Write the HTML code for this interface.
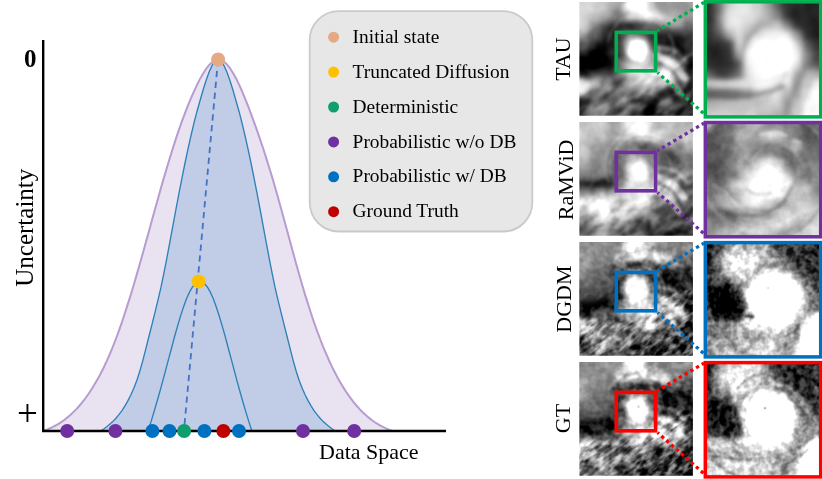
<!DOCTYPE html>
<html><head><meta charset="utf-8"><title>Figure</title>
<style>
html,body{margin:0;padding:0;background:#fff;}
svg{display:block;font-family:"Liberation Serif",serif;}
</style></head><body>
<svg width="822" height="479" viewBox="0 0 822 479">
<rect width="822" height="479" fill="#fff"/>
<defs>
<clipPath id="cpsTAU"><rect x="579.4" y="2.1" width="113.5" height="113.6"/></clipPath>
<filter id="blsTAU" x="-10%" y="-10%" width="120%" height="120%" color-interpolation-filters="sRGB"><feGaussianBlur stdDeviation="3.20"/></filter>
<filter id="sbsTAU" x="-10%" y="-10%" width="120%" height="120%" color-interpolation-filters="sRGB"><feGaussianBlur stdDeviation="3.00"/></filter>
<filter id="fbsTAU" x="-10%" y="-10%" width="120%" height="120%" color-interpolation-filters="sRGB"><feGaussianBlur stdDeviation="1.80"/></filter>
<filter id="sksTAU" x="0" y="0" width="100%" height="100%" color-interpolation-filters="sRGB"><feTurbulence type="fractalNoise" baseFrequency="0.045 0.11" numOctaves="3" seed="31"/><feColorMatrix type="matrix" values="1 0 0 0 0  1 0 0 0 0  1 0 0 0 0  1 0 0 0 0"/><feComponentTransfer><feFuncR type="discrete" tableValues="0 1"/><feFuncG type="discrete" tableValues="0 1"/><feFuncB type="discrete" tableValues="0 1"/><feFuncA type="table" tableValues="1 1 1 0.85 0.45 0 0.45 0.85 1 1 1"/></feComponentTransfer><feGaussianBlur stdDeviation="1.3"/></filter>
<filter id="mbsTAU" x="-20%" y="-20%" width="140%" height="140%"><feGaussianBlur stdDeviation="3.0"/></filter>
<mask id="mksTAU" maskUnits="userSpaceOnUse" x="579.4" y="2.1" width="113.5" height="113.6"><g filter="url(#mbsTAU)"><g transform="translate(579.40,2.10) scale(0.2370)"><path d="M-30.0,330.0 C0.0,329.2 96.7,328.3 150.0,325.0 C203.3,321.7 259.2,325.8 290.0,310.0 C320.8,294.2 300.0,245.8 335.0,230.0 C370.0,214.2 472.5,170.0 500.0,215.0 C527.5,260.0 588.3,452.5 500.0,500.0 C411.7,547.5 58.3,528.3 -30.0,500.0 C-118.3,471.7 -30.0,358.3 -30.0,330.0 Z" fill="#ffffff" opacity="1"/></g></g></mask>
<filter id="txsTAU" x="0" y="0" width="100%" height="100%" color-interpolation-filters="sRGB"><feTurbulence type="fractalNoise" baseFrequency="0.07" numOctaves="2" seed="3" result="n"/><feColorMatrix in="n" type="matrix" values="2.5 0 0 0 -0.75  2.5 0 0 0 -0.75  2.5 0 0 0 -0.75  0 0 0 0 1" result="g"/><feComposite in="SourceGraphic" in2="g" operator="arithmetic" k1="0" k2="1" k3="0.08" k4="-0.04" result="m"/><feComponentTransfer in="m"><feFuncR type="linear" slope="1.5" intercept="-0.25"/><feFuncG type="linear" slope="1.5" intercept="-0.25"/><feFuncB type="linear" slope="1.5" intercept="-0.25"/></feComponentTransfer></filter>
<filter id="pbsTAU" x="-10%" y="-10%" width="120%" height="120%" color-interpolation-filters="sRGB"><feGaussianBlur stdDeviation="2.50"/></filter>
<clipPath id="cplTAU"><rect x="704.0" y="1.0" width="117.0" height="116.6"/></clipPath>
<filter id="bllTAU" x="-10%" y="-10%" width="120%" height="120%" color-interpolation-filters="sRGB"><feGaussianBlur stdDeviation="3.00"/></filter>
<filter id="sblTAU" x="-10%" y="-10%" width="120%" height="120%" color-interpolation-filters="sRGB"><feGaussianBlur stdDeviation="5.50"/></filter>
<filter id="fblTAU" x="-10%" y="-10%" width="120%" height="120%" color-interpolation-filters="sRGB"><feGaussianBlur stdDeviation="2.20"/></filter>
<filter id="txlTAU" x="0" y="0" width="100%" height="100%" color-interpolation-filters="sRGB"><feTurbulence type="fractalNoise" baseFrequency="0.05" numOctaves="2" seed="7" result="n"/><feColorMatrix in="n" type="matrix" values="2.5 0 0 0 -0.75  2.5 0 0 0 -0.75  2.5 0 0 0 -0.75  0 0 0 0 1" result="g"/><feComposite in="SourceGraphic" in2="g" operator="arithmetic" k1="0" k2="1" k3="0.04" k4="-0.02" result="m"/><feComponentTransfer in="m"><feFuncR type="linear" slope="1.5" intercept="-0.25"/><feFuncG type="linear" slope="1.5" intercept="-0.25"/><feFuncB type="linear" slope="1.5" intercept="-0.25"/></feComponentTransfer></filter>
<clipPath id="cpsRaMViD"><rect x="579.4" y="122.1" width="113.5" height="113.6"/></clipPath>
<filter id="blsRaMViD" x="-10%" y="-10%" width="120%" height="120%" color-interpolation-filters="sRGB"><feGaussianBlur stdDeviation="3.20"/></filter>
<filter id="sbsRaMViD" x="-10%" y="-10%" width="120%" height="120%" color-interpolation-filters="sRGB"><feGaussianBlur stdDeviation="3.00"/></filter>
<filter id="fbsRaMViD" x="-10%" y="-10%" width="120%" height="120%" color-interpolation-filters="sRGB"><feGaussianBlur stdDeviation="1.20"/></filter>
<filter id="sksRaMViD" x="0" y="0" width="100%" height="100%" color-interpolation-filters="sRGB"><feTurbulence type="fractalNoise" baseFrequency="0.055 0.14" numOctaves="3" seed="32"/><feColorMatrix type="matrix" values="1 0 0 0 0  1 0 0 0 0  1 0 0 0 0  1 0 0 0 0"/><feComponentTransfer><feFuncR type="discrete" tableValues="0 1"/><feFuncG type="discrete" tableValues="0 1"/><feFuncB type="discrete" tableValues="0 1"/><feFuncA type="table" tableValues="1 1 1 0.85 0.45 0 0.45 0.85 1 1 1"/></feComponentTransfer><feGaussianBlur stdDeviation="0.8"/></filter>
<filter id="mbsRaMViD" x="-20%" y="-20%" width="140%" height="140%"><feGaussianBlur stdDeviation="3.0"/></filter>
<mask id="mksRaMViD" maskUnits="userSpaceOnUse" x="579.4" y="122.1" width="113.5" height="113.6"><g filter="url(#mbsRaMViD)"><g transform="translate(579.40,122.10) scale(0.2370)"><path d="M-30.0,330.0 C0.0,329.2 96.7,328.3 150.0,325.0 C203.3,321.7 259.2,325.8 290.0,310.0 C320.8,294.2 300.0,245.8 335.0,230.0 C370.0,214.2 472.5,170.0 500.0,215.0 C527.5,260.0 588.3,452.5 500.0,500.0 C411.7,547.5 58.3,528.3 -30.0,500.0 C-118.3,471.7 -30.0,358.3 -30.0,330.0 Z" fill="#ffffff" opacity="1"/></g></g></mask>
<filter id="txsRaMViD" x="0" y="0" width="100%" height="100%" color-interpolation-filters="sRGB"><feTurbulence type="fractalNoise" baseFrequency="0.10" numOctaves="2" seed="4" result="n"/><feColorMatrix in="n" type="matrix" values="2.5 0 0 0 -0.75  2.5 0 0 0 -0.75  2.5 0 0 0 -0.75  0 0 0 0 1" result="g"/><feComposite in="SourceGraphic" in2="g" operator="arithmetic" k1="0" k2="1" k3="0.09" k4="-0.045" result="m"/><feComponentTransfer in="m"><feFuncR type="linear" slope="1.4" intercept="-0.2"/><feFuncG type="linear" slope="1.4" intercept="-0.2"/><feFuncB type="linear" slope="1.4" intercept="-0.2"/></feComponentTransfer></filter>
<filter id="pbsRaMViD" x="-10%" y="-10%" width="120%" height="120%" color-interpolation-filters="sRGB"><feGaussianBlur stdDeviation="2.50"/></filter>
<clipPath id="cplRaMViD"><rect x="704.0" y="121.8" width="117.0" height="115.8"/></clipPath>
<filter id="bllRaMViD" x="-10%" y="-10%" width="120%" height="120%" color-interpolation-filters="sRGB"><feGaussianBlur stdDeviation="3.00"/></filter>
<filter id="sblRaMViD" x="-10%" y="-10%" width="120%" height="120%" color-interpolation-filters="sRGB"><feGaussianBlur stdDeviation="4.00"/></filter>
<filter id="fblRaMViD" x="-10%" y="-10%" width="120%" height="120%" color-interpolation-filters="sRGB"><feGaussianBlur stdDeviation="1.60"/></filter>
<filter id="txlRaMViD" x="0" y="0" width="100%" height="100%" color-interpolation-filters="sRGB"><feTurbulence type="fractalNoise" baseFrequency="0.08" numOctaves="3" seed="8" result="n"/><feColorMatrix in="n" type="matrix" values="2.5 0 0 0 -0.75  2.5 0 0 0 -0.75  2.5 0 0 0 -0.75  0 0 0 0 1" result="g"/><feComposite in="SourceGraphic" in2="g" operator="arithmetic" k1="0" k2="1" k3="0.07" k4="-0.035" result="m"/><feComponentTransfer in="m"><feFuncR type="linear" slope="1.4" intercept="-0.2"/><feFuncG type="linear" slope="1.4" intercept="-0.2"/><feFuncB type="linear" slope="1.4" intercept="-0.2"/></feComponentTransfer></filter>
<clipPath id="cpsDGDM"><rect x="579.4" y="242.1" width="113.5" height="113.6"/></clipPath>
<filter id="blsDGDM" x="-10%" y="-10%" width="120%" height="120%" color-interpolation-filters="sRGB"><feGaussianBlur stdDeviation="3.20"/></filter>
<filter id="sbsDGDM" x="-10%" y="-10%" width="120%" height="120%" color-interpolation-filters="sRGB"><feGaussianBlur stdDeviation="2.50"/></filter>
<filter id="fbsDGDM" x="-10%" y="-10%" width="120%" height="120%" color-interpolation-filters="sRGB"><feGaussianBlur stdDeviation="0.90"/></filter>
<filter id="sksDGDM" x="0" y="0" width="100%" height="100%" color-interpolation-filters="sRGB"><feTurbulence type="fractalNoise" baseFrequency="0.075 0.19" numOctaves="3" seed="33"/><feColorMatrix type="matrix" values="1 0 0 0 0  1 0 0 0 0  1 0 0 0 0  1 0 0 0 0"/><feComponentTransfer><feFuncR type="discrete" tableValues="0 1"/><feFuncG type="discrete" tableValues="0 1"/><feFuncB type="discrete" tableValues="0 1"/><feFuncA type="table" tableValues="1 1 1 0.85 0.45 0 0.45 0.85 1 1 1"/></feComponentTransfer><feGaussianBlur stdDeviation="0.45"/></filter>
<filter id="mbsDGDM" x="-20%" y="-20%" width="140%" height="140%"><feGaussianBlur stdDeviation="3.0"/></filter>
<mask id="mksDGDM" maskUnits="userSpaceOnUse" x="579.4" y="242.1" width="113.5" height="113.6"><g filter="url(#mbsDGDM)"><g transform="translate(579.40,242.10) scale(0.2370)"><path d="M-30.0,330.0 C0.0,329.2 96.7,328.3 150.0,325.0 C203.3,321.7 259.2,325.8 290.0,310.0 C320.8,294.2 300.0,245.8 335.0,230.0 C370.0,214.2 472.5,170.0 500.0,215.0 C527.5,260.0 588.3,452.5 500.0,500.0 C411.7,547.5 58.3,528.3 -30.0,500.0 C-118.3,471.7 -30.0,358.3 -30.0,330.0 Z" fill="#ffffff" opacity="1"/></g></g></mask>
<filter id="txsDGDM" x="0" y="0" width="100%" height="100%" color-interpolation-filters="sRGB"><feTurbulence type="fractalNoise" baseFrequency="0.13" numOctaves="2" seed="5" result="n"/><feColorMatrix in="n" type="matrix" values="2.5 0 0 0 -0.75  2.5 0 0 0 -0.75  2.5 0 0 0 -0.75  0 0 0 0 1" result="g"/><feComposite in="SourceGraphic" in2="g" operator="arithmetic" k1="0" k2="1" k3="0.15" k4="-0.075" result="m"/><feComponentTransfer in="m"><feFuncR type="linear" slope="1.9" intercept="-0.45"/><feFuncG type="linear" slope="1.9" intercept="-0.45"/><feFuncB type="linear" slope="1.9" intercept="-0.45"/></feComponentTransfer></filter>
<filter id="pbsDGDM" x="-10%" y="-10%" width="120%" height="120%" color-interpolation-filters="sRGB"><feGaussianBlur stdDeviation="2.50"/></filter>
<clipPath id="cplDGDM"><rect x="704.0" y="241.8" width="117.0" height="115.8"/></clipPath>
<filter id="bllDGDM" x="-10%" y="-10%" width="120%" height="120%" color-interpolation-filters="sRGB"><feGaussianBlur stdDeviation="3.00"/></filter>
<filter id="sblDGDM" x="-10%" y="-10%" width="120%" height="120%" color-interpolation-filters="sRGB"><feGaussianBlur stdDeviation="3.00"/></filter>
<filter id="fblDGDM" x="-10%" y="-10%" width="120%" height="120%" color-interpolation-filters="sRGB"><feGaussianBlur stdDeviation="0.90"/></filter>
<filter id="txlDGDM" x="0" y="0" width="100%" height="100%" color-interpolation-filters="sRGB"><feTurbulence type="fractalNoise" baseFrequency="0.16" numOctaves="2" seed="9" result="n"/><feColorMatrix in="n" type="matrix" values="2.5 0 0 0 -0.75  2.5 0 0 0 -0.75  2.5 0 0 0 -0.75  0 0 0 0 1" result="g"/><feComposite in="SourceGraphic" in2="g" operator="arithmetic" k1="0" k2="1" k3="0.16" k4="-0.08" result="m"/><feComponentTransfer in="m"><feFuncR type="linear" slope="1.9" intercept="-0.45"/><feFuncG type="linear" slope="1.9" intercept="-0.45"/><feFuncB type="linear" slope="1.9" intercept="-0.45"/></feComponentTransfer></filter>
<clipPath id="cpsGT"><rect x="579.4" y="362.1" width="113.5" height="113.6"/></clipPath>
<filter id="blsGT" x="-10%" y="-10%" width="120%" height="120%" color-interpolation-filters="sRGB"><feGaussianBlur stdDeviation="3.20"/></filter>
<filter id="sbsGT" x="-10%" y="-10%" width="120%" height="120%" color-interpolation-filters="sRGB"><feGaussianBlur stdDeviation="2.50"/></filter>
<filter id="fbsGT" x="-10%" y="-10%" width="120%" height="120%" color-interpolation-filters="sRGB"><feGaussianBlur stdDeviation="0.90"/></filter>
<filter id="sksGT" x="0" y="0" width="100%" height="100%" color-interpolation-filters="sRGB"><feTurbulence type="fractalNoise" baseFrequency="0.075 0.19" numOctaves="3" seed="34"/><feColorMatrix type="matrix" values="1 0 0 0 0  1 0 0 0 0  1 0 0 0 0  1 0 0 0 0"/><feComponentTransfer><feFuncR type="discrete" tableValues="0 1"/><feFuncG type="discrete" tableValues="0 1"/><feFuncB type="discrete" tableValues="0 1"/><feFuncA type="table" tableValues="1 1 1 0.85 0.45 0 0.45 0.85 1 1 1"/></feComponentTransfer><feGaussianBlur stdDeviation="0.45"/></filter>
<filter id="mbsGT" x="-20%" y="-20%" width="140%" height="140%"><feGaussianBlur stdDeviation="3.0"/></filter>
<mask id="mksGT" maskUnits="userSpaceOnUse" x="579.4" y="362.1" width="113.5" height="113.6"><g filter="url(#mbsGT)"><g transform="translate(579.40,362.10) scale(0.2370)"><path d="M-30.0,330.0 C0.0,329.2 96.7,328.3 150.0,325.0 C203.3,321.7 259.2,325.8 290.0,310.0 C320.8,294.2 300.0,245.8 335.0,230.0 C370.0,214.2 472.5,170.0 500.0,215.0 C527.5,260.0 588.3,452.5 500.0,500.0 C411.7,547.5 58.3,528.3 -30.0,500.0 C-118.3,471.7 -30.0,358.3 -30.0,330.0 Z" fill="#ffffff" opacity="1"/></g></g></mask>
<filter id="txsGT" x="0" y="0" width="100%" height="100%" color-interpolation-filters="sRGB"><feTurbulence type="fractalNoise" baseFrequency="0.13" numOctaves="2" seed="6" result="n"/><feColorMatrix in="n" type="matrix" values="2.5 0 0 0 -0.75  2.5 0 0 0 -0.75  2.5 0 0 0 -0.75  0 0 0 0 1" result="g"/><feComposite in="SourceGraphic" in2="g" operator="arithmetic" k1="0" k2="1" k3="0.15" k4="-0.075" result="m"/><feComponentTransfer in="m"><feFuncR type="linear" slope="1.9" intercept="-0.45"/><feFuncG type="linear" slope="1.9" intercept="-0.45"/><feFuncB type="linear" slope="1.9" intercept="-0.45"/></feComponentTransfer></filter>
<filter id="pbsGT" x="-10%" y="-10%" width="120%" height="120%" color-interpolation-filters="sRGB"><feGaussianBlur stdDeviation="2.50"/></filter>
<clipPath id="cplGT"><rect x="704.0" y="361.8" width="117.0" height="115.8"/></clipPath>
<filter id="bllGT" x="-10%" y="-10%" width="120%" height="120%" color-interpolation-filters="sRGB"><feGaussianBlur stdDeviation="3.00"/></filter>
<filter id="sblGT" x="-10%" y="-10%" width="120%" height="120%" color-interpolation-filters="sRGB"><feGaussianBlur stdDeviation="3.00"/></filter>
<filter id="fblGT" x="-10%" y="-10%" width="120%" height="120%" color-interpolation-filters="sRGB"><feGaussianBlur stdDeviation="0.90"/></filter>
<filter id="txlGT" x="0" y="0" width="100%" height="100%" color-interpolation-filters="sRGB"><feTurbulence type="fractalNoise" baseFrequency="0.16" numOctaves="2" seed="10" result="n"/><feColorMatrix in="n" type="matrix" values="2.5 0 0 0 -0.75  2.5 0 0 0 -0.75  2.5 0 0 0 -0.75  0 0 0 0 1" result="g"/><feComposite in="SourceGraphic" in2="g" operator="arithmetic" k1="0" k2="1" k3="0.16" k4="-0.08" result="m"/><feComponentTransfer in="m"><feFuncR type="linear" slope="1.9" intercept="-0.45"/><feFuncG type="linear" slope="1.9" intercept="-0.45"/><feFuncB type="linear" slope="1.9" intercept="-0.45"/></feComponentTransfer></filter>
</defs>
<g id="chart">
<path d="M43.5,431.0 L46.5,429.8 L49.5,428.5 L52.5,427.1 L55.5,425.5 L58.5,423.8 L61.6,421.8 L64.6,419.7 L67.6,417.3 L70.6,414.8 L73.6,411.9 L76.6,408.9 L79.6,405.5 L82.6,401.9 L85.6,398.0 L88.6,393.8 L91.6,389.2 L94.6,384.3 L97.7,379.1 L100.7,373.5 L103.7,367.5 L106.7,361.1 L109.7,354.3 L112.7,347.1 L115.7,339.5 L118.7,331.4 L121.7,322.8 L124.7,313.8 L127.7,304.4 L130.8,294.7 L133.8,284.7 L136.8,274.4 L139.8,263.9 L142.8,253.3 L145.8,242.5 L148.8,231.7 L151.8,220.8 L154.8,210.0 L157.8,199.2 L160.8,188.5 L163.8,178.1 L166.9,167.8 L169.9,157.8 L172.9,148.1 L175.9,138.8 L178.9,129.9 L181.9,121.4 L184.9,113.4 L187.9,105.7 L190.9,98.4 L193.9,91.6 L196.9,85.1 L199.9,79.1 L203.0,73.7 L206.0,69.0 L209.0,65.1 L212.0,62.2 L215.0,60.2 L218.0,59.5 L221.0,60.0 L224.0,61.7 L227.0,64.5 L230.0,68.3 L233.0,73.0 L236.1,78.4 L239.1,84.6 L242.1,91.3 L245.1,98.6 L248.1,106.2 L251.1,114.1 L254.1,122.3 L257.1,130.6 L260.1,139.3 L263.1,148.3 L266.1,157.6 L269.1,167.3 L272.2,177.3 L275.2,187.7 L278.2,198.3 L281.2,209.1 L284.2,220.1 L287.2,231.1 L290.2,242.1 L293.2,253.0 L296.2,263.9 L299.2,274.5 L302.2,285.0 L305.2,295.1 L308.3,304.8 L311.3,314.2 L314.3,323.1 L317.3,331.5 L320.3,339.5 L323.3,347.1 L326.3,354.2 L329.3,361.0 L332.3,367.4 L335.3,373.3 L338.3,378.9 L341.4,384.2 L344.4,389.1 L347.4,393.7 L350.4,397.9 L353.4,401.9 L356.4,405.5 L359.4,408.9 L362.4,412.0 L365.4,414.8 L368.4,417.4 L371.4,419.8 L374.4,422.0 L377.5,423.9 L380.5,425.7 L383.5,427.2 L386.5,428.6 L389.5,429.9 L392.5,431.0 Z" fill="#e9e3f1" stroke="#b79ccf" stroke-width="2"/>
<path d="M100.7,431.0 L103.7,429.0 L106.7,426.8 L109.7,424.3 L112.7,421.6 L115.7,418.5 L118.7,414.9 L121.8,410.8 L124.8,406.2 L127.8,400.9 L130.8,395.0 L133.8,388.2 L136.8,380.4 L139.8,371.3 L142.8,360.6 L145.8,348.9 L148.8,337.0 L151.8,325.1 L154.8,313.1 L157.8,300.8 L160.9,287.7 L163.9,273.2 L166.9,257.8 L169.9,241.8 L172.9,225.6 L175.9,209.5 L178.9,193.7 L181.9,178.4 L184.9,163.5 L187.9,149.4 L190.9,136.0 L193.9,123.4 L196.9,111.7 L200.0,100.7 L203.0,90.3 L206.0,80.7 L209.0,72.3 L212.0,65.6 L215.0,61.1 L218.0,59.5 L221.0,61.1 L224.0,65.6 L227.0,72.3 L230.0,80.7 L233.0,90.3 L236.0,100.7 L239.1,111.7 L242.1,123.4 L245.1,136.0 L248.1,149.4 L251.1,163.5 L254.1,178.4 L257.1,193.7 L260.1,209.5 L263.1,225.6 L266.1,241.8 L269.1,257.8 L272.1,273.2 L275.1,287.7 L278.2,300.8 L281.2,313.1 L284.2,325.1 L287.2,337.0 L290.2,348.9 L293.2,360.6 L296.2,371.3 L299.2,380.4 L302.2,388.2 L305.2,395.0 L308.2,400.9 L311.2,406.2 L314.2,410.8 L317.3,414.9 L320.3,418.5 L323.3,421.6 L326.3,424.3 L329.3,426.8 L332.3,429.0 L335.3,431.0 Z" fill="#c1cde6" stroke="#2f80b9" stroke-width="1.35"/>
<path d="M147.9,431.0 L150.9,422.1 L153.8,412.5 L156.8,402.3 L159.8,391.8 L162.8,380.9 L165.7,369.8 L168.7,358.6 L171.7,347.5 L174.6,336.5 L177.6,325.9 L180.6,315.9 L183.6,306.8 L186.5,298.8 L189.5,292.1 L192.5,287.0 L195.4,283.5 L198.4,281.7 L201.4,281.7 L204.4,283.5 L207.3,287.0 L210.3,292.1 L213.3,298.8 L216.2,306.8 L219.2,316.0 L222.2,325.9 L225.2,336.5 L228.1,347.5 L231.1,358.6 L234.1,369.8 L237.0,380.9 L240.0,391.8 L243.0,402.3 L246.0,412.4 L248.9,421.9 L251.9,431.0" fill="none" stroke="#2f80b9" stroke-width="1.35"/>
<line x1="218" y1="60" x2="184" y2="430" stroke="#4472c4" stroke-width="1.8" stroke-dasharray="6.3,4.6"/>
<path d="M43.2,40 V431.0 H446" fill="none" stroke="#000" stroke-width="2.4" stroke-linejoin="miter"/>
<circle cx="67.2" cy="431.0" r="7" fill="#7030a0"/>
<circle cx="115.4" cy="431.0" r="7" fill="#7030a0"/>
<circle cx="152.4" cy="431.0" r="7" fill="#0070c0"/>
<circle cx="169.5" cy="431.0" r="7" fill="#0070c0"/>
<circle cx="204.4" cy="431.0" r="7" fill="#0070c0"/>
<circle cx="239.0" cy="431.0" r="7" fill="#0070c0"/>
<circle cx="184.1" cy="431.0" r="7" fill="#0f9e6e"/>
<circle cx="223.4" cy="431.0" r="7" fill="#c00000"/>
<circle cx="303.0" cy="431.0" r="7" fill="#7030a0"/>
<circle cx="354.2" cy="431.0" r="7" fill="#7030a0"/>
<circle cx="218.1" cy="59.5" r="7" fill="#e5a984"/>
<circle cx="198.7" cy="281.5" r="7" fill="#ffc000"/>
<text x="24" y="67" font-size="25" font-weight="bold">0</text>
<text x="17.1" y="425.8" font-size="37">+</text>
<text transform="translate(33.3,286.7) rotate(-90)" font-size="25">Uncertainty</text>
<text x="319" y="459.3" font-size="22">Data Space</text>
</g>
<g id="legend">
<rect x="309.7" y="11.2" width="222.6" height="220.3" rx="29" ry="29" fill="#e7e7e7" stroke="#cbc9cb" stroke-width="1.8"/>
<circle cx="333.6" cy="37.2" r="5.5" fill="#e5a984"/>
<text x="352.6" y="42.8" font-size="19.4">Initial state</text>
<circle cx="333.6" cy="72.1" r="5.5" fill="#ffc000"/>
<text x="352.6" y="77.7" font-size="19.4">Truncated Diffusion</text>
<circle cx="333.6" cy="107.0" r="5.5" fill="#0f9e6e"/>
<text x="352.6" y="112.6" font-size="19.4">Deterministic</text>
<circle cx="333.6" cy="141.9" r="5.5" fill="#7030a0"/>
<text x="352.6" y="147.5" font-size="19.4">Probabilistic w/o DB</text>
<circle cx="333.6" cy="176.8" r="5.5" fill="#0070c0"/>
<text x="352.6" y="182.4" font-size="19.4">Probabilistic w/ DB</text>
<circle cx="333.6" cy="211.7" r="5.5" fill="#c00000"/>
<text x="352.6" y="217.3" font-size="19.4">Ground Truth</text>
</g>
<g id="panels">
<g clip-path="url(#cpsTAU)">
<g filter="url(#txsTAU)"><g filter="url(#blsTAU)"><g transform="translate(579.40,2.10) scale(9.4583,9.4667)">
<rect x="-3" y="-3" width="18" height="18" fill="#808080"/>
<path fill="#141414" d="M-2,6h1.04v1.04h-1.04zM-1,6h1.04v1.04h-1.04zM0,6h1.04v1.04h-1.04zM1,6h1.04v1.04h-1.04z"/>
<path fill="#1e1e1e" d="M2,6h1.04v1.04h-1.04z"/>
<path fill="#282828" d="M1,5h1.04v1.04h-1.04zM2,5h1.04v1.04h-1.04z"/>
<path fill="#323232" d="M2,4h1.04v1.04h-1.04zM9,4h1.04v1.04h-1.04zM3,6h1.04v1.04h-1.04zM6,10h1.04v1.04h-1.04zM11,10h1.04v1.04h-1.04zM12,10h1.04v1.04h-1.04zM13,10h1.04v1.04h-1.04zM-2,11h1.04v1.04h-1.04zM-1,11h1.04v1.04h-1.04zM0,11h1.04v1.04h-1.04zM7,11h1.04v1.04h-1.04zM8,11h1.04v1.04h-1.04zM-2,12h1.04v1.04h-1.04zM-1,12h1.04v1.04h-1.04zM0,12h1.04v1.04h-1.04zM7,12h1.04v1.04h-1.04zM8,12h1.04v1.04h-1.04zM-2,13h1.04v1.04h-1.04zM-1,13h1.04v1.04h-1.04zM0,13h1.04v1.04h-1.04zM7,13h1.04v1.04h-1.04zM8,13h1.04v1.04h-1.04z"/>
<path fill="#3c3c3c" d="M4,2h1.04v1.04h-1.04zM3,3h1.04v1.04h-1.04zM8,3h1.04v1.04h-1.04zM9,3h1.04v1.04h-1.04zM3,4h1.04v1.04h-1.04zM8,4h1.04v1.04h-1.04zM10,4h1.04v1.04h-1.04zM-2,5h1.04v1.04h-1.04zM-1,5h1.04v1.04h-1.04zM0,5h1.04v1.04h-1.04zM11,6h1.04v1.04h-1.04zM12,6h1.04v1.04h-1.04zM13,6h1.04v1.04h-1.04zM-2,7h1.04v1.04h-1.04zM-1,7h1.04v1.04h-1.04zM0,7h1.04v1.04h-1.04zM9,9h1.04v1.04h-1.04zM10,9h1.04v1.04h-1.04zM11,9h1.04v1.04h-1.04zM12,9h1.04v1.04h-1.04zM13,9h1.04v1.04h-1.04zM-2,10h1.04v1.04h-1.04zM-1,10h1.04v1.04h-1.04zM0,10h1.04v1.04h-1.04zM7,10h1.04v1.04h-1.04zM10,10h1.04v1.04h-1.04zM10,11h1.04v1.04h-1.04zM11,11h1.04v1.04h-1.04zM12,11h1.04v1.04h-1.04zM13,11h1.04v1.04h-1.04zM10,12h1.04v1.04h-1.04zM11,12h1.04v1.04h-1.04zM12,12h1.04v1.04h-1.04zM13,12h1.04v1.04h-1.04zM10,13h1.04v1.04h-1.04zM11,13h1.04v1.04h-1.04zM12,13h1.04v1.04h-1.04zM13,13h1.04v1.04h-1.04z"/>
<path fill="#464646" d="M3,2h1.04v1.04h-1.04zM2,3h1.04v1.04h-1.04zM10,3h1.04v1.04h-1.04zM1,4h1.04v1.04h-1.04zM11,4h1.04v1.04h-1.04zM12,4h1.04v1.04h-1.04zM13,4h1.04v1.04h-1.04zM3,5h1.04v1.04h-1.04zM10,5h1.04v1.04h-1.04zM11,5h1.04v1.04h-1.04zM12,5h1.04v1.04h-1.04zM13,5h1.04v1.04h-1.04zM11,8h1.04v1.04h-1.04zM12,8h1.04v1.04h-1.04zM13,8h1.04v1.04h-1.04zM8,9h1.04v1.04h-1.04zM5,10h1.04v1.04h-1.04zM9,11h1.04v1.04h-1.04zM9,12h1.04v1.04h-1.04zM9,13h1.04v1.04h-1.04z"/>
<path fill="#505050" d="M5,2h1.04v1.04h-1.04zM7,3h1.04v1.04h-1.04zM11,3h1.04v1.04h-1.04zM12,3h1.04v1.04h-1.04zM13,3h1.04v1.04h-1.04zM9,5h1.04v1.04h-1.04zM11,7h1.04v1.04h-1.04zM12,7h1.04v1.04h-1.04zM13,7h1.04v1.04h-1.04zM8,10h1.04v1.04h-1.04zM5,11h1.04v1.04h-1.04zM6,11h1.04v1.04h-1.04zM5,12h1.04v1.04h-1.04zM6,12h1.04v1.04h-1.04zM5,13h1.04v1.04h-1.04zM6,13h1.04v1.04h-1.04z"/>
<path fill="#5a5a5a" d="M4,1h1.04v1.04h-1.04zM4,5h1.04v1.04h-1.04zM9,10h1.04v1.04h-1.04zM1,11h1.04v1.04h-1.04zM4,11h1.04v1.04h-1.04zM1,12h1.04v1.04h-1.04zM4,12h1.04v1.04h-1.04zM1,13h1.04v1.04h-1.04zM4,13h1.04v1.04h-1.04z"/>
<path fill="#646464" d="M2,2h1.04v1.04h-1.04zM6,2h1.04v1.04h-1.04zM1,3h1.04v1.04h-1.04zM-2,4h1.04v1.04h-1.04zM-1,4h1.04v1.04h-1.04zM0,4h1.04v1.04h-1.04zM8,5h1.04v1.04h-1.04zM3,7h1.04v1.04h-1.04zM5,9h1.04v1.04h-1.04zM1,10h1.04v1.04h-1.04z"/>
<path fill="#6e6e6e" d="M3,1h1.04v1.04h-1.04zM11,2h1.04v1.04h-1.04zM12,2h1.04v1.04h-1.04zM13,2h1.04v1.04h-1.04zM4,3h1.04v1.04h-1.04zM7,4h1.04v1.04h-1.04zM1,7h1.04v1.04h-1.04zM2,7h1.04v1.04h-1.04zM2,8h1.04v1.04h-1.04zM4,8h1.04v1.04h-1.04zM10,8h1.04v1.04h-1.04zM2,9h1.04v1.04h-1.04zM3,11h1.04v1.04h-1.04zM3,12h1.04v1.04h-1.04zM3,13h1.04v1.04h-1.04z"/>
<path fill="#787878" d="M1,2h1.04v1.04h-1.04zM7,2h1.04v1.04h-1.04zM10,2h1.04v1.04h-1.04zM6,3h1.04v1.04h-1.04zM3,8h1.04v1.04h-1.04zM4,9h1.04v1.04h-1.04z"/>
<path fill="#828282" d="M5,3h1.04v1.04h-1.04zM4,4h1.04v1.04h-1.04zM5,8h1.04v1.04h-1.04zM3,9h1.04v1.04h-1.04zM7,9h1.04v1.04h-1.04zM2,10h1.04v1.04h-1.04zM4,10h1.04v1.04h-1.04zM2,11h1.04v1.04h-1.04zM2,12h1.04v1.04h-1.04zM2,13h1.04v1.04h-1.04z"/>
<path fill="#8c8c8c" d="M4,-2h1.04v1.04h-1.04zM4,-1h1.04v1.04h-1.04zM4,0h1.04v1.04h-1.04zM11,1h1.04v1.04h-1.04zM12,1h1.04v1.04h-1.04zM13,1h1.04v1.04h-1.04zM9,2h1.04v1.04h-1.04zM7,5h1.04v1.04h-1.04zM9,8h1.04v1.04h-1.04zM3,10h1.04v1.04h-1.04z"/>
<path fill="#969696" d="M8,-2h1.04v1.04h-1.04zM9,-2h1.04v1.04h-1.04zM10,-2h1.04v1.04h-1.04zM11,-2h1.04v1.04h-1.04zM12,-2h1.04v1.04h-1.04zM13,-2h1.04v1.04h-1.04zM8,-1h1.04v1.04h-1.04zM9,-1h1.04v1.04h-1.04zM10,-1h1.04v1.04h-1.04zM11,-1h1.04v1.04h-1.04zM12,-1h1.04v1.04h-1.04zM13,-1h1.04v1.04h-1.04zM8,0h1.04v1.04h-1.04zM9,0h1.04v1.04h-1.04zM10,0h1.04v1.04h-1.04zM11,0h1.04v1.04h-1.04zM12,0h1.04v1.04h-1.04zM13,0h1.04v1.04h-1.04zM2,1h1.04v1.04h-1.04zM10,1h1.04v1.04h-1.04zM8,2h1.04v1.04h-1.04zM-2,3h1.04v1.04h-1.04zM-1,3h1.04v1.04h-1.04zM0,3h1.04v1.04h-1.04zM10,6h1.04v1.04h-1.04zM4,7h1.04v1.04h-1.04zM10,7h1.04v1.04h-1.04zM1,9h1.04v1.04h-1.04zM6,9h1.04v1.04h-1.04z"/>
<path fill="#a0a0a0" d="M3,-2h1.04v1.04h-1.04zM3,-1h1.04v1.04h-1.04zM3,0h1.04v1.04h-1.04z"/>
<path fill="#aaaaaa" d="M7,-2h1.04v1.04h-1.04zM7,-1h1.04v1.04h-1.04zM7,0h1.04v1.04h-1.04zM5,1h1.04v1.04h-1.04zM9,1h1.04v1.04h-1.04zM4,6h1.04v1.04h-1.04zM7,6h1.04v1.04h-1.04zM1,8h1.04v1.04h-1.04zM6,8h1.04v1.04h-1.04zM8,8h1.04v1.04h-1.04z"/>
<path fill="#b4b4b4" d="M1,1h1.04v1.04h-1.04zM9,6h1.04v1.04h-1.04zM5,7h1.04v1.04h-1.04z"/>
<path fill="#bebebe" d="M-2,-2h1.04v1.04h-1.04zM-1,-2h1.04v1.04h-1.04zM0,-2h1.04v1.04h-1.04zM2,-2h1.04v1.04h-1.04zM-2,-1h1.04v1.04h-1.04zM-1,-1h1.04v1.04h-1.04zM0,-1h1.04v1.04h-1.04zM2,-1h1.04v1.04h-1.04zM-2,0h1.04v1.04h-1.04zM-1,0h1.04v1.04h-1.04zM0,0h1.04v1.04h-1.04zM2,0h1.04v1.04h-1.04zM8,1h1.04v1.04h-1.04zM-2,2h1.04v1.04h-1.04zM-1,2h1.04v1.04h-1.04zM0,2h1.04v1.04h-1.04zM8,6h1.04v1.04h-1.04zM6,7h1.04v1.04h-1.04zM8,7h1.04v1.04h-1.04zM-2,9h1.04v1.04h-1.04zM-1,9h1.04v1.04h-1.04zM0,9h1.04v1.04h-1.04z"/>
<path fill="#c8c8c8" d="M1,-2h1.04v1.04h-1.04zM1,-1h1.04v1.04h-1.04zM1,0h1.04v1.04h-1.04zM-2,1h1.04v1.04h-1.04zM-1,1h1.04v1.04h-1.04zM0,1h1.04v1.04h-1.04zM6,1h1.04v1.04h-1.04zM5,4h1.04v1.04h-1.04zM5,6h1.04v1.04h-1.04zM6,6h1.04v1.04h-1.04zM7,7h1.04v1.04h-1.04zM9,7h1.04v1.04h-1.04zM-2,8h1.04v1.04h-1.04zM-1,8h1.04v1.04h-1.04zM0,8h1.04v1.04h-1.04zM7,8h1.04v1.04h-1.04z"/>
<path fill="#d2d2d2" d="M7,1h1.04v1.04h-1.04z"/>
<path fill="#d7d7d7" d="M5,-2h1.04v1.04h-1.04zM5,-1h1.04v1.04h-1.04zM5,0h1.04v1.04h-1.04z"/>
<path fill="#dcdcdc" d="M6,4h1.04v1.04h-1.04zM5,5h1.04v1.04h-1.04z"/>
<path fill="#e1e1e1" d="M6,-2h1.04v1.04h-1.04zM6,-1h1.04v1.04h-1.04zM6,0h1.04v1.04h-1.04z"/>
<path fill="#f0f0f0" d="M6,5h1.04v1.04h-1.04z"/>
</g></g>
<g filter="url(#sbsTAU)"><g transform="translate(579.40,2.10) scale(0.2370)">
<path d="M0.0,238.0 C20.0,237.0 95.0,228.3 120.0,232.0 C145.0,235.7 146.7,248.7 150.0,260.0 C153.3,271.3 155.0,291.7 140.0,300.0 C125.0,308.3 83.3,309.2 60.0,310.0 C36.7,310.8 10.0,317.0 0.0,305.0 C-10.0,293.0 0.0,249.2 0.0,238.0 Z" fill="#282828" opacity="0.5"/>
<path d="M135.0,125.0 C145.8,120.8 174.2,105.0 200.0,100.0 C225.8,95.0 265.0,91.7 290.0,95.0 C315.0,98.3 328.3,108.3 350.0,120.0 C371.7,131.7 408.3,157.5 420.0,165.0" fill="none" stroke="#2d2d2d" stroke-width="24" stroke-linecap="round" opacity="0.45"/>
<path d="M150.0,72.0 C166.7,69.2 220.0,56.2 250.0,55.0 C280.0,53.8 301.7,58.3 330.0,65.0 C358.3,71.7 405.0,90.0 420.0,95.0" fill="none" stroke="#dcdcdc" stroke-width="22" stroke-linecap="round" opacity="0.45"/>
<ellipse cx="225" cy="18" rx="50" ry="26" fill="#f0f0f0" opacity="0.6" transform="rotate(0 225 18)"/>
<ellipse cx="248" cy="200" rx="42" ry="45" fill="#fcfcfc" opacity="0.7" transform="rotate(0 248 200)"/>
<path d="M178.0,135.0 C175.8,145.8 164.3,177.5 165.0,200.0 C165.7,222.5 179.2,258.3 182.0,270.0" fill="none" stroke="#282828" stroke-width="20" stroke-linecap="round" opacity="0.55"/>
</g></g>
<g filter="url(#fbsTAU)"><g transform="translate(579.40,2.10) scale(0.2370)">
<path d="M325.0,228.0 C335.8,232.5 370.0,239.7 390.0,255.0 C410.0,270.3 435.8,309.2 445.0,320.0" fill="none" stroke="#f0f0f0" stroke-width="27.828" stroke-linecap="round" opacity="0.42"/>
<path d="M300.0,290.0 C311.7,294.7 349.2,302.2 370.0,318.0 C390.8,333.8 415.8,373.8 425.0,385.0" fill="none" stroke="#f0f0f0" stroke-width="25.2982" stroke-linecap="round" opacity="0.38"/>
<path d="M335.0,190.0 C345.8,192.5 380.8,195.0 400.0,205.0 C419.2,215.0 441.7,242.5 450.0,250.0" fill="none" stroke="#ebebeb" stroke-width="20.2386" stroke-linecap="round" opacity="0.25"/>
<path d="M335.0,258.0 C344.5,263.7 375.8,276.3 392.0,292.0 C408.2,307.7 425.3,342.0 432.0,352.0" fill="none" stroke="#323232" stroke-width="15.1789" stroke-linecap="round" opacity="0.35"/>
<path d="M376.8,134.2 C379.2,138.8 387.3,151.9 391.1,161.5 C394.9,171.1 397.9,181.5 399.6,191.9 C401.3,202.3 402.0,213.4 401.5,224.2 C401.0,235.0 399.4,246.2 396.5,256.9 C393.6,267.6 389.5,278.3 384.4,288.4 C379.2,298.5 368.7,312.6 365.6,317.4" fill="none" stroke="#ebebeb" stroke-width="8.6" stroke-linecap="round" opacity="0.15"/>
<path d="M190.4,189.0 C190.4,186.8 190.0,180.2 190.6,175.8 C191.2,171.4 192.2,166.8 193.9,162.4 C195.6,158.0 199.4,151.5 200.5,149.3" fill="none" stroke="#ebebeb" stroke-width="6.2" stroke-linecap="round" opacity="0.16"/>
<path d="M301.4,208.4 C301.5,210.4 302.1,216.4 301.8,220.6 C301.5,224.8 300.7,229.1 299.4,233.3 C298.1,237.5 296.2,241.8 293.9,245.8 C291.5,249.8 288.6,253.7 285.3,257.3 C282.0,260.9 278.1,264.3 273.9,267.2 C269.7,270.1 262.2,273.4 259.9,274.7" fill="none" stroke="#ebebeb" stroke-width="8.1" stroke-linecap="round" opacity="0.19"/>
<path d="M215.7,239.5 C214.0,238.6 208.7,236.4 205.4,234.2 C202.1,232.0 198.9,229.3 196.0,226.2 C193.1,223.1 190.4,219.6 188.2,215.8 C186.0,212.0 184.0,207.7 182.6,203.2 C181.2,198.7 180.3,193.8 179.9,188.9 C179.5,184.0 180.2,176.2 180.3,173.7" fill="none" stroke="#323232" stroke-width="9" stroke-linecap="round" opacity="0.18"/>
<path d="M329.7,184.8 C330.5,187.7 333.7,196.2 334.7,202.2 C335.7,208.2 336.1,214.6 335.8,221.0 C335.5,227.4 334.5,234.0 332.8,240.4 C331.1,246.8 328.6,253.2 325.4,259.3 C322.2,265.4 318.3,271.4 313.7,276.8 C309.1,282.2 300.6,289.5 298.0,292.0" fill="none" stroke="#ebebeb" stroke-width="8.5" stroke-linecap="round" opacity="0.18"/>
<path d="M226.7,249.6 C224.7,249.2 218.7,248.4 214.8,247.1 C210.9,245.8 206.8,243.9 203.1,241.6 C199.3,239.3 195.6,236.4 192.3,233.2 C189.0,229.9 184.8,223.9 183.3,222.1" fill="none" stroke="#323232" stroke-width="8.6" stroke-linecap="round" opacity="0.16"/>
<path d="M207.9,150.0 C209.5,148.2 213.8,142.7 217.5,139.5 C221.2,136.3 225.4,133.4 229.9,131.0 C234.4,128.6 242.0,126.2 244.4,125.2" fill="none" stroke="#ebebeb" stroke-width="10" stroke-linecap="round" opacity="0.12"/>
<path d="M289.7,236.4 C288.6,238.2 286.0,243.8 283.4,247.2 C280.8,250.6 275.8,255.2 274.3,256.8" fill="none" stroke="#ebebeb" stroke-width="8.5" stroke-linecap="round" opacity="0.2"/>
<path d="M207.3,273.2 C204.5,272.0 195.8,269.0 190.5,265.9 C185.2,262.8 179.9,259.0 175.2,254.7 C170.5,250.4 164.4,242.4 162.2,239.9" fill="none" stroke="#ebebeb" stroke-width="9.8" stroke-linecap="round" opacity="0.17"/>
<path d="M245.0,256.2 C242.9,256.5 236.8,257.8 232.5,257.8 C228.2,257.9 223.6,257.4 219.2,256.5 C214.8,255.6 210.2,254.1 205.8,252.1 C201.5,250.1 197.1,247.5 193.1,244.4 C189.1,241.3 185.2,237.8 181.8,233.7 C178.4,229.6 174.3,222.4 172.8,220.1" fill="none" stroke="#323232" stroke-width="10.1" stroke-linecap="round" opacity="0.13"/>
<path d="M112.3,160.1 C113.7,155.3 116.7,140.5 120.4,131.1 C124.1,121.7 128.9,112.3 134.7,103.7 C140.5,95.1 147.3,86.8 155.0,79.4 C162.7,72.0 171.4,65.2 180.6,59.5 C189.8,53.8 205.4,47.4 210.4,45.0" fill="none" stroke="#323232" stroke-width="5.9" stroke-linecap="round" opacity="0.22"/>
<path d="M331.3,230.5 C330.4,233.6 328.6,243.0 326.2,249.1 C323.8,255.2 318.4,263.9 316.8,266.8" fill="none" stroke="#323232" stroke-width="9.2" stroke-linecap="round" opacity="0.22"/>
<path d="M297.0,63.9 C301.9,65.6 316.8,69.6 326.1,74.0 C335.5,78.4 344.7,84.0 353.1,90.4 C361.5,96.8 369.5,104.3 376.5,112.6 C383.5,120.8 389.9,130.1 395.2,139.9 C400.5,149.7 406.0,166.0 408.1,171.2" fill="none" stroke="#323232" stroke-width="9.6" stroke-linecap="round" opacity="0.14"/>
<path d="M331.5,186.4 C332.3,189.4 335.2,198.1 336.1,204.3 C337.0,210.5 337.2,217.0 336.7,223.4 C336.2,229.8 333.8,239.7 333.2,243.0" fill="none" stroke="#ebebeb" stroke-width="7.8" stroke-linecap="round" opacity="0.12"/>
<path d="M380.4,141.3 C382.5,146.0 389.9,159.6 393.2,169.4 C396.5,179.2 398.9,189.7 400.0,200.2 C401.1,210.7 400.1,227.2 400.1,232.6" fill="none" stroke="#ebebeb" stroke-width="8.2" stroke-linecap="round" opacity="0.12"/>
<path d="M122.5,164.7 C123.7,160.2 126.1,146.5 129.4,137.7 C132.7,128.9 137.0,120.2 142.2,112.1 C147.4,104.0 157.4,93.0 160.5,89.2" fill="none" stroke="#ebebeb" stroke-width="10.6" stroke-linecap="round" opacity="0.16"/>
</g></g>
<g mask="url(#mksTAU)" opacity="0.26"><g transform="rotate(-38 636.1 58.9)"><rect x="551.0" y="-26.3" width="170.2" height="170.4" filter="url(#sksTAU)"/></g></g></g>
<g filter="url(#pbsTAU)"><g transform="translate(579.40,2.10) scale(0.2370)">
<path d="M-20.0,-20.0 C12.5,-20.0 148.3,-31.7 175.0,-20.0 C201.7,-8.3 152.5,31.7 140.0,50.0 C127.5,68.3 116.7,78.3 100.0,90.0 C83.3,101.7 60.0,112.5 40.0,120.0 C20.0,127.5 -10.0,158.3 -20.0,135.0 C-30.0,111.7 -20.0,5.8 -20.0,-20.0 Z" fill="#b9b9b9" opacity="0.4"/>
<path d="M310.0,-20.0 C341.7,-20.0 468.3,-35.8 500.0,-20.0 C531.7,-4.2 513.3,61.3 500.0,75.0 C486.7,88.7 446.7,68.2 420.0,62.0 C393.3,55.8 358.3,51.7 340.0,38.0 C321.7,24.3 315.0,-10.3 310.0,-20.0 Z" fill="#969696" opacity="0.35"/>
</g></g>
</g>
<g clip-path="url(#cplTAU)">
<g filter="url(#txlTAU)"><g filter="url(#bllTAU)"><g transform="translate(704.00,1.00) scale(9.7500,9.7167)">
<rect x="-3" y="-3" width="18" height="18" fill="#808080"/>
<path fill="#3f3f3f" d="M1,5h1.04v1.04h-1.04z"/>
<path fill="#474747" d="M-2,-2h1.04v1.04h-1.04zM-1,-2h1.04v1.04h-1.04zM0,-2h1.04v1.04h-1.04zM-2,-1h1.04v1.04h-1.04zM-1,-1h1.04v1.04h-1.04zM0,-1h1.04v1.04h-1.04zM-2,0h1.04v1.04h-1.04zM-1,0h1.04v1.04h-1.04zM0,0h1.04v1.04h-1.04zM-2,1h1.04v1.04h-1.04zM-1,1h1.04v1.04h-1.04zM0,1h1.04v1.04h-1.04zM9,1h1.04v1.04h-1.04zM10,1h1.04v1.04h-1.04zM11,1h1.04v1.04h-1.04zM12,1h1.04v1.04h-1.04zM13,1h1.04v1.04h-1.04zM10,2h1.04v1.04h-1.04zM11,2h1.04v1.04h-1.04zM12,2h1.04v1.04h-1.04zM13,2h1.04v1.04h-1.04zM11,3h1.04v1.04h-1.04zM12,3h1.04v1.04h-1.04zM13,3h1.04v1.04h-1.04zM-2,4h1.04v1.04h-1.04zM-1,4h1.04v1.04h-1.04zM0,4h1.04v1.04h-1.04zM1,4h1.04v1.04h-1.04zM2,5h1.04v1.04h-1.04zM1,6h1.04v1.04h-1.04zM2,6h1.04v1.04h-1.04z"/>
<path fill="#4e4e4e" d="M8,-2h1.04v1.04h-1.04zM9,-2h1.04v1.04h-1.04zM10,-2h1.04v1.04h-1.04zM11,-2h1.04v1.04h-1.04zM12,-2h1.04v1.04h-1.04zM13,-2h1.04v1.04h-1.04zM8,-1h1.04v1.04h-1.04zM9,-1h1.04v1.04h-1.04zM10,-1h1.04v1.04h-1.04zM11,-1h1.04v1.04h-1.04zM12,-1h1.04v1.04h-1.04zM13,-1h1.04v1.04h-1.04zM8,0h1.04v1.04h-1.04zM9,0h1.04v1.04h-1.04zM10,0h1.04v1.04h-1.04zM11,0h1.04v1.04h-1.04zM12,0h1.04v1.04h-1.04zM13,0h1.04v1.04h-1.04zM-2,2h1.04v1.04h-1.04zM-1,2h1.04v1.04h-1.04zM0,2h1.04v1.04h-1.04zM9,2h1.04v1.04h-1.04zM10,3h1.04v1.04h-1.04zM11,4h1.04v1.04h-1.04zM12,4h1.04v1.04h-1.04zM13,4h1.04v1.04h-1.04zM-2,5h1.04v1.04h-1.04zM-1,5h1.04v1.04h-1.04zM0,5h1.04v1.04h-1.04z"/>
<path fill="#555555" d="M8,1h1.04v1.04h-1.04zM-2,3h1.04v1.04h-1.04zM-1,3h1.04v1.04h-1.04zM0,3h1.04v1.04h-1.04zM2,4h1.04v1.04h-1.04zM-2,6h1.04v1.04h-1.04zM-1,6h1.04v1.04h-1.04zM0,6h1.04v1.04h-1.04z"/>
<path fill="#5d5d5d" d="M11,5h1.04v1.04h-1.04zM12,5h1.04v1.04h-1.04zM13,5h1.04v1.04h-1.04zM2,7h1.04v1.04h-1.04z"/>
<path fill="#646464" d="M3,6h1.04v1.04h-1.04zM1,7h1.04v1.04h-1.04zM-2,9h1.04v1.04h-1.04zM-1,9h1.04v1.04h-1.04zM0,9h1.04v1.04h-1.04z"/>
<path fill="#6b6b6b" d="M7,-2h1.04v1.04h-1.04zM7,-1h1.04v1.04h-1.04zM7,0h1.04v1.04h-1.04zM10,4h1.04v1.04h-1.04zM11,6h1.04v1.04h-1.04zM12,6h1.04v1.04h-1.04zM13,6h1.04v1.04h-1.04zM1,9h1.04v1.04h-1.04z"/>
<path fill="#737373" d="M1,3h1.04v1.04h-1.04zM2,9h1.04v1.04h-1.04z"/>
<path fill="#7a7a7a" d="M1,-2h1.04v1.04h-1.04zM1,-1h1.04v1.04h-1.04zM1,0h1.04v1.04h-1.04zM8,2h1.04v1.04h-1.04zM-2,7h1.04v1.04h-1.04zM-1,7h1.04v1.04h-1.04zM0,7h1.04v1.04h-1.04zM3,9h1.04v1.04h-1.04z"/>
<path fill="#818181" d="M1,1h1.04v1.04h-1.04zM7,1h1.04v1.04h-1.04zM1,2h1.04v1.04h-1.04zM9,3h1.04v1.04h-1.04zM10,5h1.04v1.04h-1.04zM10,6h1.04v1.04h-1.04zM3,7h1.04v1.04h-1.04z"/>
<path fill="#898989" d="M5,2h1.04v1.04h-1.04zM4,9h1.04v1.04h-1.04z"/>
<path fill="#909090" d="M6,-2h1.04v1.04h-1.04zM6,-1h1.04v1.04h-1.04zM6,0h1.04v1.04h-1.04zM4,3h1.04v1.04h-1.04zM9,8h1.04v1.04h-1.04zM8,10h1.04v1.04h-1.04zM8,11h1.04v1.04h-1.04zM8,12h1.04v1.04h-1.04zM8,13h1.04v1.04h-1.04z"/>
<path fill="#979797" d="M9,7h1.04v1.04h-1.04zM9,9h1.04v1.04h-1.04zM-2,10h1.04v1.04h-1.04zM-1,10h1.04v1.04h-1.04zM0,10h1.04v1.04h-1.04z"/>
<path fill="#9f9f9f" d="M4,2h1.04v1.04h-1.04zM6,2h1.04v1.04h-1.04zM2,3h1.04v1.04h-1.04zM3,5h1.04v1.04h-1.04zM10,7h1.04v1.04h-1.04zM11,7h1.04v1.04h-1.04zM12,7h1.04v1.04h-1.04zM13,7h1.04v1.04h-1.04zM-2,8h1.04v1.04h-1.04zM-1,8h1.04v1.04h-1.04zM0,8h1.04v1.04h-1.04zM7,11h1.04v1.04h-1.04zM7,12h1.04v1.04h-1.04zM7,13h1.04v1.04h-1.04z"/>
<path fill="#a6a6a6" d="M6,1h1.04v1.04h-1.04zM5,3h1.04v1.04h-1.04zM8,9h1.04v1.04h-1.04zM1,10h1.04v1.04h-1.04zM5,10h1.04v1.04h-1.04zM9,10h1.04v1.04h-1.04z"/>
<path fill="#adadad" d="M5,1h1.04v1.04h-1.04zM7,2h1.04v1.04h-1.04zM4,4h1.04v1.04h-1.04zM1,8h1.04v1.04h-1.04zM10,8h1.04v1.04h-1.04zM2,10h1.04v1.04h-1.04zM3,10h1.04v1.04h-1.04zM4,10h1.04v1.04h-1.04zM-2,11h1.04v1.04h-1.04zM-1,11h1.04v1.04h-1.04zM0,11h1.04v1.04h-1.04zM5,11h1.04v1.04h-1.04zM6,11h1.04v1.04h-1.04zM-2,12h1.04v1.04h-1.04zM-1,12h1.04v1.04h-1.04zM0,12h1.04v1.04h-1.04zM5,12h1.04v1.04h-1.04zM6,12h1.04v1.04h-1.04zM-2,13h1.04v1.04h-1.04zM-1,13h1.04v1.04h-1.04zM0,13h1.04v1.04h-1.04zM5,13h1.04v1.04h-1.04zM6,13h1.04v1.04h-1.04z"/>
<path fill="#b5b5b5" d="M2,-2h1.04v1.04h-1.04zM5,-2h1.04v1.04h-1.04zM2,-1h1.04v1.04h-1.04zM5,-1h1.04v1.04h-1.04zM2,0h1.04v1.04h-1.04zM5,0h1.04v1.04h-1.04zM3,4h1.04v1.04h-1.04zM9,4h1.04v1.04h-1.04zM2,8h1.04v1.04h-1.04zM5,9h1.04v1.04h-1.04zM6,10h1.04v1.04h-1.04zM7,10h1.04v1.04h-1.04zM1,11h1.04v1.04h-1.04zM2,11h1.04v1.04h-1.04zM3,11h1.04v1.04h-1.04zM4,11h1.04v1.04h-1.04zM9,11h1.04v1.04h-1.04zM1,12h1.04v1.04h-1.04zM2,12h1.04v1.04h-1.04zM3,12h1.04v1.04h-1.04zM4,12h1.04v1.04h-1.04zM9,12h1.04v1.04h-1.04zM1,13h1.04v1.04h-1.04zM2,13h1.04v1.04h-1.04zM3,13h1.04v1.04h-1.04zM4,13h1.04v1.04h-1.04zM9,13h1.04v1.04h-1.04z"/>
<path fill="#b8b8b8" d="M2,2h1.04v1.04h-1.04z"/>
<path fill="#bcbcbc" d="M2,1h1.04v1.04h-1.04zM4,1h1.04v1.04h-1.04zM3,3h1.04v1.04h-1.04zM9,6h1.04v1.04h-1.04z"/>
<path fill="#c0c0c0" d="M3,-2h1.04v1.04h-1.04zM4,-2h1.04v1.04h-1.04zM3,-1h1.04v1.04h-1.04zM4,-1h1.04v1.04h-1.04zM3,0h1.04v1.04h-1.04zM4,0h1.04v1.04h-1.04zM3,2h1.04v1.04h-1.04zM3,8h1.04v1.04h-1.04zM7,8h1.04v1.04h-1.04zM6,9h1.04v1.04h-1.04z"/>
<path fill="#c3c3c3" d="M3,1h1.04v1.04h-1.04zM8,3h1.04v1.04h-1.04zM9,5h1.04v1.04h-1.04zM4,6h1.04v1.04h-1.04zM4,7h1.04v1.04h-1.04z"/>
<path fill="#c7c7c7" d="M7,9h1.04v1.04h-1.04zM10,9h1.04v1.04h-1.04z"/>
<path fill="#cbcbcb" d="M6,3h1.04v1.04h-1.04zM4,5h1.04v1.04h-1.04zM4,8h1.04v1.04h-1.04zM6,8h1.04v1.04h-1.04zM8,8h1.04v1.04h-1.04z"/>
<path fill="#cecece" d="M7,3h1.04v1.04h-1.04zM11,8h1.04v1.04h-1.04zM12,8h1.04v1.04h-1.04zM13,8h1.04v1.04h-1.04z"/>
<path fill="#d2d2d2" d="M5,4h1.04v1.04h-1.04zM5,8h1.04v1.04h-1.04zM10,10h1.04v1.04h-1.04zM10,11h1.04v1.04h-1.04zM10,12h1.04v1.04h-1.04zM10,13h1.04v1.04h-1.04z"/>
<path fill="#d6d6d6" d="M8,4h1.04v1.04h-1.04zM8,7h1.04v1.04h-1.04zM11,9h1.04v1.04h-1.04zM12,9h1.04v1.04h-1.04zM13,9h1.04v1.04h-1.04zM11,10h1.04v1.04h-1.04zM12,10h1.04v1.04h-1.04zM13,10h1.04v1.04h-1.04zM11,11h1.04v1.04h-1.04zM12,11h1.04v1.04h-1.04zM13,11h1.04v1.04h-1.04zM11,12h1.04v1.04h-1.04zM12,12h1.04v1.04h-1.04zM13,12h1.04v1.04h-1.04zM11,13h1.04v1.04h-1.04zM12,13h1.04v1.04h-1.04zM13,13h1.04v1.04h-1.04z"/>
<path fill="#d9d9d9" d="M6,4h1.04v1.04h-1.04zM7,4h1.04v1.04h-1.04zM5,5h1.04v1.04h-1.04zM6,5h1.04v1.04h-1.04zM7,5h1.04v1.04h-1.04zM8,5h1.04v1.04h-1.04zM5,6h1.04v1.04h-1.04zM6,6h1.04v1.04h-1.04zM7,6h1.04v1.04h-1.04zM8,6h1.04v1.04h-1.04zM5,7h1.04v1.04h-1.04zM6,7h1.04v1.04h-1.04zM7,7h1.04v1.04h-1.04z"/>
</g></g>
<g filter="url(#sblTAU)"><g transform="translate(703.00,0.00) scale(0.2505)">
<path d="M15.0,150.0 C25.8,147.5 64.2,131.7 80.0,135.0 C95.8,138.3 100.8,154.2 110.0,170.0 C119.2,185.8 128.3,208.3 135.0,230.0 C141.7,251.7 157.5,286.3 150.0,300.0 C142.5,313.7 112.5,312.0 90.0,312.0 C67.5,312.0 27.5,327.0 15.0,300.0 C2.5,273.0 15.0,175.0 15.0,150.0 Z" fill="#434343" opacity="0.45"/>
<path d="M300.0,10.0 C329.2,10.0 445.8,-38.3 475.0,10.0 C504.2,58.3 478.3,263.3 475.0,300.0 C471.7,336.7 462.5,255.0 455.0,230.0 C447.5,205.0 440.8,173.3 430.0,150.0 C419.2,126.7 405.0,105.8 390.0,90.0 C375.0,74.2 355.0,68.3 340.0,55.0 C325.0,41.7 306.7,17.5 300.0,10.0 Z" fill="#3f3f3f" opacity="0.6"/>
<path d="M10.0,10.0 C17.5,10.0 48.3,-8.3 55.0,10.0 C61.7,28.3 57.5,95.0 50.0,120.0 C42.5,145.0 16.7,178.3 10.0,160.0 C3.3,141.7 10.0,35.0 10.0,10.0 Z" fill="#474747" opacity="0.5"/>
<ellipse cx="150" cy="72" rx="80" ry="48" fill="#cecece" opacity="0.5" transform="rotate(0 150 72)"/>
<ellipse cx="205" cy="140" rx="50" ry="40" fill="#cecece" opacity="0.35" transform="rotate(0 205 140)"/>
<ellipse cx="278" cy="218" rx="112" ry="108" fill="#d9d9d9" opacity="0.5" transform="rotate(0 278 218)"/>
</g></g>
<g filter="url(#fblTAU)"><g transform="translate(703.00,0.00) scale(0.2505)">
<path d="M215.0,115.0 C207.5,123.3 180.0,145.8 170.0,165.0 C160.0,184.2 157.5,219.2 155.0,230.0" fill="none" stroke="#7a7a7a" stroke-width="12" stroke-linecap="round" opacity="0.5"/>
<path d="M330.0,110.0 C339.2,118.3 372.5,140.0 385.0,160.0 C397.5,180.0 403.3,206.7 405.0,230.0 C406.7,253.3 396.7,288.3 395.0,300.0" fill="none" stroke="#909090" stroke-width="7" stroke-linecap="round" opacity="0.45"/>
<path d="M15.0,330.0 C32.5,330.8 84.2,335.8 120.0,335.0 C155.8,334.2 195.0,331.7 230.0,325.0 C265.0,318.3 313.3,300.0 330.0,295.0" fill="none" stroke="#c0c0c0" stroke-width="20" stroke-linecap="round" opacity="0.5"/>
<path d="M15.0,380.0 C32.5,380.8 84.2,385.8 120.0,385.0 C155.8,384.2 196.7,381.7 230.0,375.0 C263.3,368.3 305.0,350.0 320.0,345.0" fill="none" stroke="#606060" stroke-width="15" stroke-linecap="round" opacity="0.55"/>
<path d="M250.0,400.0 C258.3,390.8 285.8,363.3 300.0,345.0 C314.2,326.7 329.2,299.2 335.0,290.0" fill="none" stroke="#898989" stroke-width="9" stroke-linecap="round" opacity="0.4"/>
<path d="M330.0,450.0 C335.8,435.0 351.7,390.0 365.0,360.0 C378.3,330.0 402.5,285.0 410.0,270.0" fill="none" stroke="#7a7a7a" stroke-width="14" stroke-linecap="round" opacity="0.45"/>
<path d="M380.0,460.0 C385.0,446.7 400.0,405.0 410.0,380.0 C420.0,355.0 435.0,321.7 440.0,310.0" fill="none" stroke="#979797" stroke-width="8" stroke-linecap="round" opacity="0.4"/>
</g></g></g>
</g>
<rect x="705.3" y="1.8" width="115.4" height="115.1" fill="none" stroke="#00b050" stroke-width="3.5"/>
<rect x="616.3" y="32.4" width="39.3" height="38.4" fill="none" stroke="#00b050" stroke-width="3.6"/>
<line x1="657.6" y1="30.6" x2="704" y2="2.4" stroke="#00b050" stroke-width="3.3" stroke-dasharray="3.3,3.3" stroke-dashoffset="1.5"/>
<line x1="657.6" y1="72.6" x2="704" y2="113.7" stroke="#00b050" stroke-width="3.3" stroke-dasharray="3.3,3.3" stroke-dashoffset="1.5"/>
<text transform="translate(570.4,59.1) rotate(-90)" text-anchor="middle" font-size="22">TAU</text>
<g clip-path="url(#cpsRaMViD)">
<g filter="url(#txsRaMViD)"><g filter="url(#blsRaMViD)"><g transform="translate(579.40,122.10) scale(9.4583,9.4667)">
<rect x="-3" y="-3" width="18" height="18" fill="#808080"/>
<path fill="#3c3c3c" d="M-2,6h1.04v1.04h-1.04zM-1,6h1.04v1.04h-1.04zM0,6h1.04v1.04h-1.04zM1,6h1.04v1.04h-1.04z"/>
<path fill="#464646" d="M2,6h1.04v1.04h-1.04zM3,6h1.04v1.04h-1.04zM7,10h1.04v1.04h-1.04zM10,10h1.04v1.04h-1.04zM7,11h1.04v1.04h-1.04zM8,11h1.04v1.04h-1.04zM9,11h1.04v1.04h-1.04zM10,11h1.04v1.04h-1.04zM11,11h1.04v1.04h-1.04zM12,11h1.04v1.04h-1.04zM13,11h1.04v1.04h-1.04zM7,12h1.04v1.04h-1.04zM8,12h1.04v1.04h-1.04zM9,12h1.04v1.04h-1.04zM10,12h1.04v1.04h-1.04zM11,12h1.04v1.04h-1.04zM12,12h1.04v1.04h-1.04zM13,12h1.04v1.04h-1.04zM7,13h1.04v1.04h-1.04zM8,13h1.04v1.04h-1.04zM9,13h1.04v1.04h-1.04zM10,13h1.04v1.04h-1.04zM11,13h1.04v1.04h-1.04zM12,13h1.04v1.04h-1.04zM13,13h1.04v1.04h-1.04z"/>
<path fill="#505050" d="M11,6h1.04v1.04h-1.04zM12,6h1.04v1.04h-1.04zM13,6h1.04v1.04h-1.04zM9,9h1.04v1.04h-1.04zM10,9h1.04v1.04h-1.04zM11,9h1.04v1.04h-1.04zM12,9h1.04v1.04h-1.04zM13,9h1.04v1.04h-1.04zM6,10h1.04v1.04h-1.04z"/>
<path fill="#5a5a5a" d="M8,9h1.04v1.04h-1.04zM11,10h1.04v1.04h-1.04zM12,10h1.04v1.04h-1.04zM13,10h1.04v1.04h-1.04zM-2,11h1.04v1.04h-1.04zM-1,11h1.04v1.04h-1.04zM0,11h1.04v1.04h-1.04zM-2,12h1.04v1.04h-1.04zM-1,12h1.04v1.04h-1.04zM0,12h1.04v1.04h-1.04zM-2,13h1.04v1.04h-1.04zM-1,13h1.04v1.04h-1.04zM0,13h1.04v1.04h-1.04z"/>
<path fill="#646464" d="M6,2h1.04v1.04h-1.04zM8,3h1.04v1.04h-1.04zM9,3h1.04v1.04h-1.04zM3,4h1.04v1.04h-1.04zM9,4h1.04v1.04h-1.04zM3,5h1.04v1.04h-1.04zM11,8h1.04v1.04h-1.04zM12,8h1.04v1.04h-1.04zM13,8h1.04v1.04h-1.04zM8,10h1.04v1.04h-1.04zM9,10h1.04v1.04h-1.04zM4,11h1.04v1.04h-1.04zM4,12h1.04v1.04h-1.04zM4,13h1.04v1.04h-1.04z"/>
<path fill="#6e6e6e" d="M7,2h1.04v1.04h-1.04zM10,3h1.04v1.04h-1.04zM8,4h1.04v1.04h-1.04zM10,4h1.04v1.04h-1.04zM1,5h1.04v1.04h-1.04zM2,5h1.04v1.04h-1.04zM11,5h1.04v1.04h-1.04zM12,5h1.04v1.04h-1.04zM13,5h1.04v1.04h-1.04zM11,7h1.04v1.04h-1.04zM12,7h1.04v1.04h-1.04zM13,7h1.04v1.04h-1.04zM3,11h1.04v1.04h-1.04zM5,11h1.04v1.04h-1.04zM6,11h1.04v1.04h-1.04zM3,12h1.04v1.04h-1.04zM5,12h1.04v1.04h-1.04zM6,12h1.04v1.04h-1.04zM3,13h1.04v1.04h-1.04zM5,13h1.04v1.04h-1.04zM6,13h1.04v1.04h-1.04z"/>
<path fill="#787878" d="M5,2h1.04v1.04h-1.04zM3,3h1.04v1.04h-1.04zM7,3h1.04v1.04h-1.04zM11,3h1.04v1.04h-1.04zM12,3h1.04v1.04h-1.04zM13,3h1.04v1.04h-1.04zM2,4h1.04v1.04h-1.04zM11,4h1.04v1.04h-1.04zM12,4h1.04v1.04h-1.04zM13,4h1.04v1.04h-1.04zM-2,5h1.04v1.04h-1.04zM-1,5h1.04v1.04h-1.04zM0,5h1.04v1.04h-1.04zM8,5h1.04v1.04h-1.04zM9,5h1.04v1.04h-1.04zM10,5h1.04v1.04h-1.04zM7,9h1.04v1.04h-1.04zM-2,10h1.04v1.04h-1.04zM-1,10h1.04v1.04h-1.04zM0,10h1.04v1.04h-1.04zM5,10h1.04v1.04h-1.04z"/>
<path fill="#828282" d="M9,2h1.04v1.04h-1.04zM10,2h1.04v1.04h-1.04zM2,3h1.04v1.04h-1.04zM1,4h1.04v1.04h-1.04zM4,4h1.04v1.04h-1.04zM7,4h1.04v1.04h-1.04zM4,5h1.04v1.04h-1.04zM10,6h1.04v1.04h-1.04zM8,8h1.04v1.04h-1.04zM10,8h1.04v1.04h-1.04zM1,11h1.04v1.04h-1.04zM1,12h1.04v1.04h-1.04zM1,13h1.04v1.04h-1.04z"/>
<path fill="#8c8c8c" d="M3,1h1.04v1.04h-1.04zM2,2h1.04v1.04h-1.04zM8,2h1.04v1.04h-1.04zM1,3h1.04v1.04h-1.04zM4,3h1.04v1.04h-1.04zM6,3h1.04v1.04h-1.04zM2,11h1.04v1.04h-1.04zM2,12h1.04v1.04h-1.04zM2,13h1.04v1.04h-1.04z"/>
<path fill="#969696" d="M3,-2h1.04v1.04h-1.04zM3,-1h1.04v1.04h-1.04zM3,0h1.04v1.04h-1.04zM1,2h1.04v1.04h-1.04zM3,2h1.04v1.04h-1.04zM5,3h1.04v1.04h-1.04zM-2,4h1.04v1.04h-1.04zM-1,4h1.04v1.04h-1.04zM0,4h1.04v1.04h-1.04zM4,6h1.04v1.04h-1.04zM-2,7h1.04v1.04h-1.04zM-1,7h1.04v1.04h-1.04zM0,7h1.04v1.04h-1.04zM9,8h1.04v1.04h-1.04z"/>
<path fill="#a0a0a0" d="M4,2h1.04v1.04h-1.04zM3,7h1.04v1.04h-1.04zM1,10h1.04v1.04h-1.04z"/>
<path fill="#a5a5a5" d="M4,10h1.04v1.04h-1.04z"/>
<path fill="#aaaaaa" d="M4,-2h1.04v1.04h-1.04zM8,-2h1.04v1.04h-1.04zM10,-2h1.04v1.04h-1.04zM11,-2h1.04v1.04h-1.04zM12,-2h1.04v1.04h-1.04zM13,-2h1.04v1.04h-1.04zM4,-1h1.04v1.04h-1.04zM8,-1h1.04v1.04h-1.04zM10,-1h1.04v1.04h-1.04zM11,-1h1.04v1.04h-1.04zM12,-1h1.04v1.04h-1.04zM13,-1h1.04v1.04h-1.04zM4,0h1.04v1.04h-1.04zM8,0h1.04v1.04h-1.04zM10,0h1.04v1.04h-1.04zM11,0h1.04v1.04h-1.04zM12,0h1.04v1.04h-1.04zM13,0h1.04v1.04h-1.04zM1,1h1.04v1.04h-1.04zM4,1h1.04v1.04h-1.04zM10,1h1.04v1.04h-1.04zM11,2h1.04v1.04h-1.04zM12,2h1.04v1.04h-1.04zM13,2h1.04v1.04h-1.04zM7,5h1.04v1.04h-1.04zM7,6h1.04v1.04h-1.04zM1,7h1.04v1.04h-1.04zM8,7h1.04v1.04h-1.04zM10,7h1.04v1.04h-1.04zM-2,9h1.04v1.04h-1.04zM-1,9h1.04v1.04h-1.04zM0,9h1.04v1.04h-1.04zM6,9h1.04v1.04h-1.04z"/>
<path fill="#b4b4b4" d="M9,1h1.04v1.04h-1.04zM4,7h1.04v1.04h-1.04zM4,8h1.04v1.04h-1.04z"/>
<path fill="#b9b9b9" d="M5,9h1.04v1.04h-1.04z"/>
<path fill="#bebebe" d="M1,-2h1.04v1.04h-1.04zM7,-2h1.04v1.04h-1.04zM9,-2h1.04v1.04h-1.04zM1,-1h1.04v1.04h-1.04zM7,-1h1.04v1.04h-1.04zM9,-1h1.04v1.04h-1.04zM1,0h1.04v1.04h-1.04zM7,0h1.04v1.04h-1.04zM9,0h1.04v1.04h-1.04zM2,1h1.04v1.04h-1.04zM11,1h1.04v1.04h-1.04zM12,1h1.04v1.04h-1.04zM13,1h1.04v1.04h-1.04zM-2,3h1.04v1.04h-1.04zM-1,3h1.04v1.04h-1.04zM0,3h1.04v1.04h-1.04zM5,4h1.04v1.04h-1.04zM6,6h1.04v1.04h-1.04zM2,7h1.04v1.04h-1.04zM7,8h1.04v1.04h-1.04zM4,9h1.04v1.04h-1.04zM2,10h1.04v1.04h-1.04zM3,10h1.04v1.04h-1.04z"/>
<path fill="#c8c8c8" d="M-2,-2h1.04v1.04h-1.04zM-1,-2h1.04v1.04h-1.04zM0,-2h1.04v1.04h-1.04zM-2,-1h1.04v1.04h-1.04zM-1,-1h1.04v1.04h-1.04zM0,-1h1.04v1.04h-1.04zM-2,0h1.04v1.04h-1.04zM-1,0h1.04v1.04h-1.04zM0,0h1.04v1.04h-1.04zM5,1h1.04v1.04h-1.04zM8,1h1.04v1.04h-1.04zM-2,2h1.04v1.04h-1.04zM-1,2h1.04v1.04h-1.04zM0,2h1.04v1.04h-1.04zM6,4h1.04v1.04h-1.04zM5,6h1.04v1.04h-1.04zM8,6h1.04v1.04h-1.04zM9,6h1.04v1.04h-1.04zM5,7h1.04v1.04h-1.04zM9,7h1.04v1.04h-1.04zM1,9h1.04v1.04h-1.04z"/>
<path fill="#cdcdcd" d="M5,8h1.04v1.04h-1.04zM3,9h1.04v1.04h-1.04z"/>
<path fill="#d2d2d2" d="M5,-2h1.04v1.04h-1.04zM5,-1h1.04v1.04h-1.04zM5,0h1.04v1.04h-1.04zM-2,1h1.04v1.04h-1.04zM-1,1h1.04v1.04h-1.04zM0,1h1.04v1.04h-1.04zM5,5h1.04v1.04h-1.04zM7,7h1.04v1.04h-1.04zM6,8h1.04v1.04h-1.04z"/>
<path fill="#d7d7d7" d="M2,-2h1.04v1.04h-1.04zM2,-1h1.04v1.04h-1.04zM2,0h1.04v1.04h-1.04zM6,1h1.04v1.04h-1.04zM7,1h1.04v1.04h-1.04zM6,7h1.04v1.04h-1.04zM3,8h1.04v1.04h-1.04zM2,9h1.04v1.04h-1.04z"/>
<path fill="#dcdcdc" d="M6,-2h1.04v1.04h-1.04zM6,-1h1.04v1.04h-1.04zM6,0h1.04v1.04h-1.04z"/>
<path fill="#e1e1e1" d="M2,8h1.04v1.04h-1.04z"/>
<path fill="#e6e6e6" d="M-2,8h1.04v1.04h-1.04zM-1,8h1.04v1.04h-1.04zM0,8h1.04v1.04h-1.04zM1,8h1.04v1.04h-1.04z"/>
<path fill="#f0f0f0" d="M6,5h1.04v1.04h-1.04z"/>
</g></g>
<g filter="url(#sbsRaMViD)"><g transform="translate(579.40,122.10) scale(0.2370)">
<path d="M0.0,238.0 C20.0,237.0 95.0,228.3 120.0,232.0 C145.0,235.7 146.7,248.7 150.0,260.0 C153.3,271.3 155.0,291.7 140.0,300.0 C125.0,308.3 83.3,309.2 60.0,310.0 C36.7,310.8 10.0,317.0 0.0,305.0 C-10.0,293.0 0.0,249.2 0.0,238.0 Z" fill="#282828" opacity="0.25"/>
<path d="M135.0,125.0 C145.8,120.8 174.2,105.0 200.0,100.0 C225.8,95.0 265.0,91.7 290.0,95.0 C315.0,98.3 328.3,108.3 350.0,120.0 C371.7,131.7 408.3,157.5 420.0,165.0" fill="none" stroke="#2d2d2d" stroke-width="24" stroke-linecap="round" opacity="0.225"/>
<path d="M150.0,72.0 C166.7,69.2 220.0,56.2 250.0,55.0 C280.0,53.8 301.7,58.3 330.0,65.0 C358.3,71.7 405.0,90.0 420.0,95.0" fill="none" stroke="#dcdcdc" stroke-width="22" stroke-linecap="round" opacity="0.225"/>
<ellipse cx="225" cy="18" rx="50" ry="26" fill="#f0f0f0" opacity="0.3" transform="rotate(0 225 18)"/>
<ellipse cx="250" cy="200" rx="36" ry="40" fill="#fcfcfc" opacity="0.7" transform="rotate(0 250 200)"/>
<path d="M178.0,135.0 C175.8,145.8 164.3,177.5 165.0,200.0 C165.7,222.5 179.2,258.3 182.0,270.0" fill="none" stroke="#282828" stroke-width="20" stroke-linecap="round" opacity="0.275"/>
</g></g>
<g filter="url(#fbsRaMViD)"><g transform="translate(579.40,122.10) scale(0.2370)">
<path d="M325.0,228.0 C335.8,232.5 370.0,239.7 390.0,255.0 C410.0,270.3 435.8,309.2 445.0,320.0" fill="none" stroke="#f0f0f0" stroke-width="25.0839" stroke-linecap="round" opacity="0.42"/>
<path d="M300.0,290.0 C311.7,294.7 349.2,302.2 370.0,318.0 C390.8,333.8 415.8,373.8 425.0,385.0" fill="none" stroke="#f0f0f0" stroke-width="22.8035" stroke-linecap="round" opacity="0.38"/>
<path d="M335.0,190.0 C345.8,192.5 380.8,195.0 400.0,205.0 C419.2,215.0 441.7,242.5 450.0,250.0" fill="none" stroke="#ebebeb" stroke-width="18.2428" stroke-linecap="round" opacity="0.25"/>
<path d="M335.0,258.0 C344.5,263.7 375.8,276.3 392.0,292.0 C408.2,307.7 425.3,342.0 432.0,352.0" fill="none" stroke="#323232" stroke-width="13.6821" stroke-linecap="round" opacity="0.35"/>
<path d="M218.8,70.5 C223.4,69.3 236.9,64.7 246.3,63.3 C255.7,61.9 265.6,61.3 275.4,61.9 C285.2,62.5 300.1,66.1 305.0,66.9" fill="none" stroke="#323232" stroke-width="4.9" stroke-linecap="round" opacity="0.16"/>
<path d="M354.4,267.9 C352.1,271.7 346.1,283.6 340.6,290.7 C335.2,297.8 328.7,304.7 321.7,310.6 C314.7,316.6 302.3,323.8 298.4,326.4" fill="none" stroke="#323232" stroke-width="7.7" stroke-linecap="round" opacity="0.17"/>
<path d="M123.2,248.9 C121.4,244.4 115.0,231.4 112.3,222.1 C109.6,212.8 107.8,202.8 107.1,192.8 C106.4,182.8 106.7,172.4 108.2,162.3 C109.7,152.2 112.3,141.8 116.0,132.0 C119.7,122.2 124.4,112.4 130.2,103.4 C136.0,94.4 143.0,85.6 150.7,77.8 C158.4,70.0 172.3,60.1 176.6,56.6" fill="none" stroke="#ebebeb" stroke-width="6.6" stroke-linecap="round" opacity="0.19"/>
<path d="M243.8,108.6 C247.1,108.1 256.7,105.9 263.4,105.7 C270.1,105.5 277.2,106.0 284.0,107.2 C290.8,108.5 297.8,110.4 304.4,113.2 C311.0,116.0 320.6,122.0 323.8,123.8" fill="none" stroke="#323232" stroke-width="4.3" stroke-linecap="round" opacity="0.17"/>
<path d="M284.0,148.7 C286.1,149.6 292.5,152.0 296.5,154.4 C300.5,156.8 304.4,159.7 308.0,163.1 C311.6,166.5 314.9,170.4 317.8,174.7 C320.7,179.0 323.9,186.5 325.1,188.9" fill="none" stroke="#ebebeb" stroke-width="6.7" stroke-linecap="round" opacity="0.12"/>
<path d="M361.6,112.0 C364.8,115.9 375.1,127.0 380.6,135.5 C386.1,144.0 391.0,153.5 394.7,163.2 C398.4,172.9 401.2,183.4 402.8,193.9 C404.4,204.4 404.0,221.0 404.2,226.4" fill="none" stroke="#323232" stroke-width="4.3" stroke-linecap="round" opacity="0.09"/>
<path d="M184.5,89.0 C188.4,86.6 199.5,78.4 207.8,74.4 C216.1,70.4 225.2,67.0 234.5,64.8 C243.8,62.5 253.6,61.1 263.3,60.9 C273.1,60.6 283.2,61.4 293.0,63.3 C302.8,65.2 312.8,68.1 322.2,72.1 C331.6,76.1 345.0,84.7 349.6,87.2" fill="none" stroke="#323232" stroke-width="8.4" stroke-linecap="round" opacity="0.11"/>
<path d="M243.6,58.1 C248.6,57.8 263.7,55.8 273.8,56.3 C283.9,56.8 299.4,60.2 304.5,61.0" fill="none" stroke="#ebebeb" stroke-width="4.7" stroke-linecap="round" opacity="0.1"/>
<path d="M135.6,214.8 C134.9,210.7 131.9,198.7 131.4,190.4 C130.9,182.1 131.2,173.4 132.5,164.9 C133.8,156.4 136.0,147.7 139.2,139.5 C142.4,131.3 146.5,123.1 151.5,115.5 C156.5,107.9 162.5,100.5 169.1,94.0 C175.7,87.5 183.2,81.3 191.3,76.2 C199.4,71.1 213.1,65.4 217.5,63.2" fill="none" stroke="#ebebeb" stroke-width="6.5" stroke-linecap="round" opacity="0.19"/>
<path d="M259.5,99.6 C263.1,99.7 273.9,99.3 281.2,100.3 C288.5,101.3 296.0,103.1 303.1,105.8 C310.2,108.5 320.4,114.5 323.9,116.2" fill="none" stroke="#323232" stroke-width="5.3" stroke-linecap="round" opacity="0.15"/>
<path d="M198.8,130.8 C201.2,128.7 207.7,122.1 212.9,118.4 C218.1,114.8 223.9,111.5 229.9,108.9 C235.9,106.4 242.5,104.3 249.2,103.1 C255.9,101.9 263.0,101.2 270.1,101.5 C277.2,101.8 284.5,102.8 291.6,104.6 C298.7,106.4 309.1,111.1 312.6,112.4" fill="none" stroke="#ebebeb" stroke-width="6.3" stroke-linecap="round" opacity="0.17"/>
<path d="M249.8,264.5 C247.4,264.8 240.5,266.4 235.6,266.5 C230.7,266.6 225.6,266.3 220.6,265.4 C215.6,264.4 210.5,262.9 205.6,260.8 C200.7,258.7 195.7,255.9 191.2,252.6 C186.7,249.3 180.5,242.9 178.4,241.0" fill="none" stroke="#ebebeb" stroke-width="8.4" stroke-linecap="round" opacity="0.11"/>
<path d="M214.7,236.9 C213.1,235.9 208.0,233.3 204.9,230.8 C201.8,228.3 198.7,225.4 196.1,222.1 C193.5,218.8 191.0,215.1 189.1,211.1 C187.2,207.1 185.3,200.3 184.6,198.1" fill="none" stroke="#ebebeb" stroke-width="6.2" stroke-linecap="round" opacity="0.17"/>
<path d="M394.8,234.7 C393.6,239.8 391.1,255.6 387.6,265.6 C384.1,275.7 379.5,285.7 373.8,295.0 C368.1,304.3 361.4,313.3 353.7,321.4 C346.0,329.5 337.3,337.1 327.9,343.5 C318.5,349.9 308.1,355.6 297.4,360.0 C286.6,364.4 269.1,368.2 263.4,369.9" fill="none" stroke="#323232" stroke-width="6.7" stroke-linecap="round" opacity="0.15"/>
<path d="M177.0,246.6 C175.1,244.1 168.8,237.1 165.5,231.7 C162.2,226.3 159.3,220.3 157.2,214.0 C155.1,207.7 153.5,197.4 152.8,194.1" fill="none" stroke="#ebebeb" stroke-width="5.4" stroke-linecap="round" opacity="0.12"/>
<path d="M357.5,129.1 C360.1,132.9 368.9,143.6 373.3,151.7 C377.8,159.8 381.5,168.7 384.2,177.8 C386.9,186.9 388.8,196.6 389.5,206.3 C390.2,216.0 390.0,226.2 388.6,236.1 C387.2,246.0 382.5,260.8 381.3,265.7" fill="none" stroke="#ebebeb" stroke-width="5.3" stroke-linecap="round" opacity="0.14"/>
<path d="M218.3,116.8 C221.2,115.4 229.6,110.7 235.8,108.5 C242.0,106.3 248.6,104.7 255.3,103.9 C262.0,103.1 269.1,102.9 276.1,103.6 C283.1,104.3 290.3,105.8 297.2,108.0 C304.1,110.2 314.2,115.5 317.6,117.0" fill="none" stroke="#323232" stroke-width="5.3" stroke-linecap="round" opacity="0.13"/>
<path d="M255.0,121.7 C257.9,121.6 266.4,120.6 272.2,121.0 C278.0,121.4 284.0,122.5 289.8,124.2 C295.6,125.9 301.5,128.3 307.0,131.3 C312.5,134.3 318.0,138.1 322.9,142.4 C327.8,146.7 332.5,151.7 336.5,157.2 C340.5,162.7 345.2,172.3 346.9,175.3" fill="none" stroke="#ebebeb" stroke-width="4" stroke-linecap="round" opacity="0.13"/>
<path d="M365.9,252.9 C364.1,257.1 359.8,270.0 355.3,278.0 C350.8,286.0 345.3,293.8 339.1,300.8 C332.9,307.9 325.8,314.6 318.0,320.3 C310.2,326.0 301.6,331.1 292.6,335.2 C283.6,339.3 273.8,342.6 263.9,344.7 C254.0,346.8 238.2,347.4 233.1,348.0" fill="none" stroke="#323232" stroke-width="8.6" stroke-linecap="round" opacity="0.11"/>
<path d="M190.2,221.2 C189.1,219.1 185.3,213.2 183.5,208.8 C181.7,204.4 180.2,196.9 179.6,194.5" fill="none" stroke="#323232" stroke-width="4.2" stroke-linecap="round" opacity="0.18"/>
</g></g>
<g mask="url(#mksRaMViD)" opacity="0.24"><g transform="rotate(-38 636.1 178.9)"><rect x="551.0" y="93.7" width="170.2" height="170.4" filter="url(#sksRaMViD)"/></g></g></g>
<g filter="url(#pbsRaMViD)"><g transform="translate(579.40,122.10) scale(0.2370)">
<path d="M-20.0,-20.0 C12.5,-20.0 146.7,-33.3 175.0,-20.0 C203.3,-6.7 157.8,38.3 150.0,60.0 C142.2,81.7 128.3,93.3 128.0,110.0 C127.7,126.7 148.5,140.8 148.0,160.0 C147.5,179.2 153.0,213.0 125.0,225.0 C97.0,237.0 4.2,272.8 -20.0,232.0 C-44.2,191.2 -20.0,22.0 -20.0,-20.0 Z" fill="#a0a0a0" opacity="0.4"/>
<path d="M310.0,-20.0 C341.7,-20.0 468.3,-35.8 500.0,-20.0 C531.7,-4.2 513.3,61.3 500.0,75.0 C486.7,88.7 446.7,68.2 420.0,62.0 C393.3,55.8 358.3,51.7 340.0,38.0 C321.7,24.3 315.0,-10.3 310.0,-20.0 Z" fill="#b4b4b4" opacity="0.35"/>
</g></g>
</g>
<g clip-path="url(#cplRaMViD)">
<g filter="url(#txlRaMViD)"><g filter="url(#bllRaMViD)"><g transform="translate(704.00,121.80) scale(9.7500,9.6500)">
<rect x="-3" y="-3" width="18" height="18" fill="#808080"/>
<path fill="#5f5f5f" d="M-2,2h1.04v1.04h-1.04zM-1,2h1.04v1.04h-1.04zM0,2h1.04v1.04h-1.04zM1,5h1.04v1.04h-1.04z"/>
<path fill="#686868" d="M1,-2h1.04v1.04h-1.04zM10,-2h1.04v1.04h-1.04zM1,-1h1.04v1.04h-1.04zM10,-1h1.04v1.04h-1.04zM1,0h1.04v1.04h-1.04zM10,0h1.04v1.04h-1.04zM-2,1h1.04v1.04h-1.04zM-1,1h1.04v1.04h-1.04zM0,1h1.04v1.04h-1.04zM1,1h1.04v1.04h-1.04zM10,1h1.04v1.04h-1.04zM11,1h1.04v1.04h-1.04zM12,1h1.04v1.04h-1.04zM13,1h1.04v1.04h-1.04zM1,2h1.04v1.04h-1.04zM11,2h1.04v1.04h-1.04zM12,2h1.04v1.04h-1.04zM13,2h1.04v1.04h-1.04zM-2,3h1.04v1.04h-1.04zM-1,3h1.04v1.04h-1.04zM0,3h1.04v1.04h-1.04zM-2,4h1.04v1.04h-1.04zM-1,4h1.04v1.04h-1.04zM0,4h1.04v1.04h-1.04zM1,4h1.04v1.04h-1.04zM-2,5h1.04v1.04h-1.04zM-1,5h1.04v1.04h-1.04zM0,5h1.04v1.04h-1.04zM-2,9h1.04v1.04h-1.04zM-1,9h1.04v1.04h-1.04zM0,9h1.04v1.04h-1.04zM1,9h1.04v1.04h-1.04z"/>
<path fill="#717171" d="M2,-2h1.04v1.04h-1.04zM9,-2h1.04v1.04h-1.04zM11,-2h1.04v1.04h-1.04zM12,-2h1.04v1.04h-1.04zM13,-2h1.04v1.04h-1.04zM2,-1h1.04v1.04h-1.04zM9,-1h1.04v1.04h-1.04zM11,-1h1.04v1.04h-1.04zM12,-1h1.04v1.04h-1.04zM13,-1h1.04v1.04h-1.04zM2,0h1.04v1.04h-1.04zM9,0h1.04v1.04h-1.04zM11,0h1.04v1.04h-1.04zM12,0h1.04v1.04h-1.04zM13,0h1.04v1.04h-1.04zM9,1h1.04v1.04h-1.04zM1,3h1.04v1.04h-1.04zM7,3h1.04v1.04h-1.04zM8,3h1.04v1.04h-1.04zM11,3h1.04v1.04h-1.04zM12,3h1.04v1.04h-1.04zM13,3h1.04v1.04h-1.04zM-2,6h1.04v1.04h-1.04zM-1,6h1.04v1.04h-1.04zM0,6h1.04v1.04h-1.04zM-2,7h1.04v1.04h-1.04zM-1,7h1.04v1.04h-1.04zM0,7h1.04v1.04h-1.04z"/>
<path fill="#797979" d="M10,2h1.04v1.04h-1.04zM6,3h1.04v1.04h-1.04zM9,4h1.04v1.04h-1.04zM2,5h1.04v1.04h-1.04zM10,5h1.04v1.04h-1.04zM1,6h1.04v1.04h-1.04zM2,9h1.04v1.04h-1.04z"/>
<path fill="#828282" d="M8,-2h1.04v1.04h-1.04zM8,-1h1.04v1.04h-1.04zM8,0h1.04v1.04h-1.04zM5,2h1.04v1.04h-1.04zM5,3h1.04v1.04h-1.04zM9,3h1.04v1.04h-1.04zM2,4h1.04v1.04h-1.04zM8,4h1.04v1.04h-1.04zM11,4h1.04v1.04h-1.04zM12,4h1.04v1.04h-1.04zM13,4h1.04v1.04h-1.04zM11,6h1.04v1.04h-1.04zM12,6h1.04v1.04h-1.04zM13,6h1.04v1.04h-1.04zM-2,8h1.04v1.04h-1.04zM-1,8h1.04v1.04h-1.04zM0,8h1.04v1.04h-1.04zM-2,10h1.04v1.04h-1.04zM-1,10h1.04v1.04h-1.04zM0,10h1.04v1.04h-1.04zM1,10h1.04v1.04h-1.04zM2,10h1.04v1.04h-1.04zM-2,11h1.04v1.04h-1.04zM-1,11h1.04v1.04h-1.04zM0,11h1.04v1.04h-1.04zM-2,12h1.04v1.04h-1.04zM-1,12h1.04v1.04h-1.04zM0,12h1.04v1.04h-1.04zM-2,13h1.04v1.04h-1.04zM-1,13h1.04v1.04h-1.04zM0,13h1.04v1.04h-1.04z"/>
<path fill="#8a8a8a" d="M7,-2h1.04v1.04h-1.04zM7,-1h1.04v1.04h-1.04zM7,0h1.04v1.04h-1.04zM2,1h1.04v1.04h-1.04zM6,2h1.04v1.04h-1.04zM2,3h1.04v1.04h-1.04zM10,3h1.04v1.04h-1.04zM10,4h1.04v1.04h-1.04zM3,5h1.04v1.04h-1.04zM11,5h1.04v1.04h-1.04zM12,5h1.04v1.04h-1.04zM13,5h1.04v1.04h-1.04zM1,7h1.04v1.04h-1.04zM3,9h1.04v1.04h-1.04zM3,10h1.04v1.04h-1.04z"/>
<path fill="#939393" d="M3,-2h1.04v1.04h-1.04zM6,-2h1.04v1.04h-1.04zM3,-1h1.04v1.04h-1.04zM6,-1h1.04v1.04h-1.04zM3,0h1.04v1.04h-1.04zM6,0h1.04v1.04h-1.04zM5,1h1.04v1.04h-1.04zM8,1h1.04v1.04h-1.04zM2,2h1.04v1.04h-1.04zM7,2h1.04v1.04h-1.04zM8,2h1.04v1.04h-1.04zM4,3h1.04v1.04h-1.04zM4,4h1.04v1.04h-1.04zM9,5h1.04v1.04h-1.04zM2,6h1.04v1.04h-1.04zM11,7h1.04v1.04h-1.04zM12,7h1.04v1.04h-1.04zM13,7h1.04v1.04h-1.04zM1,8h1.04v1.04h-1.04zM7,8h1.04v1.04h-1.04zM5,9h1.04v1.04h-1.04zM6,9h1.04v1.04h-1.04z"/>
<path fill="#9b9b9b" d="M4,2h1.04v1.04h-1.04zM4,9h1.04v1.04h-1.04zM1,11h1.04v1.04h-1.04zM1,12h1.04v1.04h-1.04zM1,13h1.04v1.04h-1.04z"/>
<path fill="#a4a4a4" d="M-2,-2h1.04v1.04h-1.04zM-1,-2h1.04v1.04h-1.04zM0,-2h1.04v1.04h-1.04zM4,-2h1.04v1.04h-1.04zM5,-2h1.04v1.04h-1.04zM-2,-1h1.04v1.04h-1.04zM-1,-1h1.04v1.04h-1.04zM0,-1h1.04v1.04h-1.04zM4,-1h1.04v1.04h-1.04zM5,-1h1.04v1.04h-1.04zM-2,0h1.04v1.04h-1.04zM-1,0h1.04v1.04h-1.04zM0,0h1.04v1.04h-1.04zM4,0h1.04v1.04h-1.04zM5,0h1.04v1.04h-1.04zM4,1h1.04v1.04h-1.04zM3,2h1.04v1.04h-1.04zM3,4h1.04v1.04h-1.04zM9,6h1.04v1.04h-1.04zM2,7h1.04v1.04h-1.04zM3,7h1.04v1.04h-1.04zM8,8h1.04v1.04h-1.04zM11,8h1.04v1.04h-1.04zM12,8h1.04v1.04h-1.04zM13,8h1.04v1.04h-1.04zM4,10h1.04v1.04h-1.04z"/>
<path fill="#acacac" d="M3,1h1.04v1.04h-1.04zM3,3h1.04v1.04h-1.04zM5,4h1.04v1.04h-1.04zM7,4h1.04v1.04h-1.04zM2,8h1.04v1.04h-1.04zM10,8h1.04v1.04h-1.04zM9,10h1.04v1.04h-1.04zM2,11h1.04v1.04h-1.04zM8,11h1.04v1.04h-1.04zM2,12h1.04v1.04h-1.04zM8,12h1.04v1.04h-1.04zM2,13h1.04v1.04h-1.04zM8,13h1.04v1.04h-1.04z"/>
<path fill="#b5b5b5" d="M9,2h1.04v1.04h-1.04zM8,5h1.04v1.04h-1.04zM10,6h1.04v1.04h-1.04zM9,7h1.04v1.04h-1.04zM10,7h1.04v1.04h-1.04zM3,8h1.04v1.04h-1.04zM7,9h1.04v1.04h-1.04zM11,9h1.04v1.04h-1.04zM12,9h1.04v1.04h-1.04zM13,9h1.04v1.04h-1.04zM5,10h1.04v1.04h-1.04zM10,10h1.04v1.04h-1.04zM3,11h1.04v1.04h-1.04zM6,11h1.04v1.04h-1.04zM7,11h1.04v1.04h-1.04zM9,11h1.04v1.04h-1.04zM3,12h1.04v1.04h-1.04zM6,12h1.04v1.04h-1.04zM7,12h1.04v1.04h-1.04zM9,12h1.04v1.04h-1.04zM3,13h1.04v1.04h-1.04zM6,13h1.04v1.04h-1.04zM7,13h1.04v1.04h-1.04zM9,13h1.04v1.04h-1.04z"/>
<path fill="#bebebe" d="M7,1h1.04v1.04h-1.04zM4,5h1.04v1.04h-1.04zM3,6h1.04v1.04h-1.04zM8,7h1.04v1.04h-1.04zM4,8h1.04v1.04h-1.04zM9,8h1.04v1.04h-1.04zM9,9h1.04v1.04h-1.04zM10,9h1.04v1.04h-1.04zM6,10h1.04v1.04h-1.04zM8,10h1.04v1.04h-1.04zM4,11h1.04v1.04h-1.04zM5,11h1.04v1.04h-1.04zM10,11h1.04v1.04h-1.04zM4,12h1.04v1.04h-1.04zM5,12h1.04v1.04h-1.04zM10,12h1.04v1.04h-1.04zM4,13h1.04v1.04h-1.04zM5,13h1.04v1.04h-1.04zM10,13h1.04v1.04h-1.04z"/>
<path fill="#c6c6c6" d="M6,1h1.04v1.04h-1.04zM4,7h1.04v1.04h-1.04zM6,8h1.04v1.04h-1.04zM7,10h1.04v1.04h-1.04zM11,10h1.04v1.04h-1.04zM12,10h1.04v1.04h-1.04zM13,10h1.04v1.04h-1.04z"/>
<path fill="#cbcbcb" d="M5,8h1.04v1.04h-1.04zM8,9h1.04v1.04h-1.04zM11,11h1.04v1.04h-1.04zM12,11h1.04v1.04h-1.04zM13,11h1.04v1.04h-1.04zM11,12h1.04v1.04h-1.04zM12,12h1.04v1.04h-1.04zM13,12h1.04v1.04h-1.04zM11,13h1.04v1.04h-1.04zM12,13h1.04v1.04h-1.04zM13,13h1.04v1.04h-1.04z"/>
<path fill="#cfcfcf" d="M6,4h1.04v1.04h-1.04z"/>
<path fill="#d7d7d7" d="M8,6h1.04v1.04h-1.04z"/>
<path fill="#dcdcdc" d="M4,6h1.04v1.04h-1.04zM7,7h1.04v1.04h-1.04z"/>
<path fill="#e0e0e0" d="M5,5h1.04v1.04h-1.04zM7,5h1.04v1.04h-1.04zM5,7h1.04v1.04h-1.04zM6,7h1.04v1.04h-1.04z"/>
<path fill="#e4e4e4" d="M5,6h1.04v1.04h-1.04zM6,6h1.04v1.04h-1.04zM7,6h1.04v1.04h-1.04z"/>
<path fill="#e8e8e8" d="M6,5h1.04v1.04h-1.04z"/>
</g></g>
<g filter="url(#sblRaMViD)"><g transform="translate(703.00,119.00) scale(0.2505)">
<path d="M10.0,60.0 C26.7,60.0 88.3,50.0 110.0,60.0 C131.7,70.0 138.3,95.0 140.0,120.0 C141.7,145.0 141.7,192.5 120.0,210.0 C98.3,227.5 28.3,250.0 10.0,225.0 C-8.3,200.0 10.0,87.5 10.0,60.0 Z" fill="#5b5b5b" opacity="0.45"/>
<path d="M400.0,10.0 C412.5,10.0 462.5,-13.3 475.0,10.0 C487.5,33.3 480.8,136.7 475.0,150.0 C469.2,163.3 452.5,113.3 440.0,90.0 C427.5,66.7 406.7,23.3 400.0,10.0 Z" fill="#5f5f5f" opacity="0.4"/>
<path d="M200.0,140.0 C211.7,135.0 246.7,111.7 270.0,110.0 C293.3,108.3 319.2,116.7 340.0,130.0 C360.8,143.3 383.3,168.3 395.0,190.0 C406.7,211.7 407.5,248.3 410.0,260.0" fill="none" stroke="#686868" stroke-width="24" stroke-linecap="round" opacity="0.45"/>
<ellipse cx="258" cy="208" rx="62" ry="68" fill="#e8e8e8" opacity="0.5" transform="rotate(0 258 208)"/>
<ellipse cx="215" cy="285" rx="75" ry="48" fill="#dedede" opacity="0.4" transform="rotate(-30 215 285)"/>
</g></g>
<g filter="url(#fblRaMViD)"><g transform="translate(703.00,119.00) scale(0.2505)">
<path d="M230.0,60.0 C240.0,59.2 273.3,54.2 290.0,55.0 C306.7,55.8 323.3,63.3 330.0,65.0" fill="none" stroke="#dcdcdc" stroke-width="10" stroke-linecap="round" opacity="0.6"/>
<path d="M360.0,85.0 C365.0,86.7 385.0,93.3 390.0,95.0" fill="none" stroke="#d7d7d7" stroke-width="8" stroke-linecap="round" opacity="0.6"/>
<path d="M60.0,370.0 C75.0,372.5 118.3,384.2 150.0,385.0 C181.7,385.8 221.7,384.2 250.0,375.0 C278.3,365.8 302.5,347.5 320.0,330.0 C337.5,312.5 349.2,280.0 355.0,270.0" fill="none" stroke="#646464" stroke-width="11" stroke-linecap="round" opacity="0.55"/>
<path d="M40.0,260.0 C50.0,266.7 76.7,288.3 100.0,300.0 C123.3,311.7 166.7,325.0 180.0,330.0" fill="none" stroke="#cbcbcb" stroke-width="10" stroke-linecap="round" opacity="0.4"/>
<path d="M246.2,418.3 C238.8,417.9 216.6,418.3 201.9,415.9 C187.2,413.5 172.3,409.5 158.1,404.0 C143.9,398.5 129.9,391.3 116.9,382.7 C103.9,374.1 91.4,363.9 80.3,352.6 C69.2,341.3 55.3,321.0 50.3,314.7" fill="none" stroke="#4e4e4e" stroke-width="6.3" stroke-linecap="round" opacity="0.14"/>
<path d="M329.6,304.9 C326.4,307.8 317.4,317.1 310.3,322.1 C303.2,327.2 295.3,331.7 287.0,335.2 C278.7,338.7 269.6,341.6 260.4,343.3 C251.2,345.0 241.4,345.9 231.7,345.6 C222.0,345.3 207.1,342.3 202.2,341.6" fill="none" stroke="#dcdcdc" stroke-width="8.7" stroke-linecap="round" opacity="0.14"/>
<path d="M213.9,362.9 C208.4,361.5 191.6,358.7 180.8,354.7 C170.1,350.7 159.4,345.4 149.4,339.1 C139.4,332.8 129.7,325.2 121.1,316.7 C112.5,308.2 104.4,298.4 97.6,288.0 C90.8,277.6 83.1,259.8 80.2,254.1" fill="none" stroke="#4e4e4e" stroke-width="5.1" stroke-linecap="round" opacity="0.15"/>
<path d="M406.0,405.1 C399.1,410.2 379.3,427.2 364.3,436.0 C349.3,444.8 332.8,452.3 316.0,457.8 C299.2,463.3 281.3,467.3 263.4,469.2 C245.5,471.1 226.7,471.3 208.4,469.4 C190.1,467.5 162.8,459.8 153.7,457.9" fill="none" stroke="#4e4e4e" stroke-width="10.8" stroke-linecap="round" opacity="0.23"/>
<path d="M476.2,138.1 C478.7,145.8 487.9,168.5 491.2,184.5 C494.5,200.5 496.3,217.3 496.2,234.0 C496.1,250.7 491.5,276.1 490.6,284.5" fill="none" stroke="#4e4e4e" stroke-width="8.4" stroke-linecap="round" opacity="0.24"/>
<path d="M112.0,147.7 C114.0,142.4 119.0,126.2 124.2,116.0 C129.4,105.8 135.9,95.8 143.4,86.7 C150.9,77.6 159.5,68.9 169.0,61.4 C178.5,53.9 195.1,44.9 200.3,41.6" fill="none" stroke="#4e4e4e" stroke-width="7.2" stroke-linecap="round" opacity="0.12"/>
<path d="M355.7,1.1 C363.1,4.6 385.9,13.5 399.9,22.1 C413.9,30.7 427.4,41.0 439.5,52.6 C451.6,64.2 462.9,77.4 472.5,91.5 C482.1,105.6 490.5,121.1 497.0,137.2 C503.5,153.3 508.6,170.6 511.7,188.1 C514.8,205.6 514.9,232.9 515.5,241.9" fill="none" stroke="#4e4e4e" stroke-width="8.9" stroke-linecap="round" opacity="0.23"/>
<path d="M395.0,365.1 C389.5,370.0 374.1,385.8 362.1,394.4 C350.1,403.0 336.9,410.6 323.0,416.6 C309.1,422.6 294.1,427.4 279.0,430.4 C263.9,433.4 240.0,434.0 232.2,434.7" fill="none" stroke="#dcdcdc" stroke-width="6.4" stroke-linecap="round" opacity="0.19"/>
<path d="M254.6,374.6 C248.7,374.7 231.1,376.1 219.3,374.9 C207.5,373.7 195.5,371.3 183.9,367.6 C172.3,363.9 160.6,358.9 149.8,352.6 C139.0,346.4 128.4,338.7 118.9,330.1 C109.4,321.5 97.1,305.8 92.7,300.9" fill="none" stroke="#dcdcdc" stroke-width="5.9" stroke-linecap="round" opacity="0.19"/>
<path d="M269.0,330.5 C264.7,331.2 252.0,334.4 243.2,334.9 C234.4,335.4 225.1,335.0 216.0,333.6 C206.9,332.2 193.3,327.5 188.8,326.3" fill="none" stroke="#dcdcdc" stroke-width="5.5" stroke-linecap="round" opacity="0.22"/>
<path d="M402.6,166.7 C404.4,171.8 410.9,186.7 413.3,197.3 C415.8,207.9 417.2,219.3 417.3,230.5 C417.4,241.7 416.4,253.4 414.1,264.7 C411.8,276.0 408.2,287.6 403.4,298.5 C398.6,309.4 388.3,324.8 385.3,330.1" fill="none" stroke="#4e4e4e" stroke-width="5.3" stroke-linecap="round" opacity="0.13"/>
<path d="M340.3,-13.8 C348.2,-10.8 372.5,-3.5 387.6,4.2 C402.7,11.9 417.5,21.4 430.9,32.2 C444.3,43.1 457.1,55.6 468.1,69.3 C479.2,83.0 489.1,98.3 497.2,114.3 C505.3,130.3 513.4,156.8 516.6,165.3" fill="none" stroke="#dcdcdc" stroke-width="7.9" stroke-linecap="round" opacity="0.26"/>
<path d="M432.9,58.1 C438.2,64.3 455.5,81.9 464.8,95.5 C474.1,109.1 482.3,124.1 488.7,139.6 C495.1,155.1 500.7,180.5 503.1,188.7" fill="none" stroke="#4e4e4e" stroke-width="7.6" stroke-linecap="round" opacity="0.23"/>
<path d="M430.3,410.5 C423.1,416.4 402.8,435.9 387.2,446.2 C371.6,456.5 354.4,465.6 336.6,472.5 C318.9,479.4 299.8,484.8 280.7,487.9 C261.6,491.0 241.6,492.2 221.9,491.3 C202.2,490.4 172.5,483.7 162.6,482.2" fill="none" stroke="#4e4e4e" stroke-width="6.5" stroke-linecap="round" opacity="0.21"/>
<path d="M91.8,117.4 C95.0,111.5 103.3,92.9 111.0,81.7 C118.7,70.5 127.8,59.7 138.0,50.1 C148.2,40.5 166.2,28.6 171.9,24.3" fill="none" stroke="#4e4e4e" stroke-width="7.4" stroke-linecap="round" opacity="0.15"/>
<path d="M364.7,389.0 C358.4,392.8 340.2,405.6 326.7,411.8 C313.2,418.1 290.9,424.1 283.8,426.5" fill="none" stroke="#dcdcdc" stroke-width="5.5" stroke-linecap="round" opacity="0.22"/>
<path d="M88.2,147.5 C90.3,141.4 95.3,122.7 100.8,111.0 C106.3,99.3 118.0,82.8 121.4,77.1" fill="none" stroke="#4e4e4e" stroke-width="7.4" stroke-linecap="round" opacity="0.12"/>
<path d="M527.5,215.0 C527.1,224.5 528.1,253.2 525.3,272.1 C522.5,291.0 517.7,310.1 510.9,328.3 C504.1,346.5 489.0,372.4 484.6,381.2" fill="none" stroke="#dcdcdc" stroke-width="6.9" stroke-linecap="round" opacity="0.21"/>
<path d="M405.3,287.9 C402.7,293.2 396.0,309.8 389.6,319.9 C383.2,330.0 375.5,339.8 366.8,348.6 C358.1,357.4 348.3,365.6 337.7,372.5 C327.1,379.4 309.1,387.2 303.4,390.2" fill="none" stroke="#4e4e4e" stroke-width="5" stroke-linecap="round" opacity="0.16"/>
<path d="M-6.0,215.7 C-6.0,206.4 -8.1,178.4 -6.2,159.8 C-4.3,141.2 -0.3,122.2 5.6,104.1 C11.5,86.0 19.5,68.0 29.2,51.2 C38.9,34.5 58.1,11.5 63.9,3.6" fill="none" stroke="#4e4e4e" stroke-width="9.7" stroke-linecap="round" opacity="0.15"/>
<path d="M427.3,244.2 C426.2,250.3 424.3,268.7 420.9,280.6 C417.4,292.5 412.7,304.5 406.6,315.7 C400.6,326.9 393.1,337.9 384.6,347.8 C376.1,357.7 366.2,367.2 355.6,375.3 C345.0,383.4 333.1,390.7 320.7,396.5 C308.3,402.3 287.7,407.9 281.1,410.2" fill="none" stroke="#4e4e4e" stroke-width="6.8" stroke-linecap="round" opacity="0.22"/>
<path d="M331.2,108.1 C335.1,110.5 347.1,116.7 354.3,122.3 C361.5,127.9 368.5,134.5 374.6,141.8 C380.7,149.1 386.2,157.4 390.7,166.1 C395.2,174.8 399.9,189.4 401.7,194.1" fill="none" stroke="#dcdcdc" stroke-width="6.7" stroke-linecap="round" opacity="0.15"/>
<path d="M299.0,347.4 C294.1,349.1 280.0,355.3 269.9,357.7 C259.8,360.1 243.6,361.0 238.3,361.7" fill="none" stroke="#dcdcdc" stroke-width="5.6" stroke-linecap="round" opacity="0.24"/>
<path d="M196.6,165.5 C197.8,162.9 200.9,155.1 204.0,150.2 C207.1,145.3 210.9,140.4 215.2,136.1 C219.5,131.8 224.5,127.6 230.0,124.2 C235.5,120.8 241.6,117.8 248.0,115.5 C254.4,113.2 264.9,111.5 268.3,110.7" fill="none" stroke="#dcdcdc" stroke-width="8.4" stroke-linecap="round" opacity="0.2"/>
<path d="M192.6,324.0 C188.3,321.9 175.2,316.6 167.1,311.5 C159.0,306.4 151.1,300.2 144.1,293.2 C137.1,286.2 130.5,278.3 124.9,269.7 C119.3,261.1 113.1,246.5 110.7,241.8" fill="none" stroke="#dcdcdc" stroke-width="11" stroke-linecap="round" opacity="0.12"/>
<path d="M310.4,104.8 C314.3,106.4 326.5,110.2 334.1,114.2 C341.7,118.2 349.3,123.2 356.1,129.0 C362.9,134.8 371.9,145.7 375.0,149.0" fill="none" stroke="#dcdcdc" stroke-width="5.2" stroke-linecap="round" opacity="0.12"/>
<path d="M154.5,333.5 C150.0,329.9 135.6,320.3 127.3,312.2 C119.0,304.1 111.2,294.8 104.6,284.9 C98.0,275.0 92.2,264.0 87.7,252.6 C83.2,241.2 79.7,228.8 77.7,216.4 C75.7,204.0 74.9,190.8 75.6,177.9 C76.3,165.0 80.8,145.4 81.8,138.9" fill="none" stroke="#4e4e4e" stroke-width="5.3" stroke-linecap="round" opacity="0.2"/>
<path d="M417.3,378.3 C411.3,383.9 394.5,401.9 381.3,411.8 C368.1,421.7 353.6,430.6 338.3,437.6 C323.1,444.6 297.9,451.3 289.8,454.0" fill="none" stroke="#4e4e4e" stroke-width="8.8" stroke-linecap="round" opacity="0.12"/>
<path d="M381.3,213.8 C381.5,218.2 383.1,231.5 382.5,240.5 C381.9,249.5 380.3,258.8 377.7,267.8 C375.1,276.8 371.5,285.9 366.9,294.4 C362.3,302.9 356.6,311.3 350.1,318.9 C343.6,326.5 336.0,333.7 327.7,339.9 C319.4,346.1 305.0,353.4 300.5,356.1" fill="none" stroke="#dcdcdc" stroke-width="8.4" stroke-linecap="round" opacity="0.17"/>
<path d="M128.0,401.4 C121.3,396.8 100.1,384.2 87.6,373.5 C75.1,362.8 63.3,350.4 53.2,337.0 C43.1,323.6 31.2,300.6 26.8,293.3" fill="none" stroke="#4e4e4e" stroke-width="9.7" stroke-linecap="round" opacity="0.27"/>
<path d="M5.5,178.3 C6.8,169.4 8.7,142.4 13.1,124.9 C17.5,107.4 23.9,89.8 32.0,73.3 C40.1,56.8 50.3,40.8 61.9,26.1 C73.5,11.5 95.1,-7.8 101.7,-14.6" fill="none" stroke="#4e4e4e" stroke-width="9.3" stroke-linecap="round" opacity="0.25"/>
<path d="M336.0,151.5 C338.5,154.1 346.4,161.2 350.8,167.0 C355.2,172.8 359.2,179.2 362.4,186.1 C365.6,193.0 368.6,204.6 369.9,208.3" fill="none" stroke="#4e4e4e" stroke-width="10.7" stroke-linecap="round" opacity="0.2"/>
<path d="M177.6,460.0 C168.8,457.0 141.8,449.9 125.0,442.0 C108.2,434.1 91.6,424.2 76.5,412.8 C61.4,401.4 41.4,380.1 34.4,373.5" fill="none" stroke="#dcdcdc" stroke-width="5.4" stroke-linecap="round" opacity="0.11"/>
<path d="M244.2,115.1 C247.6,114.2 257.4,110.6 264.5,109.5 C271.6,108.4 279.0,107.9 286.5,108.4 C294.0,108.9 301.8,110.1 309.3,112.3 C316.8,114.5 324.4,117.5 331.5,121.4 C338.6,125.3 348.7,133.3 352.1,135.7" fill="none" stroke="#4e4e4e" stroke-width="12" stroke-linecap="round" opacity="0.25"/>
<path d="M83.4,299.8 C80.2,293.6 69.2,275.8 64.0,262.8 C58.8,249.8 54.8,235.8 52.4,221.6 C50.0,207.4 49.0,192.6 49.7,177.9 C50.4,163.2 52.7,148.1 56.5,133.6 C60.3,119.1 70.0,97.9 72.7,90.8" fill="none" stroke="#4e4e4e" stroke-width="7" stroke-linecap="round" opacity="0.24"/>
<path d="M362.5,295.8 C359.6,299.7 351.9,312.1 345.3,319.4 C338.7,326.7 331.1,333.5 322.8,339.4 C314.5,345.3 305.3,350.6 295.7,354.7 C286.1,358.8 275.6,362.1 265.0,364.2 C254.4,366.2 243.1,367.2 232.0,367.0 C220.9,366.8 203.8,363.4 198.2,362.7" fill="none" stroke="#4e4e4e" stroke-width="6.9" stroke-linecap="round" opacity="0.24"/>
<path d="M186.0,233.3 C184.7,230.8 180.0,223.7 177.9,218.3 C175.8,212.9 174.0,203.9 173.2,201.0" fill="none" stroke="#dcdcdc" stroke-width="7.3" stroke-linecap="round" opacity="0.27"/>
<path d="M262.1,450.7 C253.6,450.8 228.0,452.7 211.0,451.0 C194.0,449.3 176.7,445.8 160.1,440.4 C143.5,435.0 126.9,427.8 111.5,418.9 C96.1,410.0 81.2,399.3 67.8,387.2 C54.4,375.1 41.8,361.2 31.0,346.3 C20.2,331.4 7.8,305.7 3.1,297.6" fill="none" stroke="#dcdcdc" stroke-width="12" stroke-linecap="round" opacity="0.24"/>
<path d="M132.6,222.6 C131.8,218.1 128.6,204.9 128.0,195.7 C127.4,186.5 127.7,176.9 129.2,167.5 C130.6,158.1 133.1,148.5 136.7,139.3 C140.2,130.1 148.2,116.9 150.5,112.4" fill="none" stroke="#4e4e4e" stroke-width="8.8" stroke-linecap="round" opacity="0.13"/>
<path d="M138.9,328.3 C134.6,324.2 120.7,312.7 112.9,303.5 C105.1,294.3 97.9,283.9 92.1,273.0 C86.3,262.1 80.3,243.8 77.9,237.9" fill="none" stroke="#4e4e4e" stroke-width="5.2" stroke-linecap="round" opacity="0.25"/>
<path d="M299.2,295.7 C296.3,297.6 288.0,303.9 281.6,307.0 C275.2,310.1 268.2,312.8 261.0,314.6 C253.8,316.4 246.1,317.5 238.4,317.7 C230.7,317.9 218.6,316.0 214.6,315.7" fill="none" stroke="#dcdcdc" stroke-width="11.2" stroke-linecap="round" opacity="0.19"/>
<path d="M22.4,178.1 C23.6,169.8 25.5,144.5 29.7,128.2 C33.9,111.8 39.9,95.4 47.6,80.0 C55.3,64.6 71.0,43.2 75.7,35.8" fill="none" stroke="#4e4e4e" stroke-width="9.5" stroke-linecap="round" opacity="0.18"/>
<path d="M334.7,190.0 C335.9,192.7 340.2,200.3 342.0,206.1 C343.8,211.8 345.1,218.2 345.7,224.5 C346.2,230.8 346.2,237.5 345.3,244.1 C344.4,250.7 342.8,257.6 340.3,264.2 C337.9,270.8 334.6,277.4 330.6,283.5 C326.6,289.6 318.7,298.1 316.3,301.0" fill="none" stroke="#dcdcdc" stroke-width="10.9" stroke-linecap="round" opacity="0.13"/>
<path d="M420.9,267.0 C419.0,272.9 414.7,290.9 409.6,302.2 C404.6,313.5 398.1,324.8 390.6,335.0 C383.1,345.2 374.2,355.0 364.5,363.7 C354.8,372.4 343.8,380.4 332.1,387.0 C320.4,393.6 307.6,399.1 294.5,403.2 C281.4,407.3 260.3,410.0 253.5,411.4" fill="none" stroke="#dcdcdc" stroke-width="8.4" stroke-linecap="round" opacity="0.21"/>
<path d="M265.1,388.3 C258.8,388.7 239.9,391.2 227.1,390.6 C214.3,390.0 194.8,385.7 188.4,384.7" fill="none" stroke="#4e4e4e" stroke-width="10.3" stroke-linecap="round" opacity="0.16"/>
<path d="M273.7,293.5 C270.7,294.5 262.1,298.3 255.9,299.7 C249.7,301.1 242.9,302.0 236.2,302.0 C229.5,302.0 222.4,301.2 215.5,299.7 C208.6,298.2 201.5,295.9 194.8,292.8 C188.1,289.7 178.6,282.9 175.4,280.9" fill="none" stroke="#4e4e4e" stroke-width="11.4" stroke-linecap="round" opacity="0.23"/>
<path d="M462.5,359.4 C457.1,366.5 442.5,389.1 430.2,402.2 C417.9,415.3 403.9,427.6 388.9,438.0 C373.9,448.4 357.3,457.6 340.1,464.8 C322.9,472.0 304.4,477.5 285.8,481.0 C267.2,484.5 247.6,486.2 228.3,485.7 C209.0,485.2 179.9,479.3 170.2,478.0" fill="none" stroke="#4e4e4e" stroke-width="10.8" stroke-linecap="round" opacity="0.22"/>
<path d="M220.6,8.3 C227.8,7.0 248.9,1.4 263.5,0.2 C278.1,-1.0 293.3,-0.8 308.1,1.2 C322.9,3.2 338.1,6.8 352.5,11.9 C366.9,17.1 387.6,28.7 394.6,32.1" fill="none" stroke="#dcdcdc" stroke-width="5.9" stroke-linecap="round" opacity="0.23"/>
<path d="M187.3,161.0 C188.7,158.2 192.3,149.3 195.8,143.9 C199.3,138.5 203.6,133.1 208.4,128.3 C213.2,123.5 218.9,119.0 224.9,115.2 C230.9,111.4 237.7,108.1 244.7,105.6 C251.7,103.1 263.4,101.3 267.1,100.4" fill="none" stroke="#4e4e4e" stroke-width="8.6" stroke-linecap="round" opacity="0.24"/>
<path d="M364.5,105.3 C368.4,108.9 380.9,118.9 388.0,127.1 C395.1,135.3 401.5,144.5 406.8,154.3 C412.1,164.1 416.7,174.7 419.9,185.7 C423.1,196.7 425.3,208.4 426.2,220.2 C427.1,232.0 425.2,250.3 425.0,256.3" fill="none" stroke="#4e4e4e" stroke-width="9" stroke-linecap="round" opacity="0.17"/>
</g></g></g>
</g>
<rect x="705.3" y="122.5" width="115.4" height="114.3" fill="none" stroke="#7030a0" stroke-width="3.5"/>
<rect x="616.3" y="152.4" width="39.3" height="38.4" fill="none" stroke="#7030a0" stroke-width="3.6"/>
<line x1="657.6" y1="150.6" x2="704" y2="123.2" stroke="#7030a0" stroke-width="3.3" stroke-dasharray="3.3,3.3" stroke-dashoffset="1.5"/>
<line x1="657.6" y1="192.6" x2="704" y2="233.7" stroke="#7030a0" stroke-width="3.3" stroke-dasharray="3.3,3.3" stroke-dashoffset="1.5"/>
<text transform="translate(573.0,179.9) rotate(-90)" text-anchor="middle" font-size="22">RaMViD</text>
<g clip-path="url(#cpsDGDM)">
<g filter="url(#txsDGDM)"><g filter="url(#blsDGDM)"><g transform="translate(579.40,242.10) scale(9.4583,9.4667)">
<rect x="-3" y="-3" width="18" height="18" fill="#808080"/>
<path fill="#303030" d="M-2,6h1.04v1.04h-1.04zM-1,6h1.04v1.04h-1.04zM0,6h1.04v1.04h-1.04zM1,6h1.04v1.04h-1.04z"/>
<path fill="#3f3f3f" d="M2,6h1.04v1.04h-1.04zM-2,7h1.04v1.04h-1.04zM-1,7h1.04v1.04h-1.04zM0,7h1.04v1.04h-1.04z"/>
<path fill="#464646" d="M2,5h1.04v1.04h-1.04zM3,5h1.04v1.04h-1.04zM11,9h1.04v1.04h-1.04zM12,9h1.04v1.04h-1.04zM13,9h1.04v1.04h-1.04zM10,10h1.04v1.04h-1.04zM7,11h1.04v1.04h-1.04zM7,12h1.04v1.04h-1.04zM7,13h1.04v1.04h-1.04z"/>
<path fill="#4e4e4e" d="M8,3h1.04v1.04h-1.04zM9,3h1.04v1.04h-1.04zM10,3h1.04v1.04h-1.04zM3,4h1.04v1.04h-1.04zM9,4h1.04v1.04h-1.04zM10,4h1.04v1.04h-1.04zM-2,5h1.04v1.04h-1.04zM-1,5h1.04v1.04h-1.04zM0,5h1.04v1.04h-1.04zM1,5h1.04v1.04h-1.04zM11,5h1.04v1.04h-1.04zM12,5h1.04v1.04h-1.04zM13,5h1.04v1.04h-1.04zM11,6h1.04v1.04h-1.04zM12,6h1.04v1.04h-1.04zM13,6h1.04v1.04h-1.04zM11,8h1.04v1.04h-1.04zM12,8h1.04v1.04h-1.04zM13,8h1.04v1.04h-1.04zM8,9h1.04v1.04h-1.04zM10,9h1.04v1.04h-1.04zM6,10h1.04v1.04h-1.04zM11,10h1.04v1.04h-1.04zM12,10h1.04v1.04h-1.04zM13,10h1.04v1.04h-1.04zM8,11h1.04v1.04h-1.04zM10,11h1.04v1.04h-1.04zM11,11h1.04v1.04h-1.04zM12,11h1.04v1.04h-1.04zM13,11h1.04v1.04h-1.04zM8,12h1.04v1.04h-1.04zM10,12h1.04v1.04h-1.04zM11,12h1.04v1.04h-1.04zM12,12h1.04v1.04h-1.04zM13,12h1.04v1.04h-1.04zM8,13h1.04v1.04h-1.04zM10,13h1.04v1.04h-1.04zM11,13h1.04v1.04h-1.04zM12,13h1.04v1.04h-1.04zM13,13h1.04v1.04h-1.04z"/>
<path fill="#555555" d="M11,3h1.04v1.04h-1.04zM12,3h1.04v1.04h-1.04zM13,3h1.04v1.04h-1.04zM8,4h1.04v1.04h-1.04zM11,4h1.04v1.04h-1.04zM12,4h1.04v1.04h-1.04zM13,4h1.04v1.04h-1.04zM10,5h1.04v1.04h-1.04zM3,6h1.04v1.04h-1.04zM-2,10h1.04v1.04h-1.04zM-1,10h1.04v1.04h-1.04zM0,10h1.04v1.04h-1.04zM7,10h1.04v1.04h-1.04zM9,11h1.04v1.04h-1.04zM9,12h1.04v1.04h-1.04zM9,13h1.04v1.04h-1.04z"/>
<path fill="#5d5d5d" d="M6,2h1.04v1.04h-1.04zM10,2h1.04v1.04h-1.04zM11,2h1.04v1.04h-1.04zM12,2h1.04v1.04h-1.04zM13,2h1.04v1.04h-1.04zM2,4h1.04v1.04h-1.04zM4,5h1.04v1.04h-1.04zM8,5h1.04v1.04h-1.04zM9,5h1.04v1.04h-1.04zM11,7h1.04v1.04h-1.04zM12,7h1.04v1.04h-1.04zM13,7h1.04v1.04h-1.04zM5,10h1.04v1.04h-1.04z"/>
<path fill="#646464" d="M9,2h1.04v1.04h-1.04zM3,3h1.04v1.04h-1.04zM7,3h1.04v1.04h-1.04zM1,4h1.04v1.04h-1.04zM1,7h1.04v1.04h-1.04zM4,8h1.04v1.04h-1.04zM9,9h1.04v1.04h-1.04zM9,10h1.04v1.04h-1.04zM4,11h1.04v1.04h-1.04zM5,11h1.04v1.04h-1.04zM6,11h1.04v1.04h-1.04zM4,12h1.04v1.04h-1.04zM5,12h1.04v1.04h-1.04zM6,12h1.04v1.04h-1.04zM4,13h1.04v1.04h-1.04zM5,13h1.04v1.04h-1.04zM6,13h1.04v1.04h-1.04z"/>
<path fill="#6b6b6b" d="M5,2h1.04v1.04h-1.04zM2,3h1.04v1.04h-1.04zM-2,4h1.04v1.04h-1.04zM-1,4h1.04v1.04h-1.04zM0,4h1.04v1.04h-1.04zM4,4h1.04v1.04h-1.04zM3,7h1.04v1.04h-1.04zM8,10h1.04v1.04h-1.04z"/>
<path fill="#737373" d="M11,1h1.04v1.04h-1.04zM12,1h1.04v1.04h-1.04zM13,1h1.04v1.04h-1.04zM7,2h1.04v1.04h-1.04zM1,3h1.04v1.04h-1.04zM4,3h1.04v1.04h-1.04zM7,4h1.04v1.04h-1.04zM2,8h1.04v1.04h-1.04zM4,9h1.04v1.04h-1.04zM-2,11h1.04v1.04h-1.04zM-1,11h1.04v1.04h-1.04zM0,11h1.04v1.04h-1.04zM3,11h1.04v1.04h-1.04zM-2,12h1.04v1.04h-1.04zM-1,12h1.04v1.04h-1.04zM0,12h1.04v1.04h-1.04zM3,12h1.04v1.04h-1.04zM-2,13h1.04v1.04h-1.04zM-1,13h1.04v1.04h-1.04zM0,13h1.04v1.04h-1.04zM3,13h1.04v1.04h-1.04z"/>
<path fill="#7a7a7a" d="M2,2h1.04v1.04h-1.04zM3,2h1.04v1.04h-1.04zM2,7h1.04v1.04h-1.04zM10,8h1.04v1.04h-1.04zM2,9h1.04v1.04h-1.04zM5,9h1.04v1.04h-1.04z"/>
<path fill="#818181" d="M9,-2h1.04v1.04h-1.04zM10,-2h1.04v1.04h-1.04zM9,-1h1.04v1.04h-1.04zM10,-1h1.04v1.04h-1.04zM9,0h1.04v1.04h-1.04zM10,0h1.04v1.04h-1.04zM10,1h1.04v1.04h-1.04zM4,2h1.04v1.04h-1.04zM8,2h1.04v1.04h-1.04zM6,3h1.04v1.04h-1.04zM3,8h1.04v1.04h-1.04zM5,8h1.04v1.04h-1.04zM9,8h1.04v1.04h-1.04zM3,9h1.04v1.04h-1.04zM7,9h1.04v1.04h-1.04zM1,10h1.04v1.04h-1.04zM4,10h1.04v1.04h-1.04zM1,11h1.04v1.04h-1.04zM1,12h1.04v1.04h-1.04zM1,13h1.04v1.04h-1.04z"/>
<path fill="#898989" d="M8,-2h1.04v1.04h-1.04zM11,-2h1.04v1.04h-1.04zM12,-2h1.04v1.04h-1.04zM13,-2h1.04v1.04h-1.04zM8,-1h1.04v1.04h-1.04zM11,-1h1.04v1.04h-1.04zM12,-1h1.04v1.04h-1.04zM13,-1h1.04v1.04h-1.04zM8,0h1.04v1.04h-1.04zM11,0h1.04v1.04h-1.04zM12,0h1.04v1.04h-1.04zM13,0h1.04v1.04h-1.04z"/>
<path fill="#909090" d="M1,-2h1.04v1.04h-1.04zM4,-2h1.04v1.04h-1.04zM1,-1h1.04v1.04h-1.04zM4,-1h1.04v1.04h-1.04zM1,0h1.04v1.04h-1.04zM4,0h1.04v1.04h-1.04zM3,1h1.04v1.04h-1.04zM1,2h1.04v1.04h-1.04zM5,3h1.04v1.04h-1.04zM7,5h1.04v1.04h-1.04zM4,6h1.04v1.04h-1.04zM8,8h1.04v1.04h-1.04zM1,9h1.04v1.04h-1.04zM6,9h1.04v1.04h-1.04zM2,10h1.04v1.04h-1.04zM3,10h1.04v1.04h-1.04zM2,11h1.04v1.04h-1.04zM2,12h1.04v1.04h-1.04zM2,13h1.04v1.04h-1.04z"/>
<path fill="#979797" d="M7,-2h1.04v1.04h-1.04zM7,-1h1.04v1.04h-1.04zM7,0h1.04v1.04h-1.04zM2,1h1.04v1.04h-1.04zM4,1h1.04v1.04h-1.04zM9,1h1.04v1.04h-1.04zM7,6h1.04v1.04h-1.04zM10,6h1.04v1.04h-1.04zM4,7h1.04v1.04h-1.04z"/>
<path fill="#9f9f9f" d="M-2,-2h1.04v1.04h-1.04zM-1,-2h1.04v1.04h-1.04zM0,-2h1.04v1.04h-1.04zM2,-2h1.04v1.04h-1.04zM3,-2h1.04v1.04h-1.04zM-2,-1h1.04v1.04h-1.04zM-1,-1h1.04v1.04h-1.04zM0,-1h1.04v1.04h-1.04zM2,-1h1.04v1.04h-1.04zM3,-1h1.04v1.04h-1.04zM-2,0h1.04v1.04h-1.04zM-1,0h1.04v1.04h-1.04zM0,0h1.04v1.04h-1.04zM2,0h1.04v1.04h-1.04zM3,0h1.04v1.04h-1.04zM1,1h1.04v1.04h-1.04zM-2,3h1.04v1.04h-1.04zM-1,3h1.04v1.04h-1.04zM0,3h1.04v1.04h-1.04zM5,7h1.04v1.04h-1.04zM10,7h1.04v1.04h-1.04zM1,8h1.04v1.04h-1.04z"/>
<path fill="#a6a6a6" d="M-2,1h1.04v1.04h-1.04zM-1,1h1.04v1.04h-1.04zM0,1h1.04v1.04h-1.04zM-2,8h1.04v1.04h-1.04zM-1,8h1.04v1.04h-1.04zM0,8h1.04v1.04h-1.04zM-2,9h1.04v1.04h-1.04zM-1,9h1.04v1.04h-1.04zM0,9h1.04v1.04h-1.04z"/>
<path fill="#aeaeae" d="M6,1h1.04v1.04h-1.04zM8,1h1.04v1.04h-1.04zM-2,2h1.04v1.04h-1.04zM-1,2h1.04v1.04h-1.04zM0,2h1.04v1.04h-1.04zM5,4h1.04v1.04h-1.04zM8,6h1.04v1.04h-1.04zM6,8h1.04v1.04h-1.04z"/>
<path fill="#b5b5b5" d="M5,1h1.04v1.04h-1.04zM7,1h1.04v1.04h-1.04zM6,4h1.04v1.04h-1.04zM5,6h1.04v1.04h-1.04zM6,6h1.04v1.04h-1.04zM9,6h1.04v1.04h-1.04zM6,7h1.04v1.04h-1.04zM9,7h1.04v1.04h-1.04z"/>
<path fill="#bcbcbc" d="M5,-2h1.04v1.04h-1.04zM6,-2h1.04v1.04h-1.04zM5,-1h1.04v1.04h-1.04zM6,-1h1.04v1.04h-1.04zM5,0h1.04v1.04h-1.04zM6,0h1.04v1.04h-1.04zM8,7h1.04v1.04h-1.04zM7,8h1.04v1.04h-1.04z"/>
<path fill="#c4c4c4" d="M5,5h1.04v1.04h-1.04zM7,7h1.04v1.04h-1.04z"/>
<path fill="#d2d2d2" d="M6,5h1.04v1.04h-1.04z"/>
</g></g>
<g filter="url(#sbsDGDM)"><g transform="translate(579.40,242.10) scale(0.2370)">
<path d="M0.0,238.0 C20.0,237.0 95.0,228.3 120.0,232.0 C145.0,235.7 146.7,248.7 150.0,260.0 C153.3,271.3 155.0,291.7 140.0,300.0 C125.0,308.3 83.3,309.2 60.0,310.0 C36.7,310.8 10.0,317.0 0.0,305.0 C-10.0,293.0 0.0,249.2 0.0,238.0 Z" fill="#3f3f3f" opacity="0.5"/>
<path d="M135.0,125.0 C145.8,120.8 174.2,105.0 200.0,100.0 C225.8,95.0 265.0,91.7 290.0,95.0 C315.0,98.3 328.3,108.3 350.0,120.0 C371.7,131.7 408.3,157.5 420.0,165.0" fill="none" stroke="#434343" stroke-width="24" stroke-linecap="round" opacity="0.45"/>
<path d="M150.0,72.0 C166.7,69.2 220.0,56.2 250.0,55.0 C280.0,53.8 301.7,58.3 330.0,65.0 C358.3,71.7 405.0,90.0 420.0,95.0" fill="none" stroke="#c4c4c4" stroke-width="22" stroke-linecap="round" opacity="0.45"/>
<ellipse cx="225" cy="18" rx="50" ry="26" fill="#d2d2d2" opacity="0.6" transform="rotate(0 225 18)"/>
<ellipse cx="240" cy="200" rx="50" ry="52" fill="#dbdbdb" opacity="0.7" transform="rotate(0 240 200)"/>
<path d="M178.0,135.0 C175.8,145.8 164.3,177.5 165.0,200.0 C165.7,222.5 179.2,258.3 182.0,270.0" fill="none" stroke="#3f3f3f" stroke-width="20" stroke-linecap="round" opacity="0.55"/>
</g></g>
<g filter="url(#fbsDGDM)"><g transform="translate(579.40,242.10) scale(0.2370)">
<path d="M325.0,228.0 C335.8,232.5 370.0,239.7 390.0,255.0 C410.0,270.3 435.8,309.2 445.0,320.0" fill="none" stroke="#d2d2d2" stroke-width="22" stroke-linecap="round" opacity="0.42"/>
<path d="M300.0,290.0 C311.7,294.7 349.2,302.2 370.0,318.0 C390.8,333.8 415.8,373.8 425.0,385.0" fill="none" stroke="#d2d2d2" stroke-width="20" stroke-linecap="round" opacity="0.38"/>
<path d="M335.0,190.0 C345.8,192.5 380.8,195.0 400.0,205.0 C419.2,215.0 441.7,242.5 450.0,250.0" fill="none" stroke="#cfcfcf" stroke-width="16" stroke-linecap="round" opacity="0.25"/>
<path d="M335.0,258.0 C344.5,263.7 375.8,276.3 392.0,292.0 C408.2,307.7 425.3,342.0 432.0,352.0" fill="none" stroke="#464646" stroke-width="12" stroke-linecap="round" opacity="0.35"/>
<path d="M297.7,184.5 C298.6,186.5 301.8,192.3 303.2,196.6 C304.6,200.9 305.6,208.1 306.1,210.4" fill="none" stroke="#464646" stroke-width="3.7" stroke-linecap="round" opacity="0.23"/>
<path d="M192.8,133.8 C195.0,131.9 201.3,125.5 206.2,122.1 C211.1,118.7 216.6,115.7 222.4,113.3 C228.2,110.9 234.4,109.0 240.8,107.9 C247.2,106.8 254.0,106.3 260.7,106.6 C267.4,106.9 274.4,107.9 281.2,109.7 C287.9,111.5 297.9,116.0 301.2,117.3" fill="none" stroke="#cfcfcf" stroke-width="6.8" stroke-linecap="round" opacity="0.28"/>
<path d="M125.0,115.2 C128.0,111.1 136.0,98.1 142.8,90.5 C149.6,82.9 157.4,75.7 165.9,69.5 C174.4,63.3 183.8,57.8 193.6,53.5 C203.4,49.2 214.0,45.7 224.7,43.5 C235.4,41.3 252.4,40.7 258.0,40.1" fill="none" stroke="#464646" stroke-width="5.8" stroke-linecap="round" opacity="0.21"/>
<path d="M318.6,127.5 C321.3,130.2 330.1,137.6 335.0,143.6 C339.9,149.6 344.5,156.3 348.1,163.4 C351.8,170.5 354.8,178.3 356.9,186.3 C359.0,194.3 360.1,207.0 360.8,211.2" fill="none" stroke="#cfcfcf" stroke-width="6.4" stroke-linecap="round" opacity="0.35"/>
<path d="M356.8,152.0 C358.6,156.1 365.0,168.0 367.8,176.7 C370.6,185.3 372.5,194.6 373.4,203.9 C374.3,213.2 374.3,222.9 373.2,232.4 C372.1,241.9 370.0,251.6 366.8,260.9 C363.6,270.2 359.4,279.6 354.2,288.2 C349.0,296.8 342.8,305.2 335.7,312.7 C328.6,320.2 315.9,329.9 311.9,333.3" fill="none" stroke="#464646" stroke-width="5.8" stroke-linecap="round" opacity="0.35"/>
<path d="M232.3,345.3 C227.2,345.1 211.7,345.6 201.4,344.0 C191.1,342.4 180.6,339.8 170.6,336.0 C160.6,332.2 150.8,327.3 141.6,321.4 C132.4,315.5 120.0,304.0 115.7,300.5" fill="none" stroke="#464646" stroke-width="6.8" stroke-linecap="round" opacity="0.36"/>
<path d="M322.5,302.6 C318.9,305.6 308.8,315.4 301.0,320.7 C293.2,326.0 284.5,330.6 275.5,334.2 C266.5,337.8 256.8,340.6 247.0,342.3 C237.2,344.0 226.8,344.7 216.6,344.2 C206.4,343.7 191.0,340.3 185.9,339.5" fill="none" stroke="#cfcfcf" stroke-width="3.2" stroke-linecap="round" opacity="0.33"/>
<path d="M379.2,228.6 C378.2,233.6 376.5,248.7 373.5,258.4 C370.5,268.1 366.5,277.9 361.4,287.0 C356.3,296.1 350.1,305.0 343.1,313.0 C336.1,321.0 328.0,328.5 319.2,335.0 C310.4,341.5 295.3,349.2 290.5,352.0" fill="none" stroke="#464646" stroke-width="4.6" stroke-linecap="round" opacity="0.37"/>
<path d="M306.9,161.3 C308.6,163.6 314.0,169.9 316.9,174.9 C319.8,179.9 322.2,185.4 324.0,191.1 C325.8,196.8 327.1,202.9 327.6,209.1 C328.1,215.3 327.3,225.0 327.2,228.2" fill="none" stroke="#464646" stroke-width="4.2" stroke-linecap="round" opacity="0.35"/>
<path d="M152.8,175.8 C153.4,172.6 154.5,162.8 156.5,156.5 C158.5,150.2 161.2,143.8 164.6,137.8 C168.0,131.8 172.2,126.0 177.0,120.7 C181.8,115.4 187.2,110.4 193.2,106.1 C199.2,101.8 209.6,96.8 212.9,94.9" fill="none" stroke="#464646" stroke-width="3.4" stroke-linecap="round" opacity="0.45"/>
<path d="M184.3,271.1 C181.6,269.3 173.1,264.5 168.0,260.3 C162.9,256.1 158.0,251.1 153.8,245.7 C149.6,240.3 145.9,234.2 142.8,227.8 C139.8,221.4 136.7,210.6 135.5,207.2" fill="none" stroke="#464646" stroke-width="6.8" stroke-linecap="round" opacity="0.33"/>
<path d="M195.3,232.2 C193.8,230.8 188.9,226.9 186.2,223.7 C183.5,220.4 181.0,216.7 179.0,212.7 C177.0,208.7 175.3,204.3 174.1,199.7 C172.9,195.1 172.1,190.2 172.0,185.3 C171.9,180.4 172.3,175.1 173.3,170.0 C174.3,164.9 177.3,157.2 178.1,154.6" fill="none" stroke="#cfcfcf" stroke-width="5.2" stroke-linecap="round" opacity="0.29"/>
<path d="M201.0,272.7 C198.2,271.6 189.7,268.8 184.4,265.8 C179.1,262.9 173.8,259.2 169.1,255.0 C164.4,250.8 158.2,243.0 156.0,240.6" fill="none" stroke="#cfcfcf" stroke-width="5.1" stroke-linecap="round" opacity="0.4"/>
<path d="M200.1,147.2 C201.8,145.5 206.6,139.9 210.5,136.8 C214.4,133.7 218.7,130.8 223.4,128.5 C228.1,126.2 233.3,124.4 238.6,123.1 C243.9,121.8 249.6,121.0 255.3,120.9 C261.0,120.8 269.9,122.2 272.8,122.5" fill="none" stroke="#cfcfcf" stroke-width="4.6" stroke-linecap="round" opacity="0.41"/>
<path d="M322.1,155.5 C323.9,158.3 330.0,166.5 333.0,172.6 C336.0,178.7 338.6,185.3 340.3,192.2 C342.0,199.0 343.1,206.4 343.3,213.7 C343.5,221.0 342.9,228.7 341.5,236.1 C340.1,243.5 337.9,251.1 334.9,258.3 C331.9,265.5 325.2,275.7 323.3,279.2" fill="none" stroke="#cfcfcf" stroke-width="5.1" stroke-linecap="round" opacity="0.35"/>
<path d="M362.9,193.3 C363.3,197.7 365.4,210.7 365.2,219.5 C365.0,228.3 363.8,237.6 361.7,246.4 C359.6,255.2 356.5,264.2 352.5,272.6 C348.5,281.0 340.0,292.9 337.5,297.0" fill="none" stroke="#464646" stroke-width="5.6" stroke-linecap="round" opacity="0.29"/>
<path d="M267.9,71.9 C272.5,72.8 286.4,74.5 295.4,77.3 C304.4,80.1 313.5,83.9 321.9,88.6 C330.3,93.3 338.5,99.0 345.9,105.6 C353.3,112.1 360.4,119.7 366.4,127.9 C372.4,136.1 379.4,150.2 382.0,154.7" fill="none" stroke="#464646" stroke-width="3.1" stroke-linecap="round" opacity="0.33"/>
<path d="M186.4,139.6 C188.4,137.4 193.9,130.5 198.4,126.6 C202.9,122.7 208.1,119.0 213.5,116.1 C218.9,113.1 228.2,110.1 231.1,108.9" fill="none" stroke="#464646" stroke-width="4.7" stroke-linecap="round" opacity="0.27"/>
<path d="M381.5,238.1 C380.2,243.1 377.4,258.5 373.7,268.3 C370.0,278.1 365.2,287.9 359.4,296.9 C353.6,305.9 346.6,314.6 338.9,322.4 C331.1,330.2 317.2,340.0 312.9,343.5" fill="none" stroke="#cfcfcf" stroke-width="3.9" stroke-linecap="round" opacity="0.26"/>
<path d="M282.7,152.3 C284.7,153.6 290.8,157.0 294.5,160.1 C298.2,163.2 301.8,166.9 304.9,170.9 C308.0,174.9 311.7,182.0 313.1,184.2" fill="none" stroke="#cfcfcf" stroke-width="4.9" stroke-linecap="round" opacity="0.25"/>
<path d="M171.9,301.4 C168.2,299.1 156.6,292.9 149.7,287.5 C142.8,282.1 136.2,275.8 130.4,268.8 C124.6,261.8 119.4,253.9 115.1,245.7 C110.8,237.4 107.3,228.5 104.8,219.3 C102.3,210.1 100.7,200.3 100.2,190.5 C99.7,180.7 100.1,170.5 101.7,160.6 C103.3,150.7 108.4,136.0 109.7,131.1" fill="none" stroke="#464646" stroke-width="3.2" stroke-linecap="round" opacity="0.29"/>
<path d="M268.2,160.6 C269.9,161.3 275.2,163.0 278.5,164.9 C281.8,166.8 285.1,169.1 288.0,171.8 C290.9,174.5 294.8,179.7 296.2,181.3" fill="none" stroke="#cfcfcf" stroke-width="4.5" stroke-linecap="round" opacity="0.39"/>
<path d="M221.4,108.1 C224.7,107.2 234.2,103.7 240.9,102.6 C247.7,101.5 254.8,101.0 261.9,101.4 C269.0,101.8 279.8,104.3 283.4,104.9" fill="none" stroke="#cfcfcf" stroke-width="4.1" stroke-linecap="round" opacity="0.22"/>
<path d="M208.9,146.9 C210.7,145.4 215.6,140.6 219.5,138.1 C223.4,135.6 227.8,133.4 232.4,131.7 C237.0,130.0 242.1,128.7 247.2,128.0 C252.3,127.3 257.7,127.1 263.1,127.6 C268.5,128.1 274.0,129.2 279.4,130.9 C284.8,132.6 292.6,136.7 295.3,137.9" fill="none" stroke="#464646" stroke-width="3.2" stroke-linecap="round" opacity="0.32"/>
<path d="M200.7,170.0 C201.5,168.3 203.4,163.1 205.4,159.8 C207.4,156.5 209.9,153.2 212.8,150.3 C215.7,147.4 219.0,144.6 222.7,142.3 C226.4,140.0 232.8,137.4 234.8,136.4" fill="none" stroke="#cfcfcf" stroke-width="6.1" stroke-linecap="round" opacity="0.2"/>
<path d="M139.7,90.5 C143.6,86.9 154.4,75.3 162.9,68.9 C171.4,62.5 180.8,56.8 190.6,52.3 C200.4,47.8 211.2,44.1 222.0,41.7 C232.8,39.3 244.3,38.0 255.7,37.9 C267.1,37.8 278.8,38.9 290.1,41.2 C301.5,43.6 318.2,50.2 323.8,52.0" fill="none" stroke="#cfcfcf" stroke-width="5.1" stroke-linecap="round" opacity="0.23"/>
<ellipse cx="242" cy="196" rx="4.5" ry="4.5" fill="#555555" opacity="0.9" transform="rotate(0 242 196)"/>
</g></g>
<g mask="url(#mksDGDM)" opacity="0.3"><g transform="rotate(-38 636.1 298.9)"><rect x="551.0" y="213.7" width="170.2" height="170.4" filter="url(#sksDGDM)"/></g></g></g>
<g filter="url(#pbsDGDM)"><g transform="translate(579.40,242.10) scale(0.2370)">
<path d="M-20.0,-20.0 C12.5,-20.0 146.7,-33.3 175.0,-20.0 C203.3,-6.7 157.8,38.3 150.0,60.0 C142.2,81.7 128.3,93.3 128.0,110.0 C127.7,126.7 148.5,140.8 148.0,160.0 C147.5,179.2 153.0,213.0 125.0,225.0 C97.0,237.0 4.2,272.8 -20.0,232.0 C-44.2,191.2 -20.0,22.0 -20.0,-20.0 Z" fill="#6e6e6e" opacity="0.55"/>
<path d="M310.0,-20.0 C341.7,-20.0 468.3,-35.8 500.0,-20.0 C531.7,-4.2 513.3,61.3 500.0,75.0 C486.7,88.7 446.7,68.2 420.0,62.0 C393.3,55.8 358.3,51.7 340.0,38.0 C321.7,24.3 315.0,-10.3 310.0,-20.0 Z" fill="#828282" opacity="0.45"/>
</g></g>
</g>
<g clip-path="url(#cplDGDM)">
<g filter="url(#txlDGDM)"><g filter="url(#bllDGDM)"><g transform="translate(704.00,241.80) scale(9.7500,9.6500)">
<rect x="-3" y="-3" width="18" height="18" fill="#808080"/>
<path fill="#3f3f3f" d="M2,6h1.04v1.04h-1.04z"/>
<path fill="#464646" d="M1,5h1.04v1.04h-1.04zM2,5h1.04v1.04h-1.04zM2,7h1.04v1.04h-1.04zM3,7h1.04v1.04h-1.04z"/>
<path fill="#4d4d4d" d="M-2,-2h1.04v1.04h-1.04zM-1,-2h1.04v1.04h-1.04zM0,-2h1.04v1.04h-1.04zM-2,-1h1.04v1.04h-1.04zM-1,-1h1.04v1.04h-1.04zM0,-1h1.04v1.04h-1.04zM-2,0h1.04v1.04h-1.04zM-1,0h1.04v1.04h-1.04zM0,0h1.04v1.04h-1.04zM-2,1h1.04v1.04h-1.04zM-1,1h1.04v1.04h-1.04zM0,1h1.04v1.04h-1.04zM-2,5h1.04v1.04h-1.04zM-1,5h1.04v1.04h-1.04zM0,5h1.04v1.04h-1.04zM1,6h1.04v1.04h-1.04z"/>
<path fill="#535353" d="M11,-2h1.04v1.04h-1.04zM12,-2h1.04v1.04h-1.04zM13,-2h1.04v1.04h-1.04zM11,-1h1.04v1.04h-1.04zM12,-1h1.04v1.04h-1.04zM13,-1h1.04v1.04h-1.04zM11,0h1.04v1.04h-1.04zM12,0h1.04v1.04h-1.04zM13,0h1.04v1.04h-1.04zM9,1h1.04v1.04h-1.04zM10,1h1.04v1.04h-1.04zM11,1h1.04v1.04h-1.04zM12,1h1.04v1.04h-1.04zM13,1h1.04v1.04h-1.04zM-2,2h1.04v1.04h-1.04zM-1,2h1.04v1.04h-1.04zM0,2h1.04v1.04h-1.04zM10,2h1.04v1.04h-1.04zM11,2h1.04v1.04h-1.04zM12,2h1.04v1.04h-1.04zM13,2h1.04v1.04h-1.04zM-2,4h1.04v1.04h-1.04zM-1,4h1.04v1.04h-1.04zM0,4h1.04v1.04h-1.04zM3,6h1.04v1.04h-1.04z"/>
<path fill="#5a5a5a" d="M1,-2h1.04v1.04h-1.04zM8,-2h1.04v1.04h-1.04zM9,-2h1.04v1.04h-1.04zM10,-2h1.04v1.04h-1.04zM1,-1h1.04v1.04h-1.04zM8,-1h1.04v1.04h-1.04zM9,-1h1.04v1.04h-1.04zM10,-1h1.04v1.04h-1.04zM1,0h1.04v1.04h-1.04zM8,0h1.04v1.04h-1.04zM9,0h1.04v1.04h-1.04zM10,0h1.04v1.04h-1.04zM9,2h1.04v1.04h-1.04zM-2,3h1.04v1.04h-1.04zM-1,3h1.04v1.04h-1.04zM0,3h1.04v1.04h-1.04zM11,3h1.04v1.04h-1.04zM12,3h1.04v1.04h-1.04zM13,3h1.04v1.04h-1.04zM-2,6h1.04v1.04h-1.04zM-1,6h1.04v1.04h-1.04zM0,6h1.04v1.04h-1.04zM1,7h1.04v1.04h-1.04z"/>
<path fill="#606060" d="M8,1h1.04v1.04h-1.04zM10,3h1.04v1.04h-1.04zM1,4h1.04v1.04h-1.04z"/>
<path fill="#676767" d="M2,4h1.04v1.04h-1.04zM11,4h1.04v1.04h-1.04zM12,4h1.04v1.04h-1.04zM13,4h1.04v1.04h-1.04z"/>
<path fill="#6d6d6d" d="M7,-2h1.04v1.04h-1.04zM7,-1h1.04v1.04h-1.04zM7,0h1.04v1.04h-1.04zM11,6h1.04v1.04h-1.04zM12,6h1.04v1.04h-1.04zM13,6h1.04v1.04h-1.04zM-2,7h1.04v1.04h-1.04zM-1,7h1.04v1.04h-1.04zM0,7h1.04v1.04h-1.04z"/>
<path fill="#747474" d="M1,1h1.04v1.04h-1.04zM1,2h1.04v1.04h-1.04zM8,2h1.04v1.04h-1.04zM1,3h1.04v1.04h-1.04zM11,5h1.04v1.04h-1.04zM12,5h1.04v1.04h-1.04zM13,5h1.04v1.04h-1.04zM-2,9h1.04v1.04h-1.04zM-1,9h1.04v1.04h-1.04zM0,9h1.04v1.04h-1.04z"/>
<path fill="#7b7b7b" d="M7,1h1.04v1.04h-1.04zM10,4h1.04v1.04h-1.04zM-2,11h1.04v1.04h-1.04zM-1,11h1.04v1.04h-1.04zM0,11h1.04v1.04h-1.04zM-2,12h1.04v1.04h-1.04zM-1,12h1.04v1.04h-1.04zM0,12h1.04v1.04h-1.04zM-2,13h1.04v1.04h-1.04zM-1,13h1.04v1.04h-1.04zM0,13h1.04v1.04h-1.04z"/>
<path fill="#818181" d="M2,-2h1.04v1.04h-1.04zM2,-1h1.04v1.04h-1.04zM2,0h1.04v1.04h-1.04zM9,3h1.04v1.04h-1.04zM1,8h1.04v1.04h-1.04zM1,9h1.04v1.04h-1.04zM8,10h1.04v1.04h-1.04z"/>
<path fill="#888888" d="M3,5h1.04v1.04h-1.04zM10,6h1.04v1.04h-1.04zM-2,8h1.04v1.04h-1.04zM-1,8h1.04v1.04h-1.04zM0,8h1.04v1.04h-1.04zM2,8h1.04v1.04h-1.04zM9,8h1.04v1.04h-1.04zM9,9h1.04v1.04h-1.04zM8,11h1.04v1.04h-1.04zM8,12h1.04v1.04h-1.04zM8,13h1.04v1.04h-1.04z"/>
<path fill="#8e8e8e" d="M4,-2h1.04v1.04h-1.04zM4,-1h1.04v1.04h-1.04zM4,0h1.04v1.04h-1.04zM10,5h1.04v1.04h-1.04zM4,7h1.04v1.04h-1.04zM9,7h1.04v1.04h-1.04zM2,9h1.04v1.04h-1.04zM-2,10h1.04v1.04h-1.04zM-1,10h1.04v1.04h-1.04zM0,10h1.04v1.04h-1.04z"/>
<path fill="#959595" d="M3,-2h1.04v1.04h-1.04zM3,-1h1.04v1.04h-1.04zM3,0h1.04v1.04h-1.04zM7,2h1.04v1.04h-1.04zM3,4h1.04v1.04h-1.04zM11,7h1.04v1.04h-1.04zM12,7h1.04v1.04h-1.04zM13,7h1.04v1.04h-1.04zM7,11h1.04v1.04h-1.04zM7,12h1.04v1.04h-1.04zM7,13h1.04v1.04h-1.04z"/>
<path fill="#9b9b9b" d="M5,-2h1.04v1.04h-1.04zM6,-2h1.04v1.04h-1.04zM5,-1h1.04v1.04h-1.04zM6,-1h1.04v1.04h-1.04zM5,0h1.04v1.04h-1.04zM6,0h1.04v1.04h-1.04zM6,1h1.04v1.04h-1.04zM5,2h1.04v1.04h-1.04zM6,2h1.04v1.04h-1.04zM4,4h1.04v1.04h-1.04zM10,7h1.04v1.04h-1.04zM3,8h1.04v1.04h-1.04zM3,9h1.04v1.04h-1.04zM4,9h1.04v1.04h-1.04zM5,9h1.04v1.04h-1.04zM1,10h1.04v1.04h-1.04zM2,10h1.04v1.04h-1.04zM3,10h1.04v1.04h-1.04zM4,10h1.04v1.04h-1.04zM1,11h1.04v1.04h-1.04zM1,12h1.04v1.04h-1.04zM1,13h1.04v1.04h-1.04z"/>
<path fill="#a2a2a2" d="M5,1h1.04v1.04h-1.04zM5,3h1.04v1.04h-1.04zM9,10h1.04v1.04h-1.04zM4,11h1.04v1.04h-1.04zM4,12h1.04v1.04h-1.04zM4,13h1.04v1.04h-1.04z"/>
<path fill="#a9a9a9" d="M4,1h1.04v1.04h-1.04zM2,3h1.04v1.04h-1.04zM4,3h1.04v1.04h-1.04zM8,3h1.04v1.04h-1.04zM10,8h1.04v1.04h-1.04zM6,9h1.04v1.04h-1.04zM8,9h1.04v1.04h-1.04zM5,10h1.04v1.04h-1.04zM7,10h1.04v1.04h-1.04zM2,11h1.04v1.04h-1.04zM3,11h1.04v1.04h-1.04zM5,11h1.04v1.04h-1.04zM2,12h1.04v1.04h-1.04zM3,12h1.04v1.04h-1.04zM5,12h1.04v1.04h-1.04zM2,13h1.04v1.04h-1.04zM3,13h1.04v1.04h-1.04zM5,13h1.04v1.04h-1.04z"/>
<path fill="#afafaf" d="M2,1h1.04v1.04h-1.04zM9,4h1.04v1.04h-1.04zM4,5h1.04v1.04h-1.04zM4,6h1.04v1.04h-1.04zM9,6h1.04v1.04h-1.04z"/>
<path fill="#b6b6b6" d="M3,1h1.04v1.04h-1.04zM2,2h1.04v1.04h-1.04zM4,2h1.04v1.04h-1.04zM3,3h1.04v1.04h-1.04zM6,3h1.04v1.04h-1.04zM7,3h1.04v1.04h-1.04zM6,10h1.04v1.04h-1.04zM6,11h1.04v1.04h-1.04zM9,11h1.04v1.04h-1.04zM6,12h1.04v1.04h-1.04zM9,12h1.04v1.04h-1.04zM6,13h1.04v1.04h-1.04zM9,13h1.04v1.04h-1.04z"/>
<path fill="#b9b9b9" d="M7,8h1.04v1.04h-1.04zM7,9h1.04v1.04h-1.04z"/>
<path fill="#bcbcbc" d="M4,8h1.04v1.04h-1.04zM10,9h1.04v1.04h-1.04z"/>
<path fill="#c0c0c0" d="M3,2h1.04v1.04h-1.04zM9,5h1.04v1.04h-1.04z"/>
<path fill="#c3c3c3" d="M5,4h1.04v1.04h-1.04zM11,8h1.04v1.04h-1.04zM12,8h1.04v1.04h-1.04zM13,8h1.04v1.04h-1.04z"/>
<path fill="#c6c6c6" d="M6,8h1.04v1.04h-1.04zM8,8h1.04v1.04h-1.04z"/>
<path fill="#cacaca" d="M8,4h1.04v1.04h-1.04zM6,5h1.04v1.04h-1.04zM5,8h1.04v1.04h-1.04z"/>
<path fill="#cdcdcd" d="M6,4h1.04v1.04h-1.04zM7,4h1.04v1.04h-1.04zM5,5h1.04v1.04h-1.04zM5,7h1.04v1.04h-1.04zM8,7h1.04v1.04h-1.04zM10,10h1.04v1.04h-1.04z"/>
<path fill="#d0d0d0" d="M7,5h1.04v1.04h-1.04zM8,5h1.04v1.04h-1.04zM5,6h1.04v1.04h-1.04zM6,6h1.04v1.04h-1.04zM7,6h1.04v1.04h-1.04zM8,6h1.04v1.04h-1.04zM6,7h1.04v1.04h-1.04zM7,7h1.04v1.04h-1.04zM11,9h1.04v1.04h-1.04zM12,9h1.04v1.04h-1.04zM13,9h1.04v1.04h-1.04zM11,10h1.04v1.04h-1.04zM12,10h1.04v1.04h-1.04zM13,10h1.04v1.04h-1.04zM10,11h1.04v1.04h-1.04zM11,11h1.04v1.04h-1.04zM12,11h1.04v1.04h-1.04zM13,11h1.04v1.04h-1.04zM10,12h1.04v1.04h-1.04zM11,12h1.04v1.04h-1.04zM12,12h1.04v1.04h-1.04zM13,12h1.04v1.04h-1.04zM10,13h1.04v1.04h-1.04zM11,13h1.04v1.04h-1.04zM12,13h1.04v1.04h-1.04zM13,13h1.04v1.04h-1.04z"/>
</g></g>
<g filter="url(#sblDGDM)"><g transform="translate(703.00,239.00) scale(0.2505)">
<path d="M30.0,200.0 C40.0,195.0 71.7,171.7 90.0,170.0 C108.3,168.3 128.3,178.3 140.0,190.0 C151.7,201.7 156.7,223.3 160.0,240.0 C163.3,256.7 170.0,276.7 160.0,290.0 C150.0,303.3 121.7,316.7 100.0,320.0 C78.3,323.3 41.7,330.0 30.0,310.0 C18.3,290.0 30.0,218.3 30.0,200.0 Z" fill="#181818" opacity="0.55"/>
<ellipse cx="150" cy="85" rx="80" ry="48" fill="#d0d0d0" opacity="0.45" transform="rotate(0 150 85)"/>
<path d="M280.0,15.0 C311.7,15.0 438.3,-19.2 470.0,15.0 C501.7,49.2 476.7,197.5 470.0,220.0 C463.3,242.5 445.0,170.0 430.0,150.0 C415.0,130.0 398.3,113.3 380.0,100.0 C361.7,86.7 336.7,84.2 320.0,70.0 C303.3,55.8 286.7,24.2 280.0,15.0 Z" fill="#535353" opacity="0.4"/>
<ellipse cx="290" cy="240" rx="108" ry="108" fill="#ffffff" opacity="0.75" transform="rotate(0 290 240)"/>
<path d="M410.0,330.0 C420.8,325.0 464.2,275.8 475.0,300.0 C485.8,324.2 489.2,445.8 475.0,475.0 C460.8,504.2 400.8,499.2 390.0,475.0 C379.2,450.8 406.7,354.2 410.0,330.0 Z" fill="#fefefe" opacity="0.7"/>
</g></g>
<g filter="url(#fblDGDM)"><g transform="translate(703.00,239.00) scale(0.2505)">
<path d="M70.0,300.0 C81.7,300.8 118.3,303.3 140.0,305.0 C161.7,306.7 190.0,309.2 200.0,310.0" fill="none" stroke="#3c3c3c" stroke-width="9" stroke-linecap="round" opacity="0.8"/>
<path d="M20.0,385.0 C41.7,386.7 103.3,395.8 150.0,395.0 C196.7,394.2 258.3,390.8 300.0,380.0 C341.7,369.2 383.3,338.3 400.0,330.0" fill="none" stroke="#6d6d6d" stroke-width="7" stroke-linecap="round" opacity="0.4"/>
<path d="M65.9,269.5 C64.8,261.9 59.9,239.3 59.4,224.0 C58.9,208.7 60.0,192.8 62.7,177.4 C65.5,162.0 69.9,146.4 75.9,131.7 C81.9,117.0 94.9,96.1 98.7,89.0" fill="none" stroke="#c6c6c6" stroke-width="3.1" stroke-linecap="round" opacity="0.29"/>
<path d="M243.8,472.9 C235.5,471.4 210.0,468.6 193.7,463.8 C177.4,459.0 161.1,452.4 145.9,444.2 C130.7,436.0 115.8,426.0 102.5,414.6 C89.2,403.2 71.9,382.4 65.8,376.0" fill="none" stroke="#4d4d4d" stroke-width="5.8" stroke-linecap="round" opacity="0.37"/>
<path d="M392.0,380.0 C386.9,383.9 372.2,396.9 361.1,403.7 C350.0,410.5 331.2,417.9 325.2,420.7" fill="none" stroke="#4d4d4d" stroke-width="3.3" stroke-linecap="round" opacity="0.4"/>
<path d="M477.6,335.1 C473.9,342.0 464.3,363.4 455.5,376.4 C446.7,389.4 436.3,401.8 424.8,412.9 C413.3,423.9 392.9,437.7 386.5,442.7" fill="none" stroke="#c6c6c6" stroke-width="7.2" stroke-linecap="round" opacity="0.2"/>
<path d="M518.3,330.7 C514.7,339.0 505.5,364.7 496.5,380.4 C487.5,396.1 476.6,411.4 464.3,425.1 C452.0,438.8 429.8,456.4 422.9,462.6" fill="none" stroke="#c6c6c6" stroke-width="7.9" stroke-linecap="round" opacity="0.44"/>
<path d="M417.3,352.3 C413.1,357.1 401.7,372.6 392.3,381.4 C382.9,390.2 366.3,401.2 361.1,405.2" fill="none" stroke="#c6c6c6" stroke-width="6.1" stroke-linecap="round" opacity="0.24"/>
<path d="M239.7,118.8 C243.8,117.2 255.6,111.5 264.2,109.1 C272.8,106.7 286.6,105.3 291.1,104.6" fill="none" stroke="#4d4d4d" stroke-width="5" stroke-linecap="round" opacity="0.3"/>
<path d="M124.4,127.9 C128.2,122.4 138.6,105.1 147.4,95.0 C156.2,84.9 166.4,75.3 177.3,67.1 C188.2,58.9 207.1,49.3 213.1,45.7" fill="none" stroke="#c6c6c6" stroke-width="6.6" stroke-linecap="round" opacity="0.44"/>
<path d="M495.4,202.7 C496.4,210.3 501.0,233.0 501.4,248.4 C501.8,263.8 500.5,279.8 497.6,295.2 C494.7,310.6 486.1,333.4 483.8,341.0" fill="none" stroke="#c6c6c6" stroke-width="6.5" stroke-linecap="round" opacity="0.37"/>
<path d="M394.3,334.3 C390.9,338.4 381.4,351.6 373.6,359.1 C365.8,366.6 356.9,373.6 347.4,379.4 C337.9,385.2 321.9,391.7 316.8,394.1" fill="none" stroke="#4d4d4d" stroke-width="7.1" stroke-linecap="round" opacity="0.33"/>
<path d="M518.7,277.7 C517.0,286.1 513.5,311.5 508.3,327.8 C503.1,344.1 496.0,360.4 487.3,375.5 C478.6,390.6 461.5,411.2 456.3,418.4" fill="none" stroke="#4d4d4d" stroke-width="4.1" stroke-linecap="round" opacity="0.31"/>
<path d="M100.9,386.6 C95.7,380.2 78.8,361.9 69.8,347.9 C60.8,333.9 50.9,310.3 47.1,302.8" fill="none" stroke="#4d4d4d" stroke-width="3.9" stroke-linecap="round" opacity="0.37"/>
<path d="M433.7,271.2 C432.5,276.7 429.9,293.4 426.3,304.1 C422.7,314.8 417.8,325.5 411.9,335.4 C406.0,345.3 394.3,358.9 390.8,363.6" fill="none" stroke="#4d4d4d" stroke-width="3.3" stroke-linecap="round" opacity="0.31"/>
<path d="M320.6,388.4 C315.2,389.9 299.2,395.6 288.0,397.5 C276.8,399.4 265.1,400.1 253.5,399.5 C241.9,398.9 224.2,395.0 218.4,394.1" fill="none" stroke="#4d4d4d" stroke-width="5.4" stroke-linecap="round" opacity="0.44"/>
<path d="M407.9,459.4 C399.8,463.6 376.5,478.1 359.6,484.8 C342.7,491.6 324.5,496.8 306.3,499.9 C288.1,503.0 259.6,502.9 250.3,503.5" fill="none" stroke="#c6c6c6" stroke-width="6.7" stroke-linecap="round" opacity="0.43"/>
<path d="M436.4,241.6 C436.2,247.1 437.0,263.8 435.5,274.9 C434.0,286.0 431.2,297.3 427.3,308.1 C423.4,318.9 418.2,329.6 412.0,339.6 C405.8,349.6 393.6,363.2 389.9,367.9" fill="none" stroke="#c6c6c6" stroke-width="4.2" stroke-linecap="round" opacity="0.2"/>
<path d="M484.3,287.5 C482.3,294.7 478.0,316.7 472.5,330.6 C467.0,344.5 459.9,358.3 451.5,371.0 C443.1,383.7 433.1,395.9 422.0,406.7 C410.9,417.5 398.3,427.6 385.0,436.0 C371.7,444.4 349.2,453.8 342.0,457.3" fill="none" stroke="#4d4d4d" stroke-width="5.5" stroke-linecap="round" opacity="0.21"/>
<path d="M175.8,447.9 C168.4,444.0 145.2,434.0 131.3,424.7 C117.4,415.4 104.0,404.4 92.1,392.2 C80.2,380.0 69.2,366.1 60.0,351.5 C50.8,336.9 42.8,320.8 36.8,304.3 C30.8,287.8 26.0,261.1 23.8,252.5" fill="none" stroke="#4d4d4d" stroke-width="4.1" stroke-linecap="round" opacity="0.33"/>
<path d="M70.0,265.0 C69.0,257.6 64.6,235.4 64.3,220.4 C64.0,205.4 65.4,189.8 68.3,174.8 C71.2,159.8 79.6,137.7 81.9,130.3" fill="none" stroke="#4d4d4d" stroke-width="7.5" stroke-linecap="round" opacity="0.24"/>
<path d="M215.7,477.0 C207.2,474.5 181.3,468.6 165.0,461.8 C148.7,455.0 132.6,446.3 117.9,436.1 C103.2,425.9 83.5,406.4 76.6,400.5" fill="none" stroke="#4d4d4d" stroke-width="5.6" stroke-linecap="round" opacity="0.37"/>
<path d="M238.4,92.8 C243.4,91.2 258.2,85.4 268.6,83.3 C279.0,81.2 290.0,80.1 300.9,80.3 C311.8,80.5 328.4,83.6 333.9,84.3" fill="none" stroke="#c6c6c6" stroke-width="6.4" stroke-linecap="round" opacity="0.37"/>
<path d="M450.8,420.9 C444.1,426.7 425.0,445.5 410.4,455.7 C395.8,465.9 379.6,474.8 362.9,481.8 C346.2,488.8 319.1,494.9 310.3,497.5" fill="none" stroke="#c6c6c6" stroke-width="5.2" stroke-linecap="round" opacity="0.44"/>
<path d="M83.0,157.1 C85.9,150.2 93.0,128.9 100.2,115.7 C107.4,102.5 116.2,89.7 126.2,78.1 C136.2,66.5 147.6,55.6 160.0,46.2 C172.4,36.8 186.2,28.3 200.5,21.6 C214.8,14.9 238.5,8.5 246.1,5.9" fill="none" stroke="#4d4d4d" stroke-width="6.8" stroke-linecap="round" opacity="0.3"/>
<path d="M63.7,100.7 C68.7,93.2 82.0,69.7 93.5,55.9 C105.0,42.1 118.3,29.0 132.6,17.7 C146.9,6.4 162.9,-3.7 179.5,-11.8 C196.1,-20.0 214.1,-26.6 232.3,-31.2 C250.5,-35.8 279.4,-37.9 288.8,-39.3" fill="none" stroke="#4d4d4d" stroke-width="4.7" stroke-linecap="round" opacity="0.29"/>
<path d="M262.0,33.5 C269.1,33.0 290.4,29.8 304.8,30.2 C319.2,30.6 340.9,35.1 348.1,36.1" fill="none" stroke="#4d4d4d" stroke-width="7.5" stroke-linecap="round" opacity="0.4"/>
<path d="M484.8,81.2 C490.0,88.6 507.1,109.7 515.9,125.5 C524.7,141.3 532.0,158.4 537.4,176.0 C542.8,193.6 546.4,212.2 548.0,230.8 C549.6,249.4 547.1,277.9 546.9,287.3" fill="none" stroke="#4d4d4d" stroke-width="4.9" stroke-linecap="round" opacity="0.22"/>
<path d="M181.4,365.2 C176.7,361.8 162.0,352.4 153.4,344.5 C144.8,336.6 136.8,327.5 130.0,317.7 C123.2,307.9 117.1,297.1 112.3,285.8 C107.5,274.6 103.8,262.5 101.4,250.2 C99.1,237.9 98.7,218.5 98.2,212.2" fill="none" stroke="#4d4d4d" stroke-width="5.7" stroke-linecap="round" opacity="0.36"/>
<path d="M420.1,374.6 C415.1,379.5 401.2,395.3 390.2,404.0 C379.2,412.7 366.9,420.6 354.1,426.9 C341.3,433.2 327.4,438.4 313.2,442.0 C299.0,445.6 276.5,447.3 269.2,448.4" fill="none" stroke="#c6c6c6" stroke-width="4.2" stroke-linecap="round" opacity="0.3"/>
<path d="M181.3,433.0 C174.4,429.4 152.8,419.9 139.8,411.2 C126.8,402.5 109.3,385.9 103.2,380.8" fill="none" stroke="#c6c6c6" stroke-width="4.6" stroke-linecap="round" opacity="0.37"/>
<path d="M293.1,18.2 C300.8,18.8 323.9,19.0 339.0,21.8 C354.1,24.6 369.4,29.2 383.8,35.2 C398.2,41.2 412.5,49.0 425.6,58.1 C438.7,67.2 451.2,78.0 462.3,89.8 C473.4,101.6 487.1,122.5 492.0,129.1" fill="none" stroke="#c6c6c6" stroke-width="3.1" stroke-linecap="round" opacity="0.32"/>
<path d="M146.0,284.5 C144.1,279.8 137.5,266.0 134.8,256.1 C132.1,246.2 130.2,235.7 129.6,225.2 C129.0,214.7 129.4,203.8 131.1,193.1 C132.8,182.4 138.2,166.5 139.6,161.2" fill="none" stroke="#c6c6c6" stroke-width="4.2" stroke-linecap="round" opacity="0.28"/>
<path d="M389.0,194.8 C390.6,198.6 396.4,209.7 398.9,217.8 C401.4,225.9 403.1,234.5 403.8,243.2 C404.5,251.9 403.4,265.4 403.3,269.8" fill="none" stroke="#c6c6c6" stroke-width="4" stroke-linecap="round" opacity="0.31"/>
<path d="M327.6,488.0 C318.7,489.4 292.0,495.4 273.9,496.3 C255.8,497.2 237.0,496.2 218.8,493.2 C200.6,490.2 173.8,480.9 164.8,478.4" fill="none" stroke="#4d4d4d" stroke-width="3.8" stroke-linecap="round" opacity="0.32"/>
<path d="M87.4,82.6 C93.0,76.0 108.2,54.8 120.7,42.8 C133.2,30.8 147.3,19.7 162.3,10.4 C177.3,1.1 202.5,-9.1 210.5,-13.0" fill="none" stroke="#c6c6c6" stroke-width="7.3" stroke-linecap="round" opacity="0.41"/>
<path d="M307.9,431.4 C300.9,432.3 280.3,436.6 266.2,436.9 C252.1,437.2 237.6,436.1 223.5,433.4 C209.4,430.7 195.1,426.5 181.6,420.8 C168.1,415.1 149.1,402.9 142.6,399.3" fill="none" stroke="#c6c6c6" stroke-width="6.4" stroke-linecap="round" opacity="0.37"/>
<path d="M477.8,200.4 C478.9,207.4 483.9,228.2 484.7,242.4 C485.5,256.6 484.8,271.4 482.5,285.8 C480.2,300.2 476.4,314.7 471.1,328.5 C465.8,342.3 454.0,361.9 450.6,368.6" fill="none" stroke="#c6c6c6" stroke-width="6.7" stroke-linecap="round" opacity="0.28"/>
<path d="M109.1,235.1 C109.1,229.0 107.7,210.8 108.9,198.7 C110.2,186.6 112.8,174.2 116.6,162.4 C120.4,150.6 129.4,133.4 132.0,127.6" fill="none" stroke="#c6c6c6" stroke-width="4.1" stroke-linecap="round" opacity="0.34"/>
<path d="M278.6,357.1 C274.2,357.2 261.2,358.6 252.4,358.0 C243.6,357.4 234.4,355.8 225.7,353.2 C217.0,350.6 208.2,347.0 200.0,342.5 C191.8,338.0 183.7,332.4 176.4,326.1 C169.1,319.8 159.7,308.1 156.3,304.5" fill="none" stroke="#c6c6c6" stroke-width="7.7" stroke-linecap="round" opacity="0.35"/>
<path d="M88.0,395.7 C82.5,388.8 64.7,369.1 55.3,354.1 C45.9,339.1 37.9,322.8 31.7,305.9 C25.6,289.0 20.9,271.1 18.4,253.0 C15.9,234.9 15.2,216.0 16.5,197.6 C17.8,179.2 24.7,151.5 26.3,142.3" fill="none" stroke="#c6c6c6" stroke-width="3.6" stroke-linecap="round" opacity="0.36"/>
<path d="M395.1,60.2 C401.2,64.4 420.5,75.6 431.8,85.2 C443.1,94.8 453.7,105.9 462.9,117.9 C472.1,129.9 480.4,143.2 487.0,157.1 C493.6,171.0 499.0,186.0 502.6,201.2 C506.2,216.4 507.7,240.6 508.7,248.5" fill="none" stroke="#c6c6c6" stroke-width="6.1" stroke-linecap="round" opacity="0.27"/>
<ellipse cx="262" cy="195" rx="5" ry="5" fill="#5a5a5a" opacity="1" transform="rotate(0 262 195)"/>
</g></g></g>
</g>
<rect x="705.3" y="242.6" width="115.4" height="114.3" fill="none" stroke="#0070c0" stroke-width="3.5"/>
<rect x="616.3" y="272.4" width="39.3" height="38.4" fill="none" stroke="#0070c0" stroke-width="3.6"/>
<line x1="657.6" y1="270.6" x2="704" y2="243.2" stroke="#0070c0" stroke-width="3.3" stroke-dasharray="3.3,3.3" stroke-dashoffset="1.5"/>
<line x1="657.6" y1="312.6" x2="704" y2="353.7" stroke="#0070c0" stroke-width="3.3" stroke-dasharray="3.3,3.3" stroke-dashoffset="1.5"/>
<text transform="translate(571.4,299.1) rotate(-90)" text-anchor="middle" font-size="22">DGDM</text>
<g clip-path="url(#cpsGT)">
<g filter="url(#txsGT)"><g filter="url(#blsGT)"><g transform="translate(579.40,362.10) scale(9.4583,9.4667)">
<rect x="-3" y="-3" width="18" height="18" fill="#808080"/>
<path fill="#303030" d="M-2,6h1.04v1.04h-1.04zM-1,6h1.04v1.04h-1.04zM0,6h1.04v1.04h-1.04zM1,6h1.04v1.04h-1.04z"/>
<path fill="#3f3f3f" d="M2,6h1.04v1.04h-1.04zM-2,7h1.04v1.04h-1.04zM-1,7h1.04v1.04h-1.04zM0,7h1.04v1.04h-1.04z"/>
<path fill="#464646" d="M9,3h1.04v1.04h-1.04zM9,4h1.04v1.04h-1.04zM11,5h1.04v1.04h-1.04zM12,5h1.04v1.04h-1.04zM13,5h1.04v1.04h-1.04zM11,9h1.04v1.04h-1.04zM12,9h1.04v1.04h-1.04zM13,9h1.04v1.04h-1.04zM10,10h1.04v1.04h-1.04zM7,11h1.04v1.04h-1.04zM10,11h1.04v1.04h-1.04zM11,11h1.04v1.04h-1.04zM12,11h1.04v1.04h-1.04zM13,11h1.04v1.04h-1.04zM7,12h1.04v1.04h-1.04zM10,12h1.04v1.04h-1.04zM11,12h1.04v1.04h-1.04zM12,12h1.04v1.04h-1.04zM13,12h1.04v1.04h-1.04zM7,13h1.04v1.04h-1.04zM10,13h1.04v1.04h-1.04zM11,13h1.04v1.04h-1.04zM12,13h1.04v1.04h-1.04zM13,13h1.04v1.04h-1.04z"/>
<path fill="#4e4e4e" d="M8,3h1.04v1.04h-1.04zM10,3h1.04v1.04h-1.04zM11,3h1.04v1.04h-1.04zM12,3h1.04v1.04h-1.04zM13,3h1.04v1.04h-1.04zM8,4h1.04v1.04h-1.04zM10,4h1.04v1.04h-1.04zM11,4h1.04v1.04h-1.04zM12,4h1.04v1.04h-1.04zM13,4h1.04v1.04h-1.04zM3,5h1.04v1.04h-1.04zM3,6h1.04v1.04h-1.04zM11,6h1.04v1.04h-1.04zM12,6h1.04v1.04h-1.04zM13,6h1.04v1.04h-1.04zM8,9h1.04v1.04h-1.04zM10,9h1.04v1.04h-1.04zM6,10h1.04v1.04h-1.04zM11,10h1.04v1.04h-1.04zM12,10h1.04v1.04h-1.04zM13,10h1.04v1.04h-1.04zM8,11h1.04v1.04h-1.04zM8,12h1.04v1.04h-1.04zM8,13h1.04v1.04h-1.04z"/>
<path fill="#555555" d="M6,2h1.04v1.04h-1.04zM10,2h1.04v1.04h-1.04zM3,4h1.04v1.04h-1.04zM-2,5h1.04v1.04h-1.04zM-1,5h1.04v1.04h-1.04zM0,5h1.04v1.04h-1.04zM2,5h1.04v1.04h-1.04zM8,5h1.04v1.04h-1.04zM9,5h1.04v1.04h-1.04zM10,5h1.04v1.04h-1.04zM11,8h1.04v1.04h-1.04zM12,8h1.04v1.04h-1.04zM13,8h1.04v1.04h-1.04zM-2,10h1.04v1.04h-1.04zM-1,10h1.04v1.04h-1.04zM0,10h1.04v1.04h-1.04zM5,10h1.04v1.04h-1.04zM7,10h1.04v1.04h-1.04zM9,11h1.04v1.04h-1.04zM9,12h1.04v1.04h-1.04zM9,13h1.04v1.04h-1.04z"/>
<path fill="#5d5d5d" d="M11,2h1.04v1.04h-1.04zM12,2h1.04v1.04h-1.04zM13,2h1.04v1.04h-1.04zM1,5h1.04v1.04h-1.04zM4,5h1.04v1.04h-1.04zM1,7h1.04v1.04h-1.04zM9,9h1.04v1.04h-1.04zM9,10h1.04v1.04h-1.04zM4,11h1.04v1.04h-1.04zM4,12h1.04v1.04h-1.04zM4,13h1.04v1.04h-1.04z"/>
<path fill="#646464" d="M5,2h1.04v1.04h-1.04zM7,3h1.04v1.04h-1.04zM11,7h1.04v1.04h-1.04zM12,7h1.04v1.04h-1.04zM13,7h1.04v1.04h-1.04zM8,10h1.04v1.04h-1.04zM5,11h1.04v1.04h-1.04zM6,11h1.04v1.04h-1.04zM5,12h1.04v1.04h-1.04zM6,12h1.04v1.04h-1.04zM5,13h1.04v1.04h-1.04zM6,13h1.04v1.04h-1.04z"/>
<path fill="#6b6b6b" d="M7,2h1.04v1.04h-1.04zM9,2h1.04v1.04h-1.04zM3,3h1.04v1.04h-1.04zM2,4h1.04v1.04h-1.04zM4,4h1.04v1.04h-1.04zM3,7h1.04v1.04h-1.04zM2,8h1.04v1.04h-1.04zM4,8h1.04v1.04h-1.04zM4,9h1.04v1.04h-1.04z"/>
<path fill="#737373" d="M11,1h1.04v1.04h-1.04zM12,1h1.04v1.04h-1.04zM13,1h1.04v1.04h-1.04zM2,3h1.04v1.04h-1.04zM4,3h1.04v1.04h-1.04zM1,4h1.04v1.04h-1.04zM2,7h1.04v1.04h-1.04zM2,9h1.04v1.04h-1.04zM5,9h1.04v1.04h-1.04zM3,11h1.04v1.04h-1.04zM3,12h1.04v1.04h-1.04zM3,13h1.04v1.04h-1.04z"/>
<path fill="#7a7a7a" d="M2,2h1.04v1.04h-1.04zM1,3h1.04v1.04h-1.04zM6,3h1.04v1.04h-1.04zM7,4h1.04v1.04h-1.04zM7,9h1.04v1.04h-1.04zM4,10h1.04v1.04h-1.04zM-2,11h1.04v1.04h-1.04zM-1,11h1.04v1.04h-1.04zM0,11h1.04v1.04h-1.04zM-2,12h1.04v1.04h-1.04zM-1,12h1.04v1.04h-1.04zM0,12h1.04v1.04h-1.04zM-2,13h1.04v1.04h-1.04zM-1,13h1.04v1.04h-1.04zM0,13h1.04v1.04h-1.04z"/>
<path fill="#818181" d="M9,-2h1.04v1.04h-1.04zM9,-1h1.04v1.04h-1.04zM9,0h1.04v1.04h-1.04zM3,2h1.04v1.04h-1.04zM4,2h1.04v1.04h-1.04zM8,2h1.04v1.04h-1.04zM-2,4h1.04v1.04h-1.04zM-1,4h1.04v1.04h-1.04zM0,4h1.04v1.04h-1.04zM3,8h1.04v1.04h-1.04zM5,8h1.04v1.04h-1.04zM10,8h1.04v1.04h-1.04zM3,9h1.04v1.04h-1.04zM1,10h1.04v1.04h-1.04z"/>
<path fill="#898989" d="M8,-2h1.04v1.04h-1.04zM10,-2h1.04v1.04h-1.04zM8,-1h1.04v1.04h-1.04zM10,-1h1.04v1.04h-1.04zM8,0h1.04v1.04h-1.04zM10,0h1.04v1.04h-1.04zM10,1h1.04v1.04h-1.04zM5,3h1.04v1.04h-1.04zM9,8h1.04v1.04h-1.04zM1,11h1.04v1.04h-1.04zM1,12h1.04v1.04h-1.04zM1,13h1.04v1.04h-1.04z"/>
<path fill="#909090" d="M-2,-2h1.04v1.04h-1.04zM-1,-2h1.04v1.04h-1.04zM0,-2h1.04v1.04h-1.04zM1,-2h1.04v1.04h-1.04zM4,-2h1.04v1.04h-1.04zM7,-2h1.04v1.04h-1.04zM11,-2h1.04v1.04h-1.04zM12,-2h1.04v1.04h-1.04zM13,-2h1.04v1.04h-1.04zM-2,-1h1.04v1.04h-1.04zM-1,-1h1.04v1.04h-1.04zM0,-1h1.04v1.04h-1.04zM1,-1h1.04v1.04h-1.04zM4,-1h1.04v1.04h-1.04zM7,-1h1.04v1.04h-1.04zM11,-1h1.04v1.04h-1.04zM12,-1h1.04v1.04h-1.04zM13,-1h1.04v1.04h-1.04zM-2,0h1.04v1.04h-1.04zM-1,0h1.04v1.04h-1.04zM0,0h1.04v1.04h-1.04zM1,0h1.04v1.04h-1.04zM4,0h1.04v1.04h-1.04zM7,0h1.04v1.04h-1.04zM11,0h1.04v1.04h-1.04zM12,0h1.04v1.04h-1.04zM13,0h1.04v1.04h-1.04zM2,1h1.04v1.04h-1.04zM3,1h1.04v1.04h-1.04zM1,2h1.04v1.04h-1.04zM4,6h1.04v1.04h-1.04zM4,7h1.04v1.04h-1.04zM8,8h1.04v1.04h-1.04zM6,9h1.04v1.04h-1.04zM2,10h1.04v1.04h-1.04zM3,10h1.04v1.04h-1.04zM2,11h1.04v1.04h-1.04zM2,12h1.04v1.04h-1.04zM2,13h1.04v1.04h-1.04z"/>
<path fill="#979797" d="M7,5h1.04v1.04h-1.04zM1,9h1.04v1.04h-1.04z"/>
<path fill="#9f9f9f" d="M2,-2h1.04v1.04h-1.04zM2,-1h1.04v1.04h-1.04zM2,0h1.04v1.04h-1.04zM-2,1h1.04v1.04h-1.04zM-1,1h1.04v1.04h-1.04zM0,1h1.04v1.04h-1.04zM1,1h1.04v1.04h-1.04zM9,1h1.04v1.04h-1.04zM7,6h1.04v1.04h-1.04zM10,6h1.04v1.04h-1.04zM5,7h1.04v1.04h-1.04zM1,8h1.04v1.04h-1.04z"/>
<path fill="#a6a6a6" d="M3,-2h1.04v1.04h-1.04zM3,-1h1.04v1.04h-1.04zM3,0h1.04v1.04h-1.04zM4,1h1.04v1.04h-1.04zM-2,3h1.04v1.04h-1.04zM-1,3h1.04v1.04h-1.04zM0,3h1.04v1.04h-1.04zM10,7h1.04v1.04h-1.04z"/>
<path fill="#aeaeae" d="M8,1h1.04v1.04h-1.04zM-2,8h1.04v1.04h-1.04zM-1,8h1.04v1.04h-1.04zM0,8h1.04v1.04h-1.04zM6,8h1.04v1.04h-1.04z"/>
<path fill="#b5b5b5" d="M5,1h1.04v1.04h-1.04zM6,1h1.04v1.04h-1.04zM7,1h1.04v1.04h-1.04zM-2,2h1.04v1.04h-1.04zM-1,2h1.04v1.04h-1.04zM0,2h1.04v1.04h-1.04zM5,4h1.04v1.04h-1.04zM5,6h1.04v1.04h-1.04zM6,6h1.04v1.04h-1.04zM8,6h1.04v1.04h-1.04zM6,7h1.04v1.04h-1.04zM7,8h1.04v1.04h-1.04zM-2,9h1.04v1.04h-1.04zM-1,9h1.04v1.04h-1.04zM0,9h1.04v1.04h-1.04z"/>
<path fill="#bcbcbc" d="M6,4h1.04v1.04h-1.04zM9,6h1.04v1.04h-1.04zM9,7h1.04v1.04h-1.04z"/>
<path fill="#c0c0c0" d="M5,-2h1.04v1.04h-1.04zM5,-1h1.04v1.04h-1.04zM5,0h1.04v1.04h-1.04zM8,7h1.04v1.04h-1.04z"/>
<path fill="#c4c4c4" d="M6,-2h1.04v1.04h-1.04zM6,-1h1.04v1.04h-1.04zM6,0h1.04v1.04h-1.04zM5,5h1.04v1.04h-1.04zM7,7h1.04v1.04h-1.04z"/>
<path fill="#d6d6d6" d="M6,5h1.04v1.04h-1.04z"/>
</g></g>
<g filter="url(#sbsGT)"><g transform="translate(579.40,362.10) scale(0.2370)">
<path d="M0.0,238.0 C20.0,237.0 95.0,228.3 120.0,232.0 C145.0,235.7 146.7,248.7 150.0,260.0 C153.3,271.3 155.0,291.7 140.0,300.0 C125.0,308.3 83.3,309.2 60.0,310.0 C36.7,310.8 10.0,317.0 0.0,305.0 C-10.0,293.0 0.0,249.2 0.0,238.0 Z" fill="#3f3f3f" opacity="0.5"/>
<path d="M135.0,125.0 C145.8,120.8 174.2,105.0 200.0,100.0 C225.8,95.0 265.0,91.7 290.0,95.0 C315.0,98.3 328.3,108.3 350.0,120.0 C371.7,131.7 408.3,157.5 420.0,165.0" fill="none" stroke="#434343" stroke-width="24" stroke-linecap="round" opacity="0.45"/>
<path d="M150.0,72.0 C166.7,69.2 220.0,56.2 250.0,55.0 C280.0,53.8 301.7,58.3 330.0,65.0 C358.3,71.7 405.0,90.0 420.0,95.0" fill="none" stroke="#c4c4c4" stroke-width="22" stroke-linecap="round" opacity="0.45"/>
<ellipse cx="225" cy="18" rx="50" ry="26" fill="#d2d2d2" opacity="0.6" transform="rotate(0 225 18)"/>
<ellipse cx="245" cy="195" rx="45" ry="50" fill="#dbdbdb" opacity="0.7" transform="rotate(0 245 195)"/>
<path d="M178.0,135.0 C175.8,145.8 164.3,177.5 165.0,200.0 C165.7,222.5 179.2,258.3 182.0,270.0" fill="none" stroke="#3f3f3f" stroke-width="20" stroke-linecap="round" opacity="0.55"/>
</g></g>
<g filter="url(#fbsGT)"><g transform="translate(579.40,362.10) scale(0.2370)">
<path d="M325.0,228.0 C335.8,232.5 370.0,239.7 390.0,255.0 C410.0,270.3 435.8,309.2 445.0,320.0" fill="none" stroke="#d2d2d2" stroke-width="22" stroke-linecap="round" opacity="0.42"/>
<path d="M300.0,290.0 C311.7,294.7 349.2,302.2 370.0,318.0 C390.8,333.8 415.8,373.8 425.0,385.0" fill="none" stroke="#d2d2d2" stroke-width="20" stroke-linecap="round" opacity="0.38"/>
<path d="M335.0,190.0 C345.8,192.5 380.8,195.0 400.0,205.0 C419.2,215.0 441.7,242.5 450.0,250.0" fill="none" stroke="#cfcfcf" stroke-width="16" stroke-linecap="round" opacity="0.25"/>
<path d="M335.0,258.0 C344.5,263.7 375.8,276.3 392.0,292.0 C408.2,307.7 425.3,342.0 432.0,352.0" fill="none" stroke="#464646" stroke-width="12" stroke-linecap="round" opacity="0.35"/>
<path d="M304.8,296.1 C301.3,298.4 291.2,305.9 283.6,309.7 C276.0,313.5 267.8,316.6 259.4,318.8 C251.0,321.0 242.0,322.4 233.0,322.7 C224.0,323.0 214.7,322.4 205.6,320.8 C196.5,319.2 183.1,314.3 178.6,313.0" fill="none" stroke="#cfcfcf" stroke-width="3.9" stroke-linecap="round" opacity="0.4"/>
<path d="M280.1,102.6 C283.5,103.6 293.9,106.0 300.5,108.9 C307.1,111.8 313.7,115.5 319.7,119.8 C325.7,124.1 331.5,129.3 336.7,135.0 C341.9,140.7 346.7,147.2 350.6,154.1 C354.5,161.0 358.7,172.7 360.3,176.4" fill="none" stroke="#cfcfcf" stroke-width="3" stroke-linecap="round" opacity="0.29"/>
<path d="M200.1,168.3 C200.8,166.4 202.2,160.8 204.0,157.1 C205.8,153.4 208.0,149.7 210.7,146.4 C213.4,143.1 216.5,139.9 220.1,137.1 C223.7,134.3 227.7,131.7 232.0,129.6 C236.3,127.5 241.0,125.8 245.9,124.7 C250.8,123.6 258.7,123.2 261.3,122.9" fill="none" stroke="#cfcfcf" stroke-width="3.9" stroke-linecap="round" opacity="0.21"/>
<path d="M367.5,193.1 C367.7,197.5 369.3,210.5 368.8,219.3 C368.3,228.1 366.8,237.3 364.3,246.0 C361.9,254.7 358.5,263.5 354.1,271.7 C349.8,279.9 344.4,288.1 338.2,295.4 C332.0,302.7 324.9,309.6 317.1,315.6 C309.3,321.6 295.9,328.8 291.6,331.4" fill="none" stroke="#464646" stroke-width="3.1" stroke-linecap="round" opacity="0.28"/>
<path d="M187.8,195.9 C187.4,193.8 185.7,187.7 185.4,183.3 C185.1,178.9 185.1,174.3 185.8,169.7 C186.5,165.1 187.7,160.4 189.4,155.9 C191.2,151.4 193.5,146.8 196.3,142.6 C199.1,138.4 202.5,134.2 206.4,130.5 C210.3,126.8 214.7,123.4 219.5,120.5 C224.3,117.6 232.5,114.4 235.1,113.2" fill="none" stroke="#cfcfcf" stroke-width="3.6" stroke-linecap="round" opacity="0.4"/>
<path d="M345.8,295.6 C342.3,299.2 332.5,310.9 324.6,317.4 C316.8,323.9 307.9,329.9 298.7,334.7 C289.4,339.5 279.4,343.5 269.1,346.3 C258.8,349.1 242.3,350.7 236.9,351.6" fill="none" stroke="#464646" stroke-width="4.4" stroke-linecap="round" opacity="0.32"/>
<path d="M263.9,240.1 C262.4,241.2 258.2,244.8 254.8,246.6 C251.4,248.4 247.6,250.0 243.7,251.1 C239.8,252.2 235.6,252.9 231.3,253.1 C227.0,253.3 222.5,253.0 218.0,252.2 C213.5,251.4 208.9,250.1 204.5,248.2 C200.1,246.3 193.8,242.2 191.6,241.0" fill="none" stroke="#cfcfcf" stroke-width="6.1" stroke-linecap="round" opacity="0.25"/>
<path d="M381.2,167.9 C382.2,172.7 386.4,187.0 387.5,196.9 C388.6,206.8 388.6,217.2 387.5,227.3 C386.4,237.4 384.2,247.8 380.9,257.7 C377.6,267.6 373.2,277.5 367.8,286.7 C362.4,295.9 355.8,304.9 348.4,313.0 C341.0,321.1 327.6,331.3 323.4,335.0" fill="none" stroke="#464646" stroke-width="5.3" stroke-linecap="round" opacity="0.38"/>
<path d="M313.2,261.1 C311.0,263.7 305.0,272.0 300.0,276.8 C295.0,281.6 289.2,286.1 283.1,289.8 C277.0,293.5 270.2,296.8 263.2,299.2 C256.2,301.6 248.6,303.4 241.0,304.3 C233.4,305.2 225.4,305.4 217.5,304.6 C209.6,303.8 197.7,300.5 193.7,299.7" fill="none" stroke="#cfcfcf" stroke-width="6.7" stroke-linecap="round" opacity="0.42"/>
<path d="M174.7,239.8 C172.8,237.4 166.8,230.7 163.6,225.5 C160.4,220.3 157.6,214.5 155.5,208.5 C153.4,202.5 151.8,195.9 151.0,189.3 C150.2,182.7 150.8,172.3 150.8,168.9" fill="none" stroke="#cfcfcf" stroke-width="7" stroke-linecap="round" opacity="0.3"/>
<path d="M299.0,204.2 C299.1,206.3 299.7,212.4 299.3,216.6 C298.9,220.8 298.0,225.2 296.6,229.4 C295.2,233.6 293.2,237.9 290.8,241.9 C288.4,245.9 285.4,249.9 282.0,253.5 C278.6,257.1 274.6,260.4 270.3,263.3 C266.0,266.2 258.5,269.4 256.1,270.6" fill="none" stroke="#464646" stroke-width="5" stroke-linecap="round" opacity="0.32"/>
<path d="M127.6,156.5 C128.8,152.3 131.7,139.3 135.1,131.1 C138.5,122.9 142.9,114.7 148.1,107.2 C153.3,99.7 163.3,89.6 166.3,86.1" fill="none" stroke="#464646" stroke-width="5.2" stroke-linecap="round" opacity="0.36"/>
<path d="M271.5,252.0 C269.6,253.3 264.1,257.6 259.9,259.8 C255.7,262.0 251.0,263.8 246.2,265.0 C241.4,266.2 236.1,267.1 230.9,267.3 C225.7,267.5 217.5,266.3 214.8,266.1" fill="none" stroke="#464646" stroke-width="4.4" stroke-linecap="round" opacity="0.35"/>
<path d="M225.6,247.3 C223.5,247.0 217.3,246.4 213.2,245.2 C209.1,244.0 202.9,240.9 200.9,240.1" fill="none" stroke="#464646" stroke-width="6.1" stroke-linecap="round" opacity="0.29"/>
<path d="M197.8,89.1 C201.5,87.2 212.3,80.9 220.2,78.0 C228.1,75.1 236.5,73.0 245.0,71.8 C253.5,70.6 262.6,70.3 271.4,71.0 C280.2,71.7 289.3,73.3 298.0,75.9 C306.7,78.5 315.6,82.1 323.8,86.6 C332.0,91.1 343.3,100.3 347.2,103.0" fill="none" stroke="#464646" stroke-width="4.6" stroke-linecap="round" opacity="0.45"/>
<path d="M348.9,169.3 C350.0,173.0 354.1,183.8 355.5,191.4 C356.9,199.0 357.6,207.1 357.4,215.1 C357.2,223.1 356.1,231.3 354.1,239.3 C352.1,247.3 349.2,255.5 345.5,263.1 C341.8,270.7 337.1,278.2 331.7,285.1 C326.3,292.0 316.0,301.0 312.9,304.2" fill="none" stroke="#cfcfcf" stroke-width="4.5" stroke-linecap="round" opacity="0.26"/>
<path d="M289.2,151.4 C291.1,152.8 296.9,156.4 300.3,159.6 C303.7,162.8 308.2,168.8 309.8,170.7" fill="none" stroke="#464646" stroke-width="6.1" stroke-linecap="round" opacity="0.32"/>
<path d="M271.2,151.9 C273.0,152.5 278.6,154.0 282.1,155.7 C285.6,157.4 289.2,159.6 292.4,162.2 C295.6,164.8 300.0,169.9 301.5,171.4" fill="none" stroke="#cfcfcf" stroke-width="4.7" stroke-linecap="round" opacity="0.24"/>
<path d="M318.0,229.0 C317.0,231.8 314.8,240.2 312.2,245.6 C309.6,251.0 306.3,256.3 302.5,261.2 C298.7,266.1 294.3,270.8 289.3,274.9 C284.3,279.0 278.6,282.8 272.7,285.8 C266.8,288.8 260.3,291.4 253.6,293.1 C246.9,294.9 236.1,295.8 232.6,296.3" fill="none" stroke="#464646" stroke-width="6" stroke-linecap="round" opacity="0.32"/>
<path d="M243.0,340.7 C237.8,340.7 222.2,341.8 211.9,340.6 C201.6,339.5 191.0,337.2 180.9,333.8 C170.8,330.4 160.7,325.9 151.3,320.3 C141.9,314.8 132.8,308.1 124.6,300.5 C116.4,292.9 105.8,279.2 102.1,274.9" fill="none" stroke="#464646" stroke-width="3.1" stroke-linecap="round" opacity="0.25"/>
<path d="M312.7,85.8 C316.6,88.1 329.0,94.1 336.4,99.6 C343.8,105.1 350.9,111.6 357.2,118.7 C363.4,125.8 369.2,133.8 373.9,142.3 C378.6,150.8 382.7,160.1 385.6,169.6 C388.5,179.1 390.5,189.3 391.4,199.5 C392.3,209.7 390.9,225.5 390.8,230.7" fill="none" stroke="#464646" stroke-width="4.7" stroke-linecap="round" opacity="0.35"/>
<path d="M290.2,132.2 C292.6,133.6 300.3,137.2 304.9,140.6 C309.5,144.0 314.0,147.9 318.0,152.4 C322.0,156.9 325.7,162.0 328.7,167.4 C331.7,172.8 334.3,178.8 336.2,185.0 C338.1,191.2 339.3,201.3 339.9,204.6" fill="none" stroke="#cfcfcf" stroke-width="6.1" stroke-linecap="round" opacity="0.2"/>
<path d="M187.6,61.7 C192.3,59.6 206.0,52.3 215.9,49.1 C225.8,45.9 241.7,43.7 246.9,42.6" fill="none" stroke="#464646" stroke-width="5.6" stroke-linecap="round" opacity="0.41"/>
<path d="M182.9,158.6 C183.9,156.2 186.4,148.8 189.1,144.1 C191.8,139.4 195.1,134.8 198.9,130.6 C202.7,126.4 207.0,122.5 211.8,119.1 C216.6,115.7 225.0,111.9 227.6,110.4" fill="none" stroke="#464646" stroke-width="6.6" stroke-linecap="round" opacity="0.23"/>
<path d="M290.4,225.8 C289.6,227.7 287.6,233.5 285.5,237.2 C283.4,240.8 279.1,245.9 277.8,247.7" fill="none" stroke="#cfcfcf" stroke-width="3.6" stroke-linecap="round" opacity="0.42"/>
<path d="M212.3,146.7 C213.9,145.2 218.2,140.4 221.7,137.7 C225.2,135.0 229.2,132.4 233.5,130.5 C237.8,128.6 242.5,127.0 247.3,126.0 C252.1,125.0 257.3,124.3 262.5,124.4 C267.7,124.5 275.7,126.1 278.3,126.4" fill="none" stroke="#cfcfcf" stroke-width="5" stroke-linecap="round" opacity="0.25"/>
<ellipse cx="247" cy="191" rx="4.5" ry="4.5" fill="#555555" opacity="0.9" transform="rotate(0 247 191)"/>
</g></g>
<g mask="url(#mksGT)" opacity="0.3"><g transform="rotate(-38 636.1 418.9)"><rect x="551.0" y="333.7" width="170.2" height="170.4" filter="url(#sksGT)"/></g></g></g>
<g filter="url(#pbsGT)"><g transform="translate(579.40,362.10) scale(0.2370)">
<path d="M-20.0,-20.0 C12.5,-20.0 146.7,-33.3 175.0,-20.0 C203.3,-6.7 157.8,38.3 150.0,60.0 C142.2,81.7 128.3,93.3 128.0,110.0 C127.7,126.7 148.5,140.8 148.0,160.0 C147.5,179.2 153.0,213.0 125.0,225.0 C97.0,237.0 4.2,272.8 -20.0,232.0 C-44.2,191.2 -20.0,22.0 -20.0,-20.0 Z" fill="#767676" opacity="0.55"/>
<path d="M310.0,-20.0 C341.7,-20.0 468.3,-35.8 500.0,-20.0 C531.7,-4.2 513.3,61.3 500.0,75.0 C486.7,88.7 446.7,68.2 420.0,62.0 C393.3,55.8 358.3,51.7 340.0,38.0 C321.7,24.3 315.0,-10.3 310.0,-20.0 Z" fill="#828282" opacity="0.45"/>
</g></g>
</g>
<g clip-path="url(#cplGT)">
<g filter="url(#txlGT)"><g filter="url(#bllGT)"><g transform="translate(704.00,361.80) scale(9.7500,9.6500)">
<rect x="-3" y="-3" width="18" height="18" fill="#808080"/>
<path fill="#464646" d="M-2,4h1.04v1.04h-1.04zM-1,4h1.04v1.04h-1.04zM0,4h1.04v1.04h-1.04zM-2,5h1.04v1.04h-1.04zM-1,5h1.04v1.04h-1.04zM0,5h1.04v1.04h-1.04zM1,5h1.04v1.04h-1.04z"/>
<path fill="#4d4d4d" d="M1,4h1.04v1.04h-1.04zM2,6h1.04v1.04h-1.04z"/>
<path fill="#505050" d="M9,1h1.04v1.04h-1.04zM10,2h1.04v1.04h-1.04z"/>
<path fill="#535353" d="M-2,-2h1.04v1.04h-1.04zM-1,-2h1.04v1.04h-1.04zM0,-2h1.04v1.04h-1.04zM8,-2h1.04v1.04h-1.04zM9,-2h1.04v1.04h-1.04zM-2,-1h1.04v1.04h-1.04zM-1,-1h1.04v1.04h-1.04zM0,-1h1.04v1.04h-1.04zM8,-1h1.04v1.04h-1.04zM9,-1h1.04v1.04h-1.04zM-2,0h1.04v1.04h-1.04zM-1,0h1.04v1.04h-1.04zM0,0h1.04v1.04h-1.04zM8,0h1.04v1.04h-1.04zM9,0h1.04v1.04h-1.04zM-2,1h1.04v1.04h-1.04zM-1,1h1.04v1.04h-1.04zM0,1h1.04v1.04h-1.04zM8,1h1.04v1.04h-1.04zM10,1h1.04v1.04h-1.04zM9,2h1.04v1.04h-1.04zM11,2h1.04v1.04h-1.04zM12,2h1.04v1.04h-1.04zM13,2h1.04v1.04h-1.04zM-2,3h1.04v1.04h-1.04zM-1,3h1.04v1.04h-1.04zM0,3h1.04v1.04h-1.04zM11,3h1.04v1.04h-1.04zM12,3h1.04v1.04h-1.04zM13,3h1.04v1.04h-1.04zM2,5h1.04v1.04h-1.04zM1,6h1.04v1.04h-1.04zM3,6h1.04v1.04h-1.04z"/>
<path fill="#5a5a5a" d="M7,-2h1.04v1.04h-1.04zM10,-2h1.04v1.04h-1.04zM7,-1h1.04v1.04h-1.04zM10,-1h1.04v1.04h-1.04zM7,0h1.04v1.04h-1.04zM10,0h1.04v1.04h-1.04zM11,1h1.04v1.04h-1.04zM12,1h1.04v1.04h-1.04zM13,1h1.04v1.04h-1.04zM-2,2h1.04v1.04h-1.04zM-1,2h1.04v1.04h-1.04zM0,2h1.04v1.04h-1.04zM10,3h1.04v1.04h-1.04zM2,7h1.04v1.04h-1.04z"/>
<path fill="#606060" d="M11,-2h1.04v1.04h-1.04zM12,-2h1.04v1.04h-1.04zM13,-2h1.04v1.04h-1.04zM11,-1h1.04v1.04h-1.04zM12,-1h1.04v1.04h-1.04zM13,-1h1.04v1.04h-1.04zM11,0h1.04v1.04h-1.04zM12,0h1.04v1.04h-1.04zM13,0h1.04v1.04h-1.04zM2,4h1.04v1.04h-1.04zM11,4h1.04v1.04h-1.04zM12,4h1.04v1.04h-1.04zM13,4h1.04v1.04h-1.04zM3,7h1.04v1.04h-1.04z"/>
<path fill="#676767" d="M7,1h1.04v1.04h-1.04zM8,2h1.04v1.04h-1.04zM1,3h1.04v1.04h-1.04zM9,3h1.04v1.04h-1.04zM-2,6h1.04v1.04h-1.04zM-1,6h1.04v1.04h-1.04zM0,6h1.04v1.04h-1.04z"/>
<path fill="#6d6d6d" d="M10,4h1.04v1.04h-1.04zM11,5h1.04v1.04h-1.04zM12,5h1.04v1.04h-1.04zM13,5h1.04v1.04h-1.04zM1,7h1.04v1.04h-1.04z"/>
<path fill="#747474" d="M1,-2h1.04v1.04h-1.04zM1,-1h1.04v1.04h-1.04zM1,0h1.04v1.04h-1.04z"/>
<path fill="#7b7b7b" d="M10,5h1.04v1.04h-1.04zM-2,7h1.04v1.04h-1.04zM-1,7h1.04v1.04h-1.04zM0,7h1.04v1.04h-1.04z"/>
<path fill="#818181" d="M6,-2h1.04v1.04h-1.04zM6,-1h1.04v1.04h-1.04zM6,0h1.04v1.04h-1.04zM3,5h1.04v1.04h-1.04zM10,6h1.04v1.04h-1.04zM11,7h1.04v1.04h-1.04zM12,7h1.04v1.04h-1.04zM13,7h1.04v1.04h-1.04zM9,9h1.04v1.04h-1.04zM8,10h1.04v1.04h-1.04z"/>
<path fill="#888888" d="M7,2h1.04v1.04h-1.04zM2,3h1.04v1.04h-1.04zM9,4h1.04v1.04h-1.04zM11,6h1.04v1.04h-1.04zM12,6h1.04v1.04h-1.04zM13,6h1.04v1.04h-1.04zM10,7h1.04v1.04h-1.04zM8,11h1.04v1.04h-1.04zM8,12h1.04v1.04h-1.04zM8,13h1.04v1.04h-1.04z"/>
<path fill="#8b8b8b" d="M-2,9h1.04v1.04h-1.04zM-1,9h1.04v1.04h-1.04zM0,9h1.04v1.04h-1.04z"/>
<path fill="#8e8e8e" d="M1,1h1.04v1.04h-1.04zM6,1h1.04v1.04h-1.04zM1,2h1.04v1.04h-1.04zM8,3h1.04v1.04h-1.04zM9,6h1.04v1.04h-1.04zM9,7h1.04v1.04h-1.04zM9,8h1.04v1.04h-1.04z"/>
<path fill="#929292" d="M1,9h1.04v1.04h-1.04z"/>
<path fill="#959595" d="M5,2h1.04v1.04h-1.04zM6,2h1.04v1.04h-1.04zM9,5h1.04v1.04h-1.04zM10,8h1.04v1.04h-1.04zM7,11h1.04v1.04h-1.04zM7,12h1.04v1.04h-1.04zM7,13h1.04v1.04h-1.04z"/>
<path fill="#989898" d="M2,9h1.04v1.04h-1.04zM3,9h1.04v1.04h-1.04z"/>
<path fill="#9b9b9b" d="M2,-2h1.04v1.04h-1.04zM2,-1h1.04v1.04h-1.04zM2,0h1.04v1.04h-1.04zM3,4h1.04v1.04h-1.04zM4,6h1.04v1.04h-1.04zM8,9h1.04v1.04h-1.04zM9,10h1.04v1.04h-1.04z"/>
<path fill="#9f9f9f" d="M7,10h1.04v1.04h-1.04z"/>
<path fill="#a2a2a2" d="M5,1h1.04v1.04h-1.04zM4,3h1.04v1.04h-1.04z"/>
<path fill="#a5a5a5" d="M-2,8h1.04v1.04h-1.04zM-1,8h1.04v1.04h-1.04zM0,8h1.04v1.04h-1.04zM1,8h1.04v1.04h-1.04zM2,8h1.04v1.04h-1.04zM4,9h1.04v1.04h-1.04zM-2,10h1.04v1.04h-1.04zM-1,10h1.04v1.04h-1.04zM0,10h1.04v1.04h-1.04zM4,11h1.04v1.04h-1.04zM4,12h1.04v1.04h-1.04zM4,13h1.04v1.04h-1.04z"/>
<path fill="#a9a9a9" d="M4,2h1.04v1.04h-1.04z"/>
<path fill="#acacac" d="M5,9h1.04v1.04h-1.04z"/>
<path fill="#afafaf" d="M3,-2h1.04v1.04h-1.04zM5,-2h1.04v1.04h-1.04zM3,-1h1.04v1.04h-1.04zM5,-1h1.04v1.04h-1.04zM3,0h1.04v1.04h-1.04zM5,0h1.04v1.04h-1.04zM2,2h1.04v1.04h-1.04zM3,3h1.04v1.04h-1.04zM5,3h1.04v1.04h-1.04zM7,3h1.04v1.04h-1.04zM4,7h1.04v1.04h-1.04zM3,8h1.04v1.04h-1.04zM11,8h1.04v1.04h-1.04zM12,8h1.04v1.04h-1.04zM13,8h1.04v1.04h-1.04zM6,9h1.04v1.04h-1.04zM1,10h1.04v1.04h-1.04zM-2,11h1.04v1.04h-1.04zM-1,11h1.04v1.04h-1.04zM0,11h1.04v1.04h-1.04zM5,11h1.04v1.04h-1.04zM9,11h1.04v1.04h-1.04zM-2,12h1.04v1.04h-1.04zM-1,12h1.04v1.04h-1.04zM0,12h1.04v1.04h-1.04zM5,12h1.04v1.04h-1.04zM9,12h1.04v1.04h-1.04zM-2,13h1.04v1.04h-1.04zM-1,13h1.04v1.04h-1.04zM0,13h1.04v1.04h-1.04zM5,13h1.04v1.04h-1.04zM9,13h1.04v1.04h-1.04z"/>
<path fill="#b2b2b2" d="M4,1h1.04v1.04h-1.04zM7,9h1.04v1.04h-1.04zM3,10h1.04v1.04h-1.04zM4,10h1.04v1.04h-1.04zM6,11h1.04v1.04h-1.04zM6,12h1.04v1.04h-1.04zM6,13h1.04v1.04h-1.04z"/>
<path fill="#b6b6b6" d="M4,-2h1.04v1.04h-1.04zM4,-1h1.04v1.04h-1.04zM4,0h1.04v1.04h-1.04zM2,1h1.04v1.04h-1.04zM6,3h1.04v1.04h-1.04zM4,4h1.04v1.04h-1.04zM8,4h1.04v1.04h-1.04zM7,8h1.04v1.04h-1.04zM2,10h1.04v1.04h-1.04zM5,10h1.04v1.04h-1.04zM1,11h1.04v1.04h-1.04zM3,11h1.04v1.04h-1.04zM1,12h1.04v1.04h-1.04zM3,12h1.04v1.04h-1.04zM1,13h1.04v1.04h-1.04zM3,13h1.04v1.04h-1.04z"/>
<path fill="#b9b9b9" d="M3,1h1.04v1.04h-1.04zM6,10h1.04v1.04h-1.04z"/>
<path fill="#bcbcbc" d="M3,2h1.04v1.04h-1.04zM4,5h1.04v1.04h-1.04zM8,8h1.04v1.04h-1.04zM10,9h1.04v1.04h-1.04zM2,11h1.04v1.04h-1.04zM2,12h1.04v1.04h-1.04zM2,13h1.04v1.04h-1.04z"/>
<path fill="#c0c0c0" d="M4,8h1.04v1.04h-1.04zM6,8h1.04v1.04h-1.04z"/>
<path fill="#c3c3c3" d="M8,7h1.04v1.04h-1.04z"/>
<path fill="#c6c6c6" d="M8,5h1.04v1.04h-1.04z"/>
<path fill="#cacaca" d="M8,6h1.04v1.04h-1.04zM5,8h1.04v1.04h-1.04z"/>
<path fill="#cdcdcd" d="M5,4h1.04v1.04h-1.04zM6,4h1.04v1.04h-1.04zM7,4h1.04v1.04h-1.04z"/>
<path fill="#d0d0d0" d="M5,5h1.04v1.04h-1.04zM6,5h1.04v1.04h-1.04zM7,5h1.04v1.04h-1.04zM5,6h1.04v1.04h-1.04zM6,6h1.04v1.04h-1.04zM7,6h1.04v1.04h-1.04zM5,7h1.04v1.04h-1.04zM6,7h1.04v1.04h-1.04zM7,7h1.04v1.04h-1.04zM11,9h1.04v1.04h-1.04zM12,9h1.04v1.04h-1.04zM13,9h1.04v1.04h-1.04zM10,10h1.04v1.04h-1.04zM11,10h1.04v1.04h-1.04zM12,10h1.04v1.04h-1.04zM13,10h1.04v1.04h-1.04zM10,11h1.04v1.04h-1.04zM11,11h1.04v1.04h-1.04zM12,11h1.04v1.04h-1.04zM13,11h1.04v1.04h-1.04zM10,12h1.04v1.04h-1.04zM11,12h1.04v1.04h-1.04zM12,12h1.04v1.04h-1.04zM13,12h1.04v1.04h-1.04zM10,13h1.04v1.04h-1.04zM11,13h1.04v1.04h-1.04zM12,13h1.04v1.04h-1.04zM13,13h1.04v1.04h-1.04z"/>
</g></g>
<g filter="url(#sblGT)"><g transform="translate(703.00,359.00) scale(0.2505)">
<path d="M25.0,175.0 C36.7,172.5 75.8,156.7 95.0,160.0 C114.2,163.3 130.8,179.2 140.0,195.0 C149.2,210.8 154.2,237.5 150.0,255.0 C145.8,272.5 134.2,293.3 115.0,300.0 C95.8,306.7 50.0,315.8 35.0,295.0 C20.0,274.2 26.7,195.0 25.0,175.0 Z" fill="#252525" opacity="0.4"/>
<ellipse cx="140" cy="65" rx="78" ry="45" fill="#d0d0d0" opacity="0.5" transform="rotate(0 140 65)"/>
<ellipse cx="190" cy="128" rx="48" ry="36" fill="#cacaca" opacity="0.4" transform="rotate(0 190 128)"/>
<path d="M60.0,350.0 C76.7,349.2 128.3,347.5 160.0,345.0 C191.7,342.5 235.0,336.7 250.0,335.0" fill="none" stroke="#c6c6c6" stroke-width="40" stroke-linecap="round" opacity="0.35"/>
<path d="M260.0,15.0 C295.0,15.0 435.0,-20.8 470.0,15.0 C505.0,50.8 475.0,204.2 470.0,230.0 C465.0,255.8 453.3,188.3 440.0,170.0 C426.7,151.7 410.0,134.2 390.0,120.0 C370.0,105.8 341.7,102.5 320.0,85.0 C298.3,67.5 270.0,26.7 260.0,15.0 Z" fill="#4d4d4d" opacity="0.4"/>
<ellipse cx="262" cy="236" rx="108" ry="103" fill="#ffffff" opacity="0.75" transform="rotate(0 262 236)"/>
<path d="M410.0,340.0 C420.8,336.7 464.2,297.5 475.0,320.0 C485.8,342.5 490.8,449.2 475.0,475.0 C459.2,500.8 394.2,487.5 380.0,475.0 C365.8,462.5 385.0,422.5 390.0,400.0 C395.0,377.5 406.7,350.0 410.0,340.0 Z" fill="#fefefe" opacity="0.7"/>
</g></g>
<g filter="url(#fblGT)"><g transform="translate(703.00,359.00) scale(0.2505)">
<path d="M100.0,50.0 C111.7,51.7 150.0,58.3 170.0,60.0 C190.0,61.7 211.7,60.0 220.0,60.0" fill="none" stroke="#c6c6c6" stroke-width="22" stroke-linecap="round" opacity="0.4"/>
<path d="M230.0,85.0 C243.3,87.5 285.0,89.2 310.0,100.0 C335.0,110.8 361.7,128.3 380.0,150.0 C398.3,171.7 412.5,203.3 420.0,230.0 C427.5,256.7 424.2,296.7 425.0,310.0" fill="none" stroke="#afafaf" stroke-width="14" stroke-linecap="round" opacity="0.4"/>
<path d="M200.0,140.0 C195.0,150.0 175.0,178.3 170.0,200.0 C165.0,221.7 165.0,250.0 170.0,270.0 C175.0,290.0 195.0,311.7 200.0,320.0" fill="none" stroke="#676767" stroke-width="7" stroke-linecap="round" opacity="0.5"/>
<path d="M280.0,110.0 C291.7,115.0 330.8,125.0 350.0,140.0 C369.2,155.0 385.8,178.3 395.0,200.0 C404.2,221.7 403.3,258.3 405.0,270.0" fill="none" stroke="#6d6d6d" stroke-width="6" stroke-linecap="round" opacity="0.5"/>
<path d="M20.0,385.0 C41.7,387.5 103.3,400.0 150.0,400.0 C196.7,400.0 255.0,396.7 300.0,385.0 C345.0,373.3 395.0,350.8 420.0,330.0 C445.0,309.2 445.0,271.7 450.0,260.0" fill="none" stroke="#606060" stroke-width="7" stroke-linecap="round" opacity="0.5"/>
<path d="M330.0,470.0 C335.0,461.7 345.0,438.3 360.0,420.0 C375.0,401.7 410.0,370.0 420.0,360.0" fill="none" stroke="#747474" stroke-width="6" stroke-linecap="round" opacity="0.5"/>
<path d="M76.0,290.2 C74.1,283.9 66.9,265.3 64.4,252.2 C61.9,239.1 60.8,225.3 61.1,211.7 C61.5,198.1 63.2,184.1 66.5,170.6 C69.8,157.1 74.5,143.6 80.6,130.8 C86.7,118.1 94.3,105.5 103.1,94.1 C111.9,82.7 128.4,67.7 133.5,62.4" fill="none" stroke="#c6c6c6" stroke-width="5.5" stroke-linecap="round" opacity="0.35"/>
<path d="M326.6,399.6 C320.8,402.1 303.8,410.9 291.6,414.7 C279.4,418.5 266.4,421.2 253.4,422.4 C240.4,423.6 226.9,423.4 213.7,421.8 C200.5,420.2 180.7,414.3 174.1,412.8" fill="none" stroke="#4d4d4d" stroke-width="3.5" stroke-linecap="round" opacity="0.28"/>
<path d="M447.5,358.3 C443.0,365.0 430.9,386.0 420.5,398.4 C410.1,410.8 398.1,422.4 385.1,432.5 C372.1,442.6 357.7,451.7 342.6,459.0 C327.5,466.3 311.2,472.2 294.7,476.2 C278.2,480.2 252.1,482.0 243.6,483.1" fill="none" stroke="#c6c6c6" stroke-width="7.9" stroke-linecap="round" opacity="0.44"/>
<path d="M143.4,73.2 C149.2,69.3 165.7,56.4 178.0,49.9 C190.3,43.4 210.8,36.6 217.4,34.0" fill="none" stroke="#c6c6c6" stroke-width="5.6" stroke-linecap="round" opacity="0.21"/>
<path d="M304.5,360.5 C300.1,362.4 287.3,369.1 278.0,372.0 C268.7,374.9 253.7,376.8 248.8,377.7" fill="none" stroke="#c6c6c6" stroke-width="5.2" stroke-linecap="round" opacity="0.41"/>
<path d="M55.8,210.9 C56.7,203.9 58.0,182.6 61.4,168.8 C64.8,155.0 69.7,141.0 76.0,127.9 C82.3,114.8 90.2,102.1 99.3,90.4 C108.4,78.7 125.3,63.3 130.5,57.9" fill="none" stroke="#4d4d4d" stroke-width="5.3" stroke-linecap="round" opacity="0.27"/>
<path d="M514.3,231.2 C514.1,240.3 515.6,267.8 513.3,285.9 C511.0,304.0 506.8,322.6 500.7,340.1 C494.6,357.6 486.5,375.0 476.7,391.1 C466.9,407.2 455.2,422.8 442.1,436.7 C429.0,450.6 405.4,468.3 398.1,474.6" fill="none" stroke="#4d4d4d" stroke-width="4.6" stroke-linecap="round" opacity="0.26"/>
<path d="M229.1,338.4 C225.3,337.7 213.8,336.5 206.4,334.3 C199.0,332.1 191.4,329.1 184.4,325.2 C177.4,321.3 170.5,316.6 164.2,311.1 C157.9,305.6 151.9,299.3 146.8,292.4 C141.7,285.5 135.7,273.5 133.5,269.7" fill="none" stroke="#c6c6c6" stroke-width="7.2" stroke-linecap="round" opacity="0.3"/>
<path d="M481.7,173.8 C483.6,181.9 491.2,205.7 493.4,222.1 C495.6,238.5 494.6,264.1 494.8,272.5" fill="none" stroke="#c6c6c6" stroke-width="7.6" stroke-linecap="round" opacity="0.32"/>
<path d="M414.4,215.2 C415.1,220.8 418.6,237.6 418.9,249.1 C419.2,260.6 416.6,278.3 416.2,284.1" fill="none" stroke="#4d4d4d" stroke-width="6.9" stroke-linecap="round" opacity="0.27"/>
<path d="M383.0,313.0 C380.3,317.6 373.2,332.0 366.8,340.6 C360.4,349.2 353.0,357.5 344.7,364.8 C336.4,372.1 327.0,378.8 317.2,384.3 C307.4,389.8 296.7,394.5 285.6,397.9 C274.6,401.3 262.7,403.6 250.9,404.6 C239.1,405.6 220.8,404.0 214.8,403.9" fill="none" stroke="#4d4d4d" stroke-width="3.6" stroke-linecap="round" opacity="0.26"/>
<path d="M339.4,297.2 C337.4,300.4 332.1,310.4 327.3,316.4 C322.5,322.4 317.0,328.1 310.8,333.1 C304.6,338.1 297.7,342.6 290.4,346.3 C283.1,350.0 275.0,353.0 266.8,355.1 C258.6,357.2 245.5,358.3 241.2,358.9" fill="none" stroke="#c6c6c6" stroke-width="5.8" stroke-linecap="round" opacity="0.31"/>
<path d="M333.6,436.0 C326.5,438.6 305.5,448.1 290.7,451.8 C275.9,455.5 252.4,457.3 244.7,458.4" fill="none" stroke="#4d4d4d" stroke-width="3.6" stroke-linecap="round" opacity="0.31"/>
<path d="M287.3,370.7 C282.5,372.0 268.3,376.9 258.4,378.4 C248.5,379.9 238.1,380.5 227.8,379.9 C217.5,379.3 206.9,377.5 196.7,374.7 C186.5,371.9 176.3,367.9 166.7,362.8 C157.1,357.8 147.7,351.5 139.2,344.4 C130.7,337.3 119.5,324.1 115.6,320.0" fill="none" stroke="#4d4d4d" stroke-width="4.5" stroke-linecap="round" opacity="0.42"/>
<path d="M294.1,390.2 C288.6,391.6 272.4,397.2 261.1,398.9 C249.8,400.6 237.9,401.2 226.2,400.5 C214.5,399.8 202.5,397.8 191.0,394.6 C179.5,391.4 167.8,386.8 157.0,381.1 C146.2,375.4 131.1,363.8 125.9,360.3" fill="none" stroke="#4d4d4d" stroke-width="3.5" stroke-linecap="round" opacity="0.45"/>
<path d="M286.5,369.0 C281.8,370.2 267.8,375.0 258.0,376.5 C248.2,378.0 238.0,378.6 227.8,378.0 C217.7,377.4 207.2,375.6 197.1,372.8 C187.0,370.0 177.0,366.1 167.5,361.1 C158.0,356.1 144.8,345.9 140.3,342.8" fill="none" stroke="#c6c6c6" stroke-width="4.5" stroke-linecap="round" opacity="0.22"/>
<path d="M416.3,337.5 C412.6,343.2 402.9,361.0 394.3,371.6 C385.8,382.2 375.8,392.2 365.0,400.9 C354.2,409.6 335.5,420.0 329.6,423.8" fill="none" stroke="#4d4d4d" stroke-width="4.9" stroke-linecap="round" opacity="0.31"/>
<path d="M424.1,190.6 C425.7,196.6 431.7,214.2 433.6,226.5 C435.5,238.8 436.1,251.8 435.3,264.5 C434.5,277.2 432.5,290.3 429.0,302.8 C425.5,315.3 416.8,333.5 414.4,339.6" fill="none" stroke="#4d4d4d" stroke-width="3.9" stroke-linecap="round" opacity="0.24"/>
<path d="M447.9,109.9 C452.1,116.8 466.4,136.6 473.4,151.3 C480.4,166.0 486.0,181.8 489.9,197.9 C493.8,214.0 495.4,239.5 496.5,247.8" fill="none" stroke="#c6c6c6" stroke-width="6.7" stroke-linecap="round" opacity="0.44"/>
<path d="M337.9,472.7 C329.4,475.4 304.6,485.2 287.2,488.7 C269.8,492.2 251.4,494.0 233.4,493.8 C215.4,493.6 196.8,491.4 178.9,487.4 C161.0,483.4 143.1,477.4 126.2,469.6 C109.3,461.8 92.7,452.0 77.6,440.7 C62.5,429.4 42.6,408.2 35.6,401.7" fill="none" stroke="#4d4d4d" stroke-width="5.1" stroke-linecap="round" opacity="0.23"/>
<path d="M501.4,296.1 C499.0,304.7 493.4,331.1 486.8,347.7 C480.2,364.3 471.6,380.8 461.5,395.9 C451.4,411.0 431.9,431.2 426.0,438.3" fill="none" stroke="#4d4d4d" stroke-width="4.3" stroke-linecap="round" opacity="0.41"/>
<path d="M137.1,153.3 C139.9,149.0 147.4,135.6 154.0,127.7 C160.6,119.8 172.7,109.4 176.4,105.7" fill="none" stroke="#4d4d4d" stroke-width="3.3" stroke-linecap="round" opacity="0.26"/>
<path d="M35.6,149.1 C38.8,141.4 46.8,117.8 54.9,103.2 C63.0,88.6 72.8,74.5 83.9,61.7 C95.0,48.9 107.8,36.9 121.5,26.5 C135.2,16.1 158.9,4.1 166.4,-0.4" fill="none" stroke="#c6c6c6" stroke-width="7.6" stroke-linecap="round" opacity="0.25"/>
<path d="M393.7,249.5 C393.3,254.4 393.2,269.3 391.4,279.2 C389.5,289.1 386.6,299.1 382.6,308.6 C378.6,318.1 373.6,327.5 367.5,336.2 C361.4,344.9 349.8,356.5 346.3,360.6" fill="none" stroke="#c6c6c6" stroke-width="3.9" stroke-linecap="round" opacity="0.29"/>
<path d="M150.1,183.9 C151.7,180.0 155.8,168.1 159.9,160.7 C164.0,153.3 169.1,146.1 174.9,139.6 C180.7,133.1 191.3,124.5 194.6,121.5" fill="none" stroke="#4d4d4d" stroke-width="7.9" stroke-linecap="round" opacity="0.36"/>
<path d="M185.9,56.5 C192.2,54.1 210.7,45.5 223.9,42.1 C237.1,38.7 258.1,36.9 264.9,35.9" fill="none" stroke="#c6c6c6" stroke-width="3.1" stroke-linecap="round" opacity="0.43"/>
<path d="M178.0,-6.9 C186.6,-9.4 211.9,-18.6 229.6,-21.6 C247.2,-24.7 274.8,-24.6 283.9,-25.2" fill="none" stroke="#4d4d4d" stroke-width="5.4" stroke-linecap="round" opacity="0.38"/>
<path d="M146.0,470.9 C137.8,466.8 112.3,456.2 96.9,446.3 C81.5,436.4 60.7,417.2 53.5,411.4" fill="none" stroke="#4d4d4d" stroke-width="6.7" stroke-linecap="round" opacity="0.43"/>
<path d="M237.9,24.6 C245.3,24.1 267.6,21.1 282.5,21.7 C297.4,22.3 312.9,24.5 327.6,28.3 C342.4,32.1 357.1,37.6 371.0,44.6 C384.9,51.6 398.5,60.1 410.8,70.0 C423.1,79.8 439.3,98.1 445.0,103.7" fill="none" stroke="#4d4d4d" stroke-width="4.8" stroke-linecap="round" opacity="0.37"/>
<path d="M448.9,95.7 C453.6,102.7 469.3,122.6 477.2,137.5 C485.1,152.4 491.8,168.5 496.5,185.0 C501.2,201.5 504.1,227.8 505.6,236.3" fill="none" stroke="#4d4d4d" stroke-width="7.3" stroke-linecap="round" opacity="0.34"/>
<path d="M143.2,123.2 C147.1,119.2 158.0,106.3 166.7,99.1 C175.4,91.9 185.2,85.3 195.5,80.0 C205.8,74.7 217.0,70.2 228.4,67.1 C239.8,64.0 258.2,62.3 264.1,61.3" fill="none" stroke="#4d4d4d" stroke-width="3.4" stroke-linecap="round" opacity="0.36"/>
<path d="M495.0,224.9 C495.1,233.4 497.2,258.8 495.7,275.7 C494.1,292.6 490.8,309.8 485.7,326.3 C480.6,342.8 473.5,359.2 464.9,374.5 C456.3,389.8 445.9,404.6 434.1,417.9 C422.3,431.2 400.9,448.4 394.3,454.5" fill="none" stroke="#c6c6c6" stroke-width="6.7" stroke-linecap="round" opacity="0.35"/>
<path d="M37.8,320.2 C35.0,312.5 24.9,289.8 20.9,273.8 C16.9,257.8 15.2,232.4 14.0,224.1" fill="none" stroke="#4d4d4d" stroke-width="3.1" stroke-linecap="round" opacity="0.35"/>
<path d="M123.0,250.9 C122.3,246.2 119.0,232.3 118.6,222.7 C118.2,213.1 118.8,203.2 120.4,193.5 C122.1,183.8 124.8,173.8 128.5,164.4 C132.2,155.0 137.1,145.7 142.9,137.1 C148.7,128.5 160.0,116.8 163.4,112.7" fill="none" stroke="#c6c6c6" stroke-width="6.1" stroke-linecap="round" opacity="0.43"/>
<path d="M251.5,331.8 C248.0,332.0 237.5,333.2 230.4,332.8 C223.3,332.4 216.0,331.1 208.9,329.1 C201.8,327.1 191.4,322.0 187.9,320.6" fill="none" stroke="#4d4d4d" stroke-width="4" stroke-linecap="round" opacity="0.24"/>
<path d="M424.2,121.2 C428.1,127.2 441.2,144.4 447.8,157.3 C454.4,170.2 459.8,184.2 463.6,198.4 C467.4,212.7 469.8,227.8 470.6,242.8 C471.4,257.8 468.6,280.8 468.2,288.4" fill="none" stroke="#4d4d4d" stroke-width="4.6" stroke-linecap="round" opacity="0.37"/>
<path d="M307.8,392.5 C302.2,394.4 286.0,401.4 274.4,404.0 C262.8,406.6 250.5,408.1 238.4,408.2 C226.3,408.3 213.8,407.3 201.6,404.8 C189.4,402.3 177.1,398.5 165.5,393.4 C153.9,388.3 137.5,377.5 131.9,374.3" fill="none" stroke="#4d4d4d" stroke-width="7.4" stroke-linecap="round" opacity="0.3"/>
<path d="M127.4,161.6 C129.9,157.0 136.5,142.7 142.5,134.0 C148.5,125.3 160.1,113.7 163.6,109.6" fill="none" stroke="#c6c6c6" stroke-width="7.2" stroke-linecap="round" opacity="0.41"/>
<path d="M194.3,-9.3 C203.0,-11.2 228.5,-18.7 246.2,-20.6 C263.9,-22.5 282.4,-22.6 300.3,-20.7 C318.2,-18.8 345.0,-11.3 353.9,-9.4" fill="none" stroke="#c6c6c6" stroke-width="5.3" stroke-linecap="round" opacity="0.27"/>
<path d="M291.5,394.2 C285.9,395.5 269.3,400.7 257.7,402.2 C246.1,403.7 234.0,404.0 222.1,403.0 C210.2,402.0 198.1,399.8 186.4,396.2 C174.7,392.6 157.8,384.0 152.1,381.6" fill="none" stroke="#c6c6c6" stroke-width="4.6" stroke-linecap="round" opacity="0.41"/>
<path d="M423.6,215.9 C424.3,221.9 427.7,239.6 427.8,251.7 C427.9,263.8 424.9,282.4 424.3,288.5" fill="none" stroke="#c6c6c6" stroke-width="7.4" stroke-linecap="round" opacity="0.21"/>
<path d="M206.4,52.2 C212.9,50.5 232.0,44.1 245.3,42.1 C258.6,40.1 272.5,39.5 286.2,40.4 C299.9,41.3 320.5,46.3 327.4,47.5" fill="none" stroke="#4d4d4d" stroke-width="3.1" stroke-linecap="round" opacity="0.23"/>
<path d="M159.9,262.7 C158.6,259.4 154.0,249.7 152.2,242.7 C150.4,235.7 149.3,228.1 149.0,220.6 C148.7,213.1 149.2,205.2 150.6,197.5 C152.0,189.8 154.2,181.9 157.3,174.5 C160.4,167.1 167.1,156.4 169.1,152.8" fill="none" stroke="#c6c6c6" stroke-width="3.7" stroke-linecap="round" opacity="0.21"/>
<path d="M138.9,112.6 C143.2,108.5 155.3,95.1 164.8,87.8 C174.3,80.5 185.0,73.8 196.1,68.5 C207.2,63.2 219.2,58.9 231.4,56.0 C243.6,53.1 263.1,51.9 269.5,51.1" fill="none" stroke="#4d4d4d" stroke-width="7" stroke-linecap="round" opacity="0.44"/>
<path d="M203.8,117.8 C207.9,115.8 219.8,108.9 228.5,105.8 C237.2,102.7 246.6,100.4 256.0,99.2 C265.4,98.0 275.4,97.7 285.1,98.5 C294.8,99.3 309.5,103.2 314.4,104.1" fill="none" stroke="#c6c6c6" stroke-width="3.1" stroke-linecap="round" opacity="0.32"/>
<path d="M227.2,113.6 C231.5,112.4 244.1,107.9 253.0,106.5 C261.9,105.1 271.2,104.5 280.5,105.0 C289.8,105.5 303.8,108.8 308.5,109.5" fill="none" stroke="#c6c6c6" stroke-width="6.5" stroke-linecap="round" opacity="0.33"/>
<ellipse cx="248" cy="197" rx="5" ry="5" fill="#535353" opacity="1" transform="rotate(0 248 197)"/>
</g></g></g>
</g>
<rect x="705.3" y="362.6" width="115.4" height="114.3" fill="none" stroke="#ff0000" stroke-width="3.5"/>
<rect x="616.3" y="392.4" width="39.3" height="38.4" fill="none" stroke="#ff0000" stroke-width="3.6"/>
<line x1="657.6" y1="390.6" x2="704" y2="363.2" stroke="#ff0000" stroke-width="3.3" stroke-dasharray="3.3,3.3" stroke-dashoffset="1.5"/>
<line x1="657.6" y1="432.6" x2="704" y2="473.7" stroke="#ff0000" stroke-width="3.3" stroke-dasharray="3.3,3.3" stroke-dashoffset="1.5"/>
<text transform="translate(570.3,418.6) rotate(-90)" text-anchor="middle" font-size="22">GT</text>
</g>
</svg>
</body></html>
